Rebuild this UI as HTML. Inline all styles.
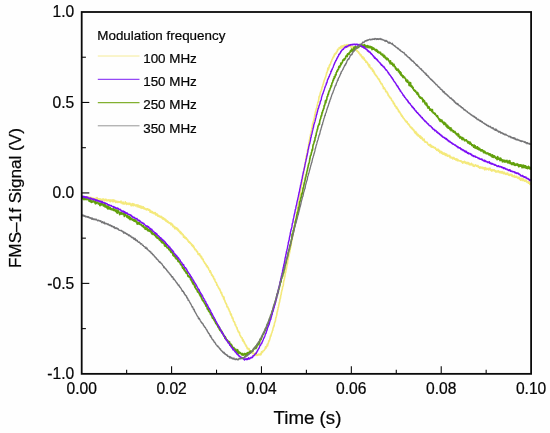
<!DOCTYPE html>
<html><head><meta charset="utf-8"><title>FMS-1f Signal</title>
<style>
html,body{margin:0;padding:0;background:#fefefe;}
body{width:550px;height:433px;overflow:hidden;}
svg{display:block;}
text{font-family:"Liberation Sans",Arial,sans-serif;fill:#050505;stroke:#050505;stroke-width:0.22px;}
</style></head><body>
<svg width="550" height="433" viewBox="0 0 550 433">
<rect x="0" y="0" width="550" height="433" fill="#fefefe"/>
<g fill="none" stroke-linejoin="round" stroke-linecap="butt">
<path d="M81.7,197.7 L81.9,197.9 L82.0,197.3 L82.2,196.5 L82.4,196.4 L82.6,197.0 L82.7,197.1 L82.9,197.0 L83.1,197.0 L83.3,197.1 L83.4,196.7 L83.6,197.2 L83.8,198.0 L83.9,198.4 L84.1,198.1 L84.3,197.3 L84.5,197.1 L84.6,196.7 L84.8,197.3 L85.0,197.5 L85.2,196.7 L85.3,197.1 L85.5,198.1 L85.7,198.3 L85.8,197.4 L86.0,197.0 L86.2,197.7 L86.4,197.9 L86.5,197.4 L86.7,197.4 L86.9,198.0 L87.1,198.9 L87.2,198.1 L87.4,197.2 L87.6,197.4 L87.8,196.7 L87.9,196.7 L88.1,197.2 L88.3,198.0 L88.4,198.4 L88.6,197.4 L88.8,197.7 L89.0,198.2 L89.1,197.3 L89.3,197.3 L89.5,197.7 L89.7,197.6 L89.8,197.9 L90.0,197.4 L90.2,197.3 L90.3,198.5 L90.5,199.0 L90.7,199.0 L90.9,199.2 L91.0,199.3 L91.2,198.5 L91.4,198.3 L91.6,198.0 L91.7,197.5 L91.9,197.5 L92.1,198.2 L92.2,199.4 L92.4,198.9 L92.6,199.1 L92.8,199.0 L92.9,198.4 L93.1,198.7 L93.3,198.3 L93.5,198.4 L93.6,199.6 L93.8,199.0 L94.0,198.7 L94.1,199.0 L94.3,199.3 L94.5,199.6 L94.7,199.2 L94.8,199.3 L95.0,199.2 L95.2,198.4 L95.4,198.9 L95.5,198.9 L95.7,198.5 L95.9,199.2 L96.1,198.9 L96.2,198.7 L96.4,199.5 L96.6,199.4 L96.7,198.7 L96.9,197.6 L97.1,197.6 L97.3,198.5 L97.4,198.7 L97.6,198.6 L97.8,198.9 L98.0,199.1 L98.1,198.9 L98.3,199.4 L98.5,199.1 L98.6,198.8 L98.8,200.0 L99.0,200.4 L99.2,199.1 L99.3,198.8 L99.5,199.5 L99.7,200.0 L99.9,199.9 L100.0,199.2 L100.2,198.9 L100.4,199.4 L100.5,199.8 L100.7,199.4 L100.9,199.2 L101.1,199.3 L101.2,199.6 L101.4,199.6 L101.6,199.5 L101.8,200.1 L101.9,200.1 L102.1,199.5 L102.3,199.8 L102.4,199.9 L102.6,199.6 L102.8,199.6 L103.0,198.8 L103.1,199.2 L103.3,200.0 L103.5,199.9 L103.7,199.9 L103.8,199.7 L104.0,199.3 L104.2,199.5 L104.4,200.5 L104.5,200.9 L104.7,200.0 L104.9,200.0 L105.0,200.0 L105.2,199.6 L105.4,200.1 L105.6,200.1 L105.7,199.2 L105.9,199.1 L106.1,199.8 L106.3,200.2 L106.4,200.6 L106.6,200.3 L106.8,200.2 L106.9,200.6 L107.1,200.3 L107.3,200.5 L107.5,200.7 L107.6,200.1 L107.8,200.4 L108.0,200.2 L108.2,199.9 L108.3,200.4 L108.5,200.5 L108.7,200.3 L108.8,200.1 L109.0,200.4 L109.2,200.8 L109.4,200.5 L109.5,200.2 L109.7,200.4 L109.9,199.9 L110.1,201.1 L110.2,201.6 L110.4,200.0 L110.6,200.6 L110.7,200.8 L110.9,200.4 L111.1,201.1 L111.3,200.8 L111.4,200.3 L111.6,200.4 L111.8,200.5 L112.0,200.1 L112.1,199.7 L112.3,200.3 L112.5,201.2 L112.7,201.5 L112.8,201.8 L113.0,201.8 L113.2,201.0 L113.3,200.7 L113.5,200.2 L113.7,199.9 L113.9,200.3 L114.0,200.8 L114.2,201.4 L114.4,201.2 L114.6,200.7 L114.7,200.4 L114.9,200.6 L115.1,201.3 L115.2,201.5 L115.4,201.1 L115.6,201.7 L115.8,202.5 L115.9,201.8 L116.1,201.1 L116.3,201.1 L116.5,201.4 L116.6,201.5 L116.8,201.6 L117.0,202.0 L117.1,202.3 L117.3,202.5 L117.5,202.0 L117.7,201.7 L117.8,201.6 L118.0,201.3 L118.2,202.2 L118.4,202.3 L118.5,202.3 L118.7,202.4 L118.9,201.8 L119.0,202.3 L119.2,202.3 L119.4,202.0 L119.6,202.0 L119.7,201.7 L119.9,201.7 L120.1,201.7 L120.3,202.4 L120.4,202.6 L120.6,202.7 L120.8,201.7 L121.0,201.1 L121.1,202.4 L121.3,202.3 L121.5,202.5 L121.6,202.9 L121.8,202.4 L122.0,202.4 L122.2,203.6 L122.3,203.5 L122.5,202.6 L122.7,202.4 L122.9,202.4 L123.0,202.1 L123.2,202.0 L123.4,203.4 L123.5,203.9 L123.7,203.3 L123.9,203.3 L124.1,203.8 L124.2,203.7 L124.4,203.8 L124.6,204.0 L124.8,203.3 L124.9,203.6 L125.1,202.7 L125.3,201.8 L125.4,202.8 L125.6,202.8 L125.8,202.6 L126.0,202.8 L126.1,202.6 L126.3,203.9 L126.5,204.4 L126.7,203.4 L126.8,203.7 L127.0,203.7 L127.2,203.6 L127.3,203.8 L127.5,204.1 L127.7,203.5 L127.9,203.2 L128.0,203.8 L128.2,203.2 L128.4,203.5 L128.6,203.7 L128.7,203.9 L128.9,204.5 L129.1,204.2 L129.3,204.1 L129.4,204.2 L129.6,203.5 L129.8,203.2 L129.9,203.7 L130.1,203.8 L130.3,204.1 L130.5,204.3 L130.6,204.0 L130.8,204.5 L131.0,205.7 L131.2,205.0 L131.3,204.2 L131.5,204.4 L131.7,204.9 L131.8,205.6 L132.0,204.7 L132.2,203.8 L132.4,203.9 L132.5,203.8 L132.7,203.6 L132.9,204.2 L133.1,204.4 L133.2,204.9 L133.4,205.7 L133.6,204.8 L133.7,204.1 L133.9,204.3 L134.1,205.3 L134.3,205.2 L134.4,204.2 L134.6,204.6 L134.8,205.3 L135.0,205.1 L135.1,205.6 L135.3,206.0 L135.5,205.6 L135.6,205.3 L135.8,205.1 L136.0,205.5 L136.2,204.7 L136.3,204.9 L136.5,205.1 L136.7,205.1 L136.9,205.2 L137.0,206.0 L137.2,206.8 L137.4,206.4 L137.6,206.7 L137.7,205.9 L137.9,204.8 L138.1,205.2 L138.2,206.4 L138.4,206.6 L138.6,206.7 L138.8,207.0 L138.9,206.2 L139.1,206.1 L139.3,207.4 L139.5,207.1 L139.6,205.7 L139.8,205.9 L140.0,206.5 L140.1,206.8 L140.3,206.7 L140.5,206.7 L140.7,206.2 L140.8,206.6 L141.0,208.1 L141.2,208.3 L141.4,207.2 L141.5,206.9 L141.7,206.4 L141.9,206.5 L142.0,207.6 L142.2,207.2 L142.4,207.4 L142.6,207.9 L142.7,208.2 L142.9,208.3 L143.1,208.1 L143.3,207.4 L143.4,206.9 L143.6,207.5 L143.8,208.1 L143.9,208.4 L144.1,208.9 L144.3,208.6 L144.5,208.1 L144.6,208.6 L144.8,208.6 L145.0,208.8 L145.2,208.7 L145.3,209.1 L145.5,209.3 L145.7,209.3 L145.9,209.5 L146.0,209.7 L146.2,209.2 L146.4,208.9 L146.5,209.4 L146.7,209.3 L146.9,210.0 L147.1,209.6 L147.2,208.7 L147.4,208.8 L147.6,209.5 L147.8,209.3 L147.9,209.3 L148.1,209.6 L148.3,209.2 L148.4,209.6 L148.6,210.3 L148.8,210.3 L149.0,210.0 L149.1,210.3 L149.3,210.5 L149.5,209.6 L149.7,209.6 L149.8,210.7 L150.0,211.4 L150.2,212.2 L150.3,212.1 L150.5,211.4 L150.7,210.9 L150.9,211.0 L151.0,211.7 L151.2,212.3 L151.4,211.7 L151.6,211.4 L151.7,212.2 L151.9,212.8 L152.1,212.7 L152.2,211.9 L152.4,211.6 L152.6,211.8 L152.8,211.9 L152.9,212.4 L153.1,213.2 L153.3,213.2 L153.5,213.4 L153.6,213.0 L153.8,212.8 L154.0,212.9 L154.2,212.9 L154.3,213.6 L154.5,213.6 L154.7,212.6 L154.8,212.6 L155.0,213.1 L155.2,212.7 L155.4,212.8 L155.5,213.8 L155.7,214.9 L155.9,214.4 L156.1,214.2 L156.2,215.0 L156.4,214.3 L156.6,213.9 L156.7,214.4 L156.9,214.6 L157.1,214.1 L157.3,214.0 L157.4,215.1 L157.6,215.8 L157.8,216.2 L158.0,215.7 L158.1,215.8 L158.3,216.3 L158.5,215.2 L158.6,215.3 L158.8,215.8 L159.0,215.8 L159.2,216.0 L159.3,216.4 L159.5,216.6 L159.7,216.2 L159.9,216.6 L160.0,216.9 L160.2,216.5 L160.4,216.9 L160.5,217.1 L160.7,216.4 L160.9,216.5 L161.1,216.3 L161.2,216.4 L161.4,217.8 L161.6,217.8 L161.8,217.2 L161.9,217.2 L162.1,217.1 L162.3,218.2 L162.5,218.9 L162.6,218.2 L162.8,218.0 L163.0,218.0 L163.1,217.8 L163.3,217.9 L163.5,218.0 L163.7,218.5 L163.8,219.2 L164.0,219.4 L164.2,219.2 L164.4,218.7 L164.5,218.8 L164.7,219.1 L164.9,219.6 L165.0,220.2 L165.2,220.3 L165.4,220.1 L165.6,219.3 L165.7,219.9 L165.9,221.1 L166.1,220.3 L166.3,220.1 L166.4,221.2 L166.6,220.9 L166.8,221.2 L166.9,221.6 L167.1,220.7 L167.3,221.4 L167.5,222.1 L167.6,221.4 L167.8,221.8 L168.0,221.4 L168.2,221.9 L168.3,222.5 L168.5,222.0 L168.7,222.3 L168.8,222.5 L169.0,223.1 L169.2,222.8 L169.4,222.9 L169.5,223.2 L169.7,222.8 L169.9,222.9 L170.1,222.9 L170.2,222.9 L170.4,223.7 L170.6,224.1 L170.8,224.3 L170.9,224.7 L171.1,224.0 L171.3,223.3 L171.4,223.5 L171.6,224.5 L171.8,224.9 L172.0,224.6 L172.1,225.1 L172.3,224.9 L172.5,224.2 L172.7,225.0 L172.8,226.5 L173.0,226.7 L173.2,225.7 L173.3,225.9 L173.5,226.7 L173.7,226.9 L173.9,226.7 L174.0,226.2 L174.2,226.5 L174.4,227.1 L174.6,227.8 L174.7,228.6 L174.9,227.9 L175.1,227.0 L175.2,227.4 L175.4,227.7 L175.6,228.0 L175.8,228.5 L175.9,228.5 L176.1,229.0 L176.3,229.0 L176.5,228.3 L176.6,227.9 L176.8,228.1 L177.0,228.4 L177.1,228.2 L177.3,229.0 L177.5,230.0 L177.7,229.7 L177.8,229.5 L178.0,229.2 L178.2,229.3 L178.4,230.8 L178.5,230.5 L178.7,230.0 L178.9,231.3 L179.0,231.4 L179.2,231.2 L179.4,231.6 L179.6,231.4 L179.7,231.5 L179.9,232.6 L180.1,232.2 L180.3,231.5 L180.4,232.1 L180.6,233.0 L180.8,233.6 L181.0,233.7 L181.1,233.1 L181.3,232.6 L181.5,233.1 L181.6,233.8 L181.8,233.5 L182.0,233.5 L182.2,234.2 L182.3,234.8 L182.5,234.5 L182.7,234.4 L182.9,234.6 L183.0,234.4 L183.2,234.9 L183.4,235.8 L183.5,237.3 L183.7,237.0 L183.9,236.1 L184.1,236.6 L184.2,236.1 L184.4,236.2 L184.6,236.4 L184.8,236.9 L184.9,238.1 L185.1,237.8 L185.3,237.2 L185.4,237.8 L185.6,238.4 L185.8,238.0 L186.0,238.3 L186.1,237.8 L186.3,237.9 L186.5,239.1 L186.7,239.3 L186.8,239.2 L187.0,238.9 L187.2,239.2 L187.3,239.9 L187.5,239.8 L187.7,239.7 L187.9,240.2 L188.0,241.1 L188.2,241.1 L188.4,241.2 L188.6,241.7 L188.7,242.2 L188.9,242.0 L189.1,241.5 L189.3,241.5 L189.4,241.7 L189.6,242.3 L189.8,242.9 L189.9,242.7 L190.1,242.6 L190.3,242.6 L190.5,243.2 L190.6,243.6 L190.8,243.5 L191.0,243.6 L191.2,243.5 L191.3,243.8 L191.5,244.7 L191.7,245.3 L191.8,244.8 L192.0,244.6 L192.2,244.6 L192.4,245.4 L192.5,246.4 L192.7,245.9 L192.9,245.2 L193.1,245.8 L193.2,246.2 L193.4,245.8 L193.6,246.3 L193.7,247.4 L193.9,247.0 L194.1,247.0 L194.3,248.2 L194.4,248.7 L194.6,248.4 L194.8,249.1 L195.0,249.7 L195.1,248.8 L195.3,249.2 L195.5,249.3 L195.6,249.5 L195.8,249.7 L196.0,249.8 L196.2,250.3 L196.3,250.7 L196.5,251.4 L196.7,251.4 L196.9,251.4 L197.0,251.8 L197.2,251.4 L197.4,251.4 L197.6,252.4 L197.7,252.7 L197.9,253.1 L198.1,254.5 L198.2,254.5 L198.4,253.6 L198.6,253.9 L198.8,254.4 L198.9,253.9 L199.1,254.1 L199.3,254.9 L199.5,253.7 L199.6,253.7 L199.8,254.8 L200.0,255.5 L200.1,255.8 L200.3,256.3 L200.5,256.5 L200.7,256.5 L200.8,255.9 L201.0,256.4 L201.2,257.8 L201.4,257.7 L201.5,256.9 L201.7,256.8 L201.9,258.4 L202.0,258.9 L202.2,258.3 L202.4,258.5 L202.6,259.3 L202.7,259.6 L202.9,259.3 L203.1,259.2 L203.3,259.8 L203.4,261.0 L203.6,261.2 L203.8,261.4 L203.9,261.8 L204.1,261.8 L204.3,262.1 L204.5,262.3 L204.6,262.9 L204.8,263.3 L205.0,263.0 L205.2,263.2 L205.3,263.6 L205.5,264.0 L205.7,264.4 L205.9,264.7 L206.0,264.3 L206.2,264.6 L206.4,265.9 L206.5,265.5 L206.7,265.9 L206.9,266.8 L207.1,266.4 L207.2,265.9 L207.4,266.7 L207.6,267.3 L207.8,267.0 L207.9,267.9 L208.1,268.0 L208.3,267.7 L208.4,267.9 L208.6,268.5 L208.8,269.5 L209.0,270.0 L209.1,270.2 L209.3,270.2 L209.5,270.4 L209.7,270.6 L209.8,271.6 L210.0,272.2 L210.2,271.0 L210.3,270.9 L210.5,272.5 L210.7,272.7 L210.9,272.2 L211.0,273.2 L211.2,273.3 L211.4,273.8 L211.6,275.2 L211.7,274.8 L211.9,274.9 L212.1,275.2 L212.2,274.7 L212.4,275.4 L212.6,276.2 L212.8,276.2 L212.9,276.8 L213.1,276.7 L213.3,276.4 L213.5,276.9 L213.6,277.8 L213.8,278.8 L214.0,279.1 L214.2,278.7 L214.3,278.8 L214.5,279.8 L214.7,279.5 L214.8,279.3 L215.0,280.5 L215.2,281.4 L215.4,281.6 L215.5,281.8 L215.7,282.2 L215.9,282.4 L216.1,282.6 L216.2,282.5 L216.4,282.8 L216.6,283.3 L216.7,284.6 L216.9,285.2 L217.1,284.7 L217.3,284.8 L217.4,285.1 L217.6,285.5 L217.8,286.1 L218.0,286.5 L218.1,287.0 L218.3,287.1 L218.5,287.2 L218.6,288.2 L218.8,288.0 L219.0,288.0 L219.2,288.9 L219.3,289.1 L219.5,289.2 L219.7,288.9 L219.9,289.9 L220.0,290.6 L220.2,290.1 L220.4,291.0 L220.5,291.2 L220.7,291.7 L220.9,292.9 L221.1,293.1 L221.2,293.2 L221.4,292.9 L221.6,292.6 L221.8,294.0 L221.9,294.9 L222.1,294.5 L222.3,295.7 L222.5,296.0 L222.6,295.7 L222.8,296.2 L223.0,296.6 L223.1,296.7 L223.3,296.9 L223.5,298.1 L223.7,299.0 L223.8,297.8 L224.0,297.1 L224.2,298.8 L224.4,299.8 L224.5,299.9 L224.7,300.8 L224.9,300.6 L225.0,301.0 L225.2,302.1 L225.4,302.3 L225.6,302.7 L225.7,303.2 L225.9,303.4 L226.1,303.3 L226.3,304.0 L226.4,304.7 L226.6,304.3 L226.8,305.1 L226.9,306.4 L227.1,306.9 L227.3,306.8 L227.5,306.8 L227.6,307.0 L227.8,306.9 L228.0,307.5 L228.2,308.3 L228.3,308.4 L228.5,309.4 L228.7,309.4 L228.8,308.8 L229.0,309.6 L229.2,310.8 L229.4,311.3 L229.5,311.1 L229.7,311.2 L229.9,311.5 L230.1,311.7 L230.2,312.8 L230.4,313.9 L230.6,314.3 L230.8,314.2 L230.9,315.1 L231.1,315.4 L231.3,314.1 L231.4,314.8 L231.6,316.0 L231.8,316.8 L232.0,316.7 L232.1,317.0 L232.3,318.5 L232.5,318.3 L232.7,317.8 L232.8,317.9 L233.0,318.6 L233.2,320.0 L233.3,320.6 L233.5,321.0 L233.7,321.6 L233.9,321.7 L234.0,321.9 L234.2,321.9 L234.4,321.7 L234.6,322.5 L234.7,322.9 L234.9,323.4 L235.1,324.6 L235.2,324.9 L235.4,324.5 L235.6,324.5 L235.8,325.7 L235.9,326.0 L236.1,326.0 L236.3,326.5 L236.5,326.9 L236.6,327.8 L236.8,328.0 L237.0,327.4 L237.1,328.5 L237.3,329.5 L237.5,329.6 L237.7,329.9 L237.8,330.3 L238.0,331.2 L238.2,331.7 L238.4,331.5 L238.5,331.3 L238.7,331.9 L238.9,332.5 L239.1,332.9 L239.2,332.9 L239.4,332.2 L239.6,333.0 L239.7,334.5 L239.9,334.9 L240.1,335.6 L240.3,336.0 L240.4,335.6 L240.6,336.0 L240.8,336.4 L241.0,336.9 L241.1,337.3 L241.3,337.4 L241.5,337.7 L241.6,337.9 L241.8,337.6 L242.0,337.9 L242.2,337.9 L242.3,338.4 L242.5,340.0 L242.7,340.9 L242.9,340.9 L243.0,340.2 L243.2,339.8 L243.4,341.1 L243.5,341.5 L243.7,341.4 L243.9,341.4 L244.1,341.3 L244.2,342.7 L244.4,343.2 L244.6,343.2 L244.8,343.1 L244.9,343.0 L245.1,344.0 L245.3,344.8 L245.4,344.6 L245.6,344.8 L245.8,344.8 L246.0,345.4 L246.1,346.5 L246.3,346.1 L246.5,345.9 L246.7,346.9 L246.8,346.9 L247.0,347.5 L247.2,348.6 L247.4,347.9 L247.5,348.0 L247.7,348.9 L247.9,348.3 L248.0,348.2 L248.2,348.8 L248.4,348.7 L248.6,349.3 L248.7,349.4 L248.9,348.8 L249.1,348.7 L249.3,349.4 L249.4,350.3 L249.6,350.5 L249.8,350.4 L249.9,350.6 L250.1,351.3 L250.3,351.7 L250.5,351.1 L250.6,351.0 L250.8,351.9 L251.0,351.9 L251.2,351.5 L251.3,351.8 L251.5,351.7 L251.7,352.2 L251.8,351.9 L252.0,352.3 L252.2,353.1 L252.4,352.2 L252.5,352.6 L252.7,352.5 L252.9,352.7 L253.1,353.7 L253.2,353.4 L253.4,353.1 L253.6,353.8 L253.7,353.8 L253.9,353.5 L254.1,354.0 L254.3,354.6 L254.4,354.4 L254.6,353.9 L254.8,354.6 L255.0,353.7 L255.1,353.2 L255.3,353.5 L255.5,353.0 L255.7,354.5 L255.8,355.4 L256.0,355.2 L256.2,355.1 L256.3,354.8 L256.5,354.7 L256.7,354.4 L256.9,354.5 L257.0,354.8 L257.2,355.4 L257.4,355.3 L257.6,354.9 L257.7,354.8 L257.9,354.7 L258.1,354.3 L258.2,354.6 L258.4,354.8 L258.6,354.4 L258.8,354.4 L258.9,354.7 L259.1,354.9 L259.3,354.5 L259.5,354.3 L259.6,354.3 L259.8,354.4 L260.0,354.4 L260.1,354.5 L260.3,354.8 L260.5,354.4 L260.7,353.2 L260.8,353.5 L261.0,354.7 L261.2,353.7 L261.4,352.7 L261.5,351.9 L261.7,352.2 L261.9,352.4 L262.0,352.7 L262.2,352.0 L262.4,351.2 L262.6,352.2 L262.7,351.9 L262.9,351.1 L263.1,351.2 L263.3,351.1 L263.4,350.7 L263.6,350.7 L263.8,350.5 L263.9,350.2 L264.1,350.5 L264.3,350.2 L264.5,349.8 L264.6,349.4 L264.8,349.5 L265.0,349.0 L265.2,348.8 L265.3,347.9 L265.5,346.9 L265.7,347.2 L265.9,347.6 L266.0,348.1 L266.2,346.9 L266.4,346.3 L266.5,347.0 L266.7,346.8 L266.9,346.2 L267.1,345.3 L267.2,344.2 L267.4,344.7 L267.6,345.7 L267.8,344.9 L267.9,343.9 L268.1,343.3 L268.3,343.2 L268.4,343.0 L268.6,341.9 L268.8,340.9 L269.0,340.5 L269.1,340.8 L269.3,341.0 L269.5,340.0 L269.7,339.4 L269.8,339.2 L270.0,338.2 L270.2,337.5 L270.3,336.4 L270.5,335.8 L270.7,336.5 L270.9,336.0 L271.0,334.7 L271.2,335.0 L271.4,333.9 L271.6,333.1 L271.7,333.1 L271.9,332.5 L272.1,332.4 L272.2,331.7 L272.4,330.7 L272.6,330.5 L272.8,330.2 L272.9,329.1 L273.1,328.2 L273.3,327.3 L273.5,327.3 L273.6,326.7 L273.8,325.7 L274.0,326.2 L274.2,325.8 L274.3,324.4 L274.5,323.2 L274.7,322.4 L274.8,322.4 L275.0,322.1 L275.2,321.1 L275.4,321.2 L275.5,320.2 L275.7,318.4 L275.9,317.9 L276.1,317.4 L276.2,317.0 L276.4,316.1 L276.6,315.5 L276.7,315.1 L276.9,314.0 L277.1,312.1 L277.3,311.8 L277.4,311.6 L277.6,310.3 L277.8,309.8 L278.0,308.9 L278.1,307.8 L278.3,307.5 L278.5,306.9 L278.6,306.2 L278.8,305.2 L279.0,304.2 L279.2,303.3 L279.3,302.5 L279.5,302.2 L279.7,301.4 L279.9,299.9 L280.0,299.1 L280.2,298.9 L280.4,298.5 L280.5,297.6 L280.7,296.2 L280.9,295.0 L281.1,295.0 L281.2,294.3 L281.4,292.3 L281.6,291.7 L281.8,290.6 L281.9,290.2 L282.1,290.1 L282.3,289.1 L282.5,287.8 L282.6,286.6 L282.8,286.4 L283.0,286.1 L283.1,286.0 L283.3,285.2 L283.5,282.6 L283.7,281.4 L283.8,281.1 L284.0,280.6 L284.2,279.9 L284.4,278.8 L284.5,277.8 L284.7,277.0 L284.9,276.8 L285.0,275.5 L285.2,273.4 L285.4,272.3 L285.6,272.8 L285.7,272.4 L285.9,270.9 L286.1,269.6 L286.3,269.2 L286.4,268.8 L286.6,267.5 L286.8,266.4 L286.9,265.5 L287.1,264.7 L287.3,264.1 L287.5,263.8 L287.6,262.0 L287.8,260.1 L288.0,259.9 L288.2,259.6 L288.3,258.2 L288.5,257.1 L288.7,256.6 L288.8,255.8 L289.0,254.9 L289.2,254.1 L289.4,253.8 L289.5,253.2 L289.7,252.2 L289.9,251.1 L290.1,249.7 L290.2,248.6 L290.4,248.2 L290.6,247.5 L290.8,246.7 L290.9,245.8 L291.1,244.6 L291.3,243.8 L291.4,242.3 L291.6,241.2 L291.8,240.6 L292.0,240.1 L292.1,239.1 L292.3,238.0 L292.5,237.2 L292.7,236.3 L292.8,235.8 L293.0,234.6 L293.2,233.5 L293.3,232.7 L293.5,232.0 L293.7,230.9 L293.9,229.7 L294.0,228.7 L294.2,227.4 L294.4,226.7 L294.6,226.2 L294.7,224.9 L294.9,224.4 L295.1,223.5 L295.2,222.2 L295.4,221.7 L295.6,219.8 L295.8,218.7 L295.9,217.7 L296.1,216.7 L296.3,216.6 L296.5,216.4 L296.6,215.4 L296.8,213.2 L297.0,211.8 L297.1,211.9 L297.3,211.1 L297.5,210.2 L297.7,208.9 L297.8,207.0 L298.0,205.7 L298.2,204.8 L298.4,204.8 L298.5,203.5 L298.7,202.4 L298.9,201.9 L299.1,200.8 L299.2,199.5 L299.4,198.2 L299.6,198.1 L299.7,196.5 L299.9,195.0 L300.1,195.0 L300.3,193.8 L300.4,192.9 L300.6,190.5 L300.8,188.7 L301.0,188.4 L301.1,187.3 L301.3,186.6 L301.5,185.9 L301.6,184.6 L301.8,183.7 L302.0,182.4 L302.2,181.4 L302.3,180.8 L302.5,178.8 L302.7,177.2 L302.9,176.1 L303.0,175.4 L303.2,175.1 L303.4,174.9 L303.5,174.1 L303.7,172.1 L303.9,169.9 L304.1,169.3 L304.2,168.6 L304.4,167.6 L304.6,166.9 L304.8,166.9 L304.9,165.5 L305.1,163.6 L305.3,164.0 L305.4,162.7 L305.6,160.7 L305.8,160.5 L306.0,159.0 L306.1,156.7 L306.3,156.1 L306.5,155.9 L306.7,155.7 L306.8,154.5 L307.0,154.1 L307.2,153.1 L307.4,151.3 L307.5,150.3 L307.7,149.9 L307.9,149.0 L308.0,147.5 L308.2,147.2 L308.4,146.9 L308.6,145.7 L308.7,143.9 L308.9,142.2 L309.1,141.7 L309.3,141.1 L309.4,140.1 L309.6,139.2 L309.8,138.8 L309.9,137.6 L310.1,136.6 L310.3,135.9 L310.5,134.8 L310.6,134.0 L310.8,133.6 L311.0,132.9 L311.2,131.5 L311.3,130.7 L311.5,130.2 L311.7,129.4 L311.8,128.4 L312.0,127.9 L312.2,127.3 L312.4,125.7 L312.5,124.2 L312.7,123.3 L312.9,123.2 L313.1,122.7 L313.2,121.6 L313.4,121.1 L313.6,120.9 L313.7,121.0 L313.9,119.7 L314.1,118.9 L314.3,118.4 L314.4,117.3 L314.6,116.3 L314.8,114.6 L315.0,114.1 L315.1,114.4 L315.3,112.9 L315.5,111.6 L315.7,111.6 L315.8,111.1 L316.0,109.9 L316.2,108.8 L316.3,108.8 L316.5,109.0 L316.7,108.0 L316.9,107.0 L317.0,106.4 L317.2,105.5 L317.4,104.6 L317.6,103.7 L317.7,102.9 L317.9,102.4 L318.1,102.4 L318.2,101.7 L318.4,100.9 L318.6,100.0 L318.8,99.3 L318.9,97.7 L319.1,96.3 L319.3,96.7 L319.5,96.0 L319.6,95.7 L319.8,95.8 L320.0,94.6 L320.1,94.0 L320.3,93.1 L320.5,92.1 L320.7,92.0 L320.8,91.1 L321.0,91.0 L321.2,90.8 L321.4,90.2 L321.5,89.8 L321.7,89.0 L321.9,88.1 L322.0,87.3 L322.2,86.9 L322.4,86.5 L322.6,86.6 L322.7,85.8 L322.9,84.6 L323.1,84.4 L323.3,84.2 L323.4,83.5 L323.6,82.5 L323.8,81.8 L324.0,81.4 L324.1,81.1 L324.3,80.3 L324.5,79.6 L324.6,79.6 L324.8,79.2 L325.0,78.1 L325.2,77.9 L325.3,77.8 L325.5,77.3 L325.7,76.8 L325.9,75.9 L326.0,75.2 L326.2,74.9 L326.4,74.4 L326.5,73.1 L326.7,72.6 L326.9,72.8 L327.1,72.5 L327.2,71.8 L327.4,71.1 L327.6,70.1 L327.8,69.0 L327.9,68.1 L328.1,68.1 L328.3,69.4 L328.4,69.7 L328.6,68.2 L328.8,67.3 L329.0,67.8 L329.1,66.9 L329.3,65.3 L329.5,65.5 L329.7,65.7 L329.8,64.6 L330.0,64.9 L330.2,64.8 L330.3,64.1 L330.5,64.1 L330.7,63.3 L330.9,62.0 L331.0,61.9 L331.2,61.9 L331.4,61.5 L331.6,61.3 L331.7,60.3 L331.9,59.8 L332.1,59.6 L332.3,59.1 L332.4,58.9 L332.6,58.7 L332.8,58.5 L332.9,57.5 L333.1,57.3 L333.3,56.9 L333.5,57.2 L333.6,57.1 L333.8,55.9 L334.0,56.4 L334.2,56.0 L334.3,54.7 L334.5,54.0 L334.7,54.2 L334.8,54.6 L335.0,54.5 L335.2,54.2 L335.4,53.4 L335.5,53.2 L335.7,53.6 L335.9,52.9 L336.1,53.4 L336.2,53.3 L336.4,52.1 L336.6,52.8 L336.7,52.4 L336.9,51.6 L337.1,51.3 L337.3,51.4 L337.4,50.0 L337.6,49.4 L337.8,50.1 L338.0,49.4 L338.1,49.5 L338.3,49.6 L338.5,49.6 L338.6,49.1 L338.8,49.2 L339.0,48.5 L339.2,47.5 L339.3,47.7 L339.5,48.0 L339.7,48.1 L339.9,48.1 L340.0,47.9 L340.2,48.1 L340.4,48.5 L340.6,47.7 L340.7,46.7 L340.9,46.3 L341.1,46.3 L341.2,47.1 L341.4,47.9 L341.6,46.8 L341.8,47.2 L341.9,47.4 L342.1,45.8 L342.3,46.2 L342.5,47.5 L342.6,47.0 L342.8,46.1 L343.0,46.5 L343.1,46.6 L343.3,46.0 L343.5,46.3 L343.7,46.4 L343.8,46.0 L344.0,45.4 L344.2,45.8 L344.4,45.4 L344.5,45.1 L344.7,46.0 L344.9,46.1 L345.0,45.8 L345.2,45.6 L345.4,46.0 L345.6,45.5 L345.7,45.2 L345.9,45.7 L346.1,45.2 L346.3,44.7 L346.4,45.8 L346.6,46.5 L346.8,45.6 L346.9,45.5 L347.1,45.9 L347.3,46.2 L347.5,46.5 L347.6,45.0 L347.8,44.5 L348.0,45.9 L348.2,46.7 L348.3,46.0 L348.5,44.9 L348.7,45.3 L348.9,45.5 L349.0,45.4 L349.2,45.3 L349.4,45.6 L349.5,46.3 L349.7,46.2 L349.9,45.7 L350.1,44.9 L350.2,44.9 L350.4,45.8 L350.6,45.7 L350.8,45.8 L350.9,47.2 L351.1,46.8 L351.3,46.1 L351.4,46.8 L351.6,47.3 L351.8,46.8 L352.0,46.5 L352.1,46.8 L352.3,46.9 L352.5,47.2 L352.7,47.5 L352.8,47.9 L353.0,47.2 L353.2,47.3 L353.3,48.4 L353.5,48.0 L353.7,48.0 L353.9,48.5 L354.0,48.6 L354.2,48.3 L354.4,48.4 L354.6,48.4 L354.7,47.9 L354.9,48.0 L355.1,48.3 L355.2,48.9 L355.4,49.6 L355.6,49.8 L355.8,50.2 L355.9,50.2 L356.1,49.6 L356.3,49.5 L356.5,49.6 L356.6,49.9 L356.8,51.0 L357.0,50.7 L357.1,50.6 L357.3,51.3 L357.5,51.6 L357.7,51.6 L357.8,51.8 L358.0,51.9 L358.2,52.1 L358.4,51.7 L358.5,51.9 L358.7,53.1 L358.9,52.5 L359.1,52.7 L359.2,53.1 L359.4,53.4 L359.6,54.0 L359.7,54.1 L359.9,54.4 L360.1,53.9 L360.3,54.6 L360.4,55.7 L360.6,54.9 L360.8,54.9 L361.0,55.6 L361.1,55.4 L361.3,55.0 L361.5,56.0 L361.6,56.4 L361.8,56.5 L362.0,57.6 L362.2,57.6 L362.3,56.8 L362.5,57.2 L362.7,57.2 L362.9,56.7 L363.0,58.5 L363.2,58.8 L363.4,58.0 L363.5,58.1 L363.7,58.2 L363.9,58.9 L364.1,58.1 L364.2,58.0 L364.4,59.5 L364.6,60.3 L364.8,60.4 L364.9,59.9 L365.1,60.2 L365.3,60.5 L365.4,60.3 L365.6,60.7 L365.8,62.1 L366.0,62.0 L366.1,61.7 L366.3,62.4 L366.5,61.7 L366.7,61.5 L366.8,62.2 L367.0,62.6 L367.2,63.0 L367.4,63.0 L367.5,62.8 L367.7,63.7 L367.9,64.3 L368.0,63.9 L368.2,64.1 L368.4,65.4 L368.6,65.4 L368.7,64.4 L368.9,65.2 L369.1,66.7 L369.3,67.0 L369.4,66.1 L369.6,65.0 L369.8,66.2 L369.9,67.2 L370.1,67.1 L370.3,67.4 L370.5,68.1 L370.6,68.4 L370.8,67.9 L371.0,68.2 L371.2,68.1 L371.3,68.3 L371.5,69.0 L371.7,68.4 L371.8,68.2 L372.0,68.8 L372.2,68.9 L372.4,69.7 L372.5,71.0 L372.7,71.2 L372.9,70.5 L373.1,69.9 L373.2,71.0 L373.4,71.8 L373.6,71.8 L373.7,71.6 L373.9,71.2 L374.1,72.7 L374.3,73.5 L374.4,72.9 L374.6,72.9 L374.8,73.8 L375.0,74.4 L375.1,74.0 L375.3,74.4 L375.5,74.7 L375.7,75.5 L375.8,75.1 L376.0,75.0 L376.2,75.7 L376.3,75.6 L376.5,75.9 L376.7,76.4 L376.9,76.5 L377.0,76.4 L377.2,77.3 L377.4,77.6 L377.6,77.4 L377.7,78.1 L377.9,78.5 L378.1,78.5 L378.2,78.8 L378.4,78.8 L378.6,79.4 L378.8,79.6 L378.9,78.9 L379.1,79.8 L379.3,80.2 L379.5,79.9 L379.6,80.6 L379.8,81.5 L380.0,81.7 L380.1,81.5 L380.3,81.8 L380.5,82.4 L380.7,82.6 L380.8,82.8 L381.0,83.8 L381.2,83.9 L381.4,83.5 L381.5,83.5 L381.7,83.6 L381.9,83.8 L382.0,83.9 L382.2,84.5 L382.4,85.3 L382.6,86.0 L382.7,85.9 L382.9,86.2 L383.1,86.1 L383.3,87.0 L383.4,88.7 L383.6,88.2 L383.8,87.7 L384.0,88.1 L384.1,88.5 L384.3,88.5 L384.5,87.9 L384.6,88.7 L384.8,89.1 L385.0,89.2 L385.2,89.6 L385.3,89.4 L385.5,90.4 L385.7,91.6 L385.9,91.4 L386.0,91.0 L386.2,91.4 L386.4,91.6 L386.5,91.2 L386.7,91.6 L386.9,91.7 L387.1,92.2 L387.2,93.1 L387.4,93.3 L387.6,93.2 L387.8,93.1 L387.9,94.2 L388.1,95.2 L388.3,95.6 L388.4,95.5 L388.6,95.1 L388.8,95.4 L389.0,96.1 L389.1,96.1 L389.3,96.8 L389.5,96.9 L389.7,97.4 L389.8,97.7 L390.0,97.0 L390.2,97.5 L390.3,97.6 L390.5,97.7 L390.7,98.5 L390.9,98.3 L391.0,98.2 L391.2,98.6 L391.4,99.0 L391.6,100.3 L391.7,100.5 L391.9,100.3 L392.1,100.8 L392.3,100.8 L392.4,101.0 L392.6,101.5 L392.8,101.5 L392.9,101.3 L393.1,101.6 L393.3,102.9 L393.5,103.8 L393.6,103.6 L393.8,103.4 L394.0,103.7 L394.2,103.5 L394.3,103.2 L394.5,104.6 L394.7,105.1 L394.8,104.8 L395.0,106.1 L395.2,106.1 L395.4,105.7 L395.5,106.2 L395.7,106.4 L395.9,106.7 L396.1,107.0 L396.2,107.6 L396.4,108.1 L396.6,107.5 L396.7,107.1 L396.9,107.6 L397.1,108.1 L397.3,108.3 L397.4,109.2 L397.6,109.4 L397.8,109.2 L398.0,109.8 L398.1,109.4 L398.3,109.8 L398.5,111.0 L398.6,111.6 L398.8,111.3 L399.0,110.9 L399.2,111.6 L399.3,111.9 L399.5,111.5 L399.7,112.2 L399.9,112.9 L400.0,112.9 L400.2,112.9 L400.4,113.4 L400.6,113.9 L400.7,113.5 L400.9,114.2 L401.1,115.1 L401.2,114.7 L401.4,114.9 L401.6,116.1 L401.8,116.1 L401.9,115.2 L402.1,115.6 L402.3,116.7 L402.5,116.4 L402.6,116.8 L402.8,117.4 L403.0,117.0 L403.1,117.7 L403.3,118.0 L403.5,118.3 L403.7,118.5 L403.8,118.4 L404.0,118.7 L404.2,118.8 L404.4,119.3 L404.5,119.6 L404.7,119.5 L404.9,119.9 L405.0,120.2 L405.2,120.5 L405.4,121.0 L405.6,120.8 L405.7,120.5 L405.9,120.8 L406.1,121.8 L406.3,122.1 L406.4,122.1 L406.6,122.3 L406.8,122.0 L406.9,122.0 L407.1,121.6 L407.3,122.2 L407.5,123.2 L407.6,123.2 L407.8,123.7 L408.0,123.6 L408.2,124.2 L408.3,124.2 L408.5,123.9 L408.7,124.2 L408.9,124.2 L409.0,125.3 L409.2,125.1 L409.4,124.9 L409.5,125.7 L409.7,125.9 L409.9,126.2 L410.1,126.6 L410.2,126.9 L410.4,127.0 L410.6,127.3 L410.8,127.6 L410.9,127.5 L411.1,127.0 L411.3,127.5 L411.4,128.0 L411.6,128.6 L411.8,128.7 L412.0,127.8 L412.1,128.6 L412.3,129.0 L412.5,128.2 L412.7,129.1 L412.8,129.4 L413.0,129.6 L413.2,130.0 L413.3,129.8 L413.5,130.5 L413.7,129.8 L413.9,129.9 L414.0,130.6 L414.2,130.9 L414.4,131.4 L414.6,132.2 L414.7,132.1 L414.9,131.6 L415.1,132.7 L415.2,133.2 L415.4,132.9 L415.6,132.2 L415.8,131.6 L415.9,132.1 L416.1,132.8 L416.3,133.3 L416.5,134.6 L416.6,134.1 L416.8,133.1 L417.0,134.0 L417.2,134.4 L417.3,134.8 L417.5,134.8 L417.7,134.2 L417.8,135.2 L418.0,135.9 L418.2,134.9 L418.4,134.7 L418.5,135.3 L418.7,135.1 L418.9,135.5 L419.1,136.3 L419.2,136.1 L419.4,135.9 L419.6,136.9 L419.7,137.2 L419.9,136.5 L420.1,135.9 L420.3,136.0 L420.4,137.2 L420.6,138.3 L420.8,137.7 L421.0,136.6 L421.1,137.2 L421.3,138.1 L421.5,138.6 L421.6,138.5 L421.8,138.3 L422.0,138.1 L422.2,137.7 L422.3,138.4 L422.5,138.8 L422.7,139.4 L422.9,140.1 L423.0,139.6 L423.2,139.9 L423.4,140.3 L423.5,139.6 L423.7,140.5 L423.9,139.9 L424.1,139.1 L424.2,139.8 L424.4,140.5 L424.6,141.4 L424.8,141.9 L424.9,141.3 L425.1,141.3 L425.3,141.7 L425.5,142.1 L425.6,142.3 L425.8,142.3 L426.0,142.1 L426.1,142.2 L426.3,142.2 L426.5,142.1 L426.7,142.1 L426.8,142.1 L427.0,142.6 L427.2,142.4 L427.4,142.9 L427.5,143.7 L427.7,143.8 L427.9,143.8 L428.0,144.1 L428.2,144.6 L428.4,144.8 L428.6,144.7 L428.7,145.2 L428.9,145.0 L429.1,144.6 L429.3,144.5 L429.4,145.2 L429.6,145.7 L429.8,145.0 L429.9,145.7 L430.1,145.7 L430.3,145.0 L430.5,144.5 L430.6,144.8 L430.8,146.4 L431.0,146.7 L431.2,146.7 L431.3,147.1 L431.5,146.4 L431.7,145.7 L431.8,145.9 L432.0,146.8 L432.2,146.9 L432.4,146.8 L432.5,147.2 L432.7,147.1 L432.9,146.5 L433.1,146.6 L433.2,147.5 L433.4,147.4 L433.6,146.9 L433.8,147.0 L433.9,147.4 L434.1,147.8 L434.3,148.0 L434.4,147.7 L434.6,147.8 L434.8,148.2 L435.0,147.9 L435.1,147.6 L435.3,147.6 L435.5,148.2 L435.7,148.8 L435.8,149.3 L436.0,149.3 L436.2,149.4 L436.3,149.0 L436.5,149.4 L436.7,150.2 L436.9,150.3 L437.0,149.9 L437.2,149.7 L437.4,149.8 L437.6,149.4 L437.7,149.6 L437.9,149.6 L438.1,149.2 L438.2,150.1 L438.4,151.0 L438.6,151.2 L438.8,151.0 L438.9,150.8 L439.1,151.2 L439.3,151.2 L439.5,150.3 L439.6,151.4 L439.8,152.7 L440.0,152.5 L440.1,152.1 L440.3,151.5 L440.5,151.6 L440.7,152.1 L440.8,151.6 L441.0,151.4 L441.2,152.2 L441.4,153.1 L441.5,153.2 L441.7,152.6 L441.9,152.0 L442.0,153.0 L442.2,153.6 L442.4,153.2 L442.6,153.3 L442.7,152.6 L442.9,153.5 L443.1,154.3 L443.3,154.1 L443.4,153.6 L443.6,153.2 L443.8,154.1 L444.0,154.1 L444.1,153.4 L444.3,153.2 L444.5,153.0 L444.6,153.9 L444.8,154.4 L445.0,153.5 L445.2,154.2 L445.3,155.5 L445.5,155.4 L445.7,154.3 L445.9,154.0 L446.0,155.3 L446.2,154.9 L446.4,154.2 L446.5,154.6 L446.7,154.2 L446.9,154.5 L447.1,155.7 L447.2,156.0 L447.4,156.2 L447.6,156.1 L447.8,155.6 L447.9,155.6 L448.1,155.4 L448.3,155.2 L448.4,155.2 L448.6,155.7 L448.8,155.9 L449.0,156.0 L449.1,156.3 L449.3,156.6 L449.5,156.5 L449.7,155.5 L449.8,155.4 L450.0,157.0 L450.2,157.7 L450.3,156.9 L450.5,156.6 L450.7,156.8 L450.9,156.8 L451.0,157.0 L451.2,157.5 L451.4,158.0 L451.6,157.7 L451.7,157.2 L451.9,157.3 L452.1,157.5 L452.3,158.1 L452.4,157.8 L452.6,158.3 L452.8,158.9 L452.9,158.6 L453.1,158.1 L453.3,157.6 L453.5,157.8 L453.6,158.1 L453.8,157.6 L454.0,157.8 L454.2,158.0 L454.3,158.0 L454.5,159.1 L454.7,159.0 L454.8,158.7 L455.0,158.7 L455.2,158.8 L455.4,159.0 L455.5,159.5 L455.7,159.7 L455.9,160.0 L456.1,159.9 L456.2,159.2 L456.4,159.0 L456.6,158.8 L456.7,158.9 L456.9,159.3 L457.1,160.1 L457.3,160.6 L457.4,160.7 L457.6,159.9 L457.8,159.4 L458.0,160.5 L458.1,160.6 L458.3,160.1 L458.5,160.1 L458.6,160.4 L458.8,160.5 L459.0,160.6 L459.2,161.0 L459.3,161.0 L459.5,160.8 L459.7,160.8 L459.9,161.0 L460.0,160.8 L460.2,160.9 L460.4,161.1 L460.6,161.3 L460.7,161.2 L460.9,160.9 L461.1,161.2 L461.2,160.9 L461.4,161.4 L461.6,162.0 L461.8,161.7 L461.9,162.0 L462.1,162.0 L462.3,161.6 L462.5,162.2 L462.6,163.1 L462.8,162.8 L463.0,162.6 L463.1,162.7 L463.3,161.8 L463.5,162.0 L463.7,162.8 L463.8,162.8 L464.0,162.5 L464.2,162.1 L464.4,161.2 L464.5,161.7 L464.7,162.1 L464.9,162.0 L465.0,162.3 L465.2,162.5 L465.4,163.1 L465.6,162.5 L465.7,162.1 L465.9,162.7 L466.1,163.4 L466.3,163.5 L466.4,162.7 L466.6,162.6 L466.8,163.6 L466.9,163.5 L467.1,162.9 L467.3,163.4 L467.5,163.0 L467.6,162.7 L467.8,162.4 L468.0,162.5 L468.2,163.5 L468.3,164.0 L468.5,163.1 L468.7,163.6 L468.9,163.8 L469.0,163.0 L469.2,164.2 L469.4,164.7 L469.5,164.2 L469.7,164.6 L469.9,164.7 L470.1,164.3 L470.2,164.2 L470.4,164.0 L470.6,164.3 L470.8,164.8 L470.9,164.6 L471.1,164.2 L471.3,163.7 L471.4,163.2 L471.6,164.3 L471.8,164.8 L472.0,164.5 L472.1,164.9 L472.3,165.0 L472.5,164.8 L472.7,164.9 L472.8,164.2 L473.0,164.5 L473.2,165.9 L473.3,166.2 L473.5,165.7 L473.7,165.4 L473.9,165.6 L474.0,166.1 L474.2,166.4 L474.4,165.8 L474.6,165.3 L474.7,165.4 L474.9,165.3 L475.1,165.2 L475.2,165.4 L475.4,164.8 L475.6,165.0 L475.8,165.8 L475.9,165.2 L476.1,165.4 L476.3,165.6 L476.5,166.2 L476.6,166.1 L476.8,165.7 L477.0,166.3 L477.2,166.0 L477.3,165.5 L477.5,166.0 L477.7,166.3 L477.8,165.9 L478.0,165.5 L478.2,166.2 L478.4,167.3 L478.5,166.9 L478.7,166.6 L478.9,167.3 L479.1,167.5 L479.2,166.9 L479.4,166.8 L479.6,167.3 L479.7,168.1 L479.9,168.0 L480.1,167.5 L480.3,167.7 L480.4,167.6 L480.6,167.0 L480.8,166.9 L481.0,167.9 L481.1,167.7 L481.3,167.3 L481.5,167.2 L481.6,167.3 L481.8,167.7 L482.0,167.9 L482.2,167.7 L482.3,167.3 L482.5,167.3 L482.7,167.6 L482.9,167.9 L483.0,168.7 L483.2,168.4 L483.4,167.9 L483.5,168.0 L483.7,167.6 L483.9,168.2 L484.1,168.6 L484.2,168.5 L484.4,167.9 L484.6,168.7 L484.8,169.9 L484.9,168.8 L485.1,167.6 L485.3,167.6 L485.5,168.2 L485.6,168.2 L485.8,168.3 L486.0,168.4 L486.1,169.3 L486.3,169.5 L486.5,168.4 L486.7,169.3 L486.8,169.6 L487.0,168.9 L487.2,168.8 L487.4,169.1 L487.5,169.0 L487.7,168.9 L487.9,168.9 L488.0,168.4 L488.2,168.5 L488.4,169.1 L488.6,169.8 L488.7,169.9 L488.9,169.2 L489.1,169.2 L489.3,169.6 L489.4,168.8 L489.6,168.5 L489.8,168.5 L489.9,168.1 L490.1,168.7 L490.3,169.3 L490.5,169.6 L490.6,169.7 L490.8,170.2 L491.0,170.4 L491.2,170.1 L491.3,169.9 L491.5,170.5 L491.7,171.1 L491.8,170.2 L492.0,169.6 L492.2,170.1 L492.4,170.8 L492.5,170.4 L492.7,170.5 L492.9,170.2 L493.1,169.8 L493.2,170.6 L493.4,170.5 L493.6,170.3 L493.8,170.5 L493.9,170.4 L494.1,169.8 L494.3,169.8 L494.4,170.6 L494.6,170.8 L494.8,171.1 L495.0,171.4 L495.1,171.0 L495.3,170.6 L495.5,171.4 L495.7,171.9 L495.8,171.3 L496.0,171.0 L496.2,171.4 L496.3,171.9 L496.5,171.5 L496.7,171.3 L496.9,171.4 L497.0,171.3 L497.2,172.0 L497.4,171.6 L497.6,171.2 L497.7,171.4 L497.9,170.9 L498.1,171.6 L498.2,171.4 L498.4,170.8 L498.6,170.9 L498.8,171.1 L498.9,171.7 L499.1,172.4 L499.3,172.1 L499.5,172.0 L499.6,171.9 L499.8,172.3 L500.0,172.7 L500.1,171.7 L500.3,172.0 L500.5,172.3 L500.7,172.2 L500.8,171.6 L501.0,172.0 L501.2,172.9 L501.4,172.5 L501.5,171.9 L501.7,172.1 L501.9,173.0 L502.1,172.3 L502.2,171.6 L502.4,172.3 L502.6,172.4 L502.7,172.3 L502.9,172.6 L503.1,173.1 L503.3,173.4 L503.4,173.6 L503.6,173.7 L503.8,173.1 L504.0,172.0 L504.1,172.4 L504.3,173.4 L504.5,173.5 L504.6,173.2 L504.8,173.8 L505.0,173.5 L505.2,173.1 L505.3,174.0 L505.5,174.1 L505.7,174.4 L505.9,174.3 L506.0,174.0 L506.2,173.7 L506.4,173.9 L506.5,174.2 L506.7,174.3 L506.9,173.8 L507.1,173.0 L507.2,173.5 L507.4,174.3 L507.6,173.8 L507.8,173.2 L507.9,173.7 L508.1,174.3 L508.3,174.6 L508.4,174.9 L508.6,174.7 L508.8,174.6 L509.0,175.2 L509.1,175.0 L509.3,175.4 L509.5,175.4 L509.7,174.7 L509.8,174.2 L510.0,174.2 L510.2,174.7 L510.4,174.6 L510.5,174.9 L510.7,174.8 L510.9,174.8 L511.0,174.6 L511.2,174.4 L511.4,175.6 L511.6,175.9 L511.7,175.7 L511.9,175.4 L512.1,174.7 L512.3,175.6 L512.4,176.5 L512.6,176.4 L512.8,176.1 L512.9,176.3 L513.1,176.2 L513.3,176.1 L513.5,176.5 L513.6,176.0 L513.8,176.3 L514.0,176.8 L514.2,176.6 L514.3,176.1 L514.5,175.4 L514.7,175.9 L514.8,176.5 L515.0,177.2 L515.2,177.2 L515.4,176.8 L515.5,176.9 L515.7,176.9 L515.9,176.9 L516.1,177.1 L516.2,176.9 L516.4,177.0 L516.6,176.8 L516.7,176.4 L516.9,177.2 L517.1,177.3 L517.3,177.3 L517.4,177.7 L517.6,177.5 L517.8,178.1 L518.0,178.4 L518.1,177.7 L518.3,177.4 L518.5,177.7 L518.7,177.4 L518.8,177.9 L519.0,178.5 L519.2,177.5 L519.3,177.2 L519.5,178.4 L519.7,178.9 L519.9,179.3 L520.0,179.3 L520.2,178.7 L520.4,179.5 L520.6,180.2 L520.7,179.2 L520.9,178.8 L521.1,178.9 L521.2,178.4 L521.4,178.3 L521.6,178.7 L521.8,179.1 L521.9,178.6 L522.1,179.8 L522.3,180.5 L522.5,179.8 L522.6,178.9 L522.8,179.1 L523.0,179.0 L523.1,178.7 L523.3,179.8 L523.5,180.5 L523.7,180.4 L523.8,180.5 L524.0,180.6 L524.2,180.1 L524.4,180.1 L524.5,181.1 L524.7,181.2 L524.9,180.7 L525.0,181.0 L525.2,180.5 L525.4,180.0 L525.6,180.0 L525.7,180.6 L525.9,181.1 L526.1,180.6 L526.3,180.4 L526.4,181.2 L526.6,182.0 L526.8,182.0 L527.0,181.8 L527.1,181.9 L527.3,182.0 L527.5,182.0 L527.6,182.0 L527.8,181.6 L528.0,181.5 L528.2,182.1 L528.3,183.1 L528.5,182.7 L528.7,181.8 L528.9,182.5 L529.0,183.2 L529.2,182.8 L529.4,182.4 L529.5,182.6 L529.7,183.0 L529.9,184.4 L530.1,184.1 L530.2,183.2 L530.4,183.4 L530.6,183.4 L530.8,183.9 L530.9,184.0 L531.1,183.6" stroke="#f4e97c" stroke-width="1.6"/>
<path d="M81.7,197.9 L81.9,197.9 L82.0,197.9 L82.2,198.8 L82.4,198.6 L82.6,196.9 L82.7,197.2 L82.9,198.6 L83.1,199.0 L83.3,198.9 L83.4,198.6 L83.6,198.5 L83.8,198.9 L83.9,199.6 L84.1,198.2 L84.3,197.4 L84.5,198.6 L84.6,198.3 L84.8,198.5 L85.0,199.4 L85.2,199.4 L85.3,199.4 L85.5,199.2 L85.7,198.8 L85.8,198.9 L86.0,199.1 L86.2,199.3 L86.4,199.5 L86.5,199.2 L86.7,198.9 L86.9,199.3 L87.1,199.0 L87.2,199.0 L87.4,199.5 L87.6,199.0 L87.8,199.2 L87.9,199.7 L88.1,198.7 L88.3,198.6 L88.4,199.3 L88.6,198.9 L88.8,198.9 L89.0,200.1 L89.1,201.3 L89.3,200.9 L89.5,200.1 L89.7,199.7 L89.8,199.2 L90.0,199.5 L90.2,200.0 L90.3,200.5 L90.5,201.8 L90.7,201.3 L90.9,200.2 L91.0,201.0 L91.2,200.7 L91.4,201.3 L91.6,202.4 L91.7,201.6 L91.9,201.5 L92.1,201.6 L92.2,201.3 L92.4,201.2 L92.6,201.7 L92.8,202.0 L92.9,201.2 L93.1,200.7 L93.3,201.3 L93.5,201.2 L93.6,201.5 L93.8,201.4 L94.0,201.1 L94.1,201.9 L94.3,201.9 L94.5,201.9 L94.7,201.6 L94.8,201.6 L95.0,202.9 L95.2,203.3 L95.4,203.8 L95.5,202.7 L95.7,201.7 L95.9,202.6 L96.1,203.0 L96.2,203.5 L96.4,202.7 L96.6,202.5 L96.7,202.6 L96.9,202.2 L97.1,202.5 L97.3,202.7 L97.4,202.1 L97.6,202.8 L97.8,203.0 L98.0,202.6 L98.1,203.6 L98.3,203.7 L98.5,204.0 L98.6,203.7 L98.8,203.4 L99.0,203.6 L99.2,204.0 L99.3,203.5 L99.5,203.2 L99.7,204.3 L99.9,205.5 L100.0,205.7 L100.2,204.1 L100.4,203.3 L100.5,204.5 L100.7,204.5 L100.9,203.6 L101.1,204.3 L101.2,204.9 L101.4,204.6 L101.6,205.0 L101.8,204.4 L101.9,203.2 L102.1,204.6 L102.3,204.7 L102.4,203.9 L102.6,204.3 L102.8,204.5 L103.0,204.6 L103.1,204.7 L103.3,205.7 L103.5,206.0 L103.7,205.5 L103.8,205.0 L104.0,205.6 L104.2,204.9 L104.4,203.6 L104.5,204.7 L104.7,205.5 L104.9,206.3 L105.0,207.0 L105.2,205.7 L105.4,205.0 L105.6,205.1 L105.7,205.9 L105.9,206.3 L106.1,205.8 L106.3,206.3 L106.4,207.2 L106.6,207.7 L106.8,206.6 L106.9,206.4 L107.1,207.6 L107.3,206.9 L107.5,206.1 L107.6,207.8 L107.8,208.9 L108.0,208.2 L108.2,207.6 L108.3,207.6 L108.5,207.4 L108.7,206.6 L108.8,207.7 L109.0,208.7 L109.2,207.4 L109.4,207.9 L109.5,208.0 L109.7,208.3 L109.9,209.0 L110.1,208.5 L110.2,207.7 L110.4,207.8 L110.6,209.2 L110.7,209.4 L110.9,208.7 L111.1,208.5 L111.3,208.7 L111.4,208.9 L111.6,209.2 L111.8,208.9 L112.0,209.2 L112.1,209.9 L112.3,209.6 L112.5,209.3 L112.7,209.3 L112.8,209.2 L113.0,208.9 L113.2,208.7 L113.3,209.1 L113.5,210.4 L113.7,210.1 L113.9,209.0 L114.0,209.7 L114.2,210.5 L114.4,210.4 L114.6,209.8 L114.7,209.3 L114.9,209.6 L115.1,210.6 L115.2,210.9 L115.4,211.0 L115.6,211.2 L115.8,211.3 L115.9,211.2 L116.1,210.2 L116.3,210.9 L116.5,212.4 L116.6,212.0 L116.8,210.4 L117.0,209.8 L117.1,211.8 L117.3,213.2 L117.5,212.2 L117.7,211.5 L117.8,211.4 L118.0,211.7 L118.2,212.2 L118.4,211.5 L118.5,210.8 L118.7,211.7 L118.9,212.3 L119.0,212.0 L119.2,213.4 L119.4,213.5 L119.6,213.6 L119.7,214.6 L119.9,214.1 L120.1,213.7 L120.3,213.6 L120.4,213.2 L120.6,212.3 L120.8,213.1 L121.0,213.8 L121.1,213.1 L121.3,213.8 L121.5,213.3 L121.6,212.9 L121.8,214.1 L122.0,213.5 L122.2,213.3 L122.3,213.7 L122.5,213.5 L122.7,213.6 L122.9,213.1 L123.0,213.5 L123.2,214.5 L123.4,214.2 L123.5,213.8 L123.7,213.7 L123.9,214.1 L124.1,214.7 L124.2,215.5 L124.4,216.5 L124.6,216.0 L124.8,215.5 L124.9,214.9 L125.1,213.6 L125.3,214.4 L125.4,215.5 L125.6,215.5 L125.8,215.1 L126.0,214.9 L126.1,215.1 L126.3,215.8 L126.5,216.1 L126.7,216.1 L126.8,216.6 L127.0,217.2 L127.2,216.9 L127.3,215.6 L127.5,215.3 L127.7,215.9 L127.9,216.5 L128.0,217.1 L128.2,218.0 L128.4,217.2 L128.6,216.5 L128.7,217.6 L128.9,217.9 L129.1,218.6 L129.3,218.6 L129.4,218.1 L129.6,217.4 L129.8,216.7 L129.9,218.3 L130.1,219.6 L130.3,219.2 L130.5,217.7 L130.6,217.8 L130.8,219.0 L131.0,219.1 L131.2,218.7 L131.3,218.7 L131.5,218.6 L131.7,219.0 L131.8,219.2 L132.0,219.5 L132.2,220.0 L132.4,219.4 L132.5,219.0 L132.7,219.4 L132.9,220.2 L133.1,220.2 L133.2,220.2 L133.4,220.6 L133.6,220.2 L133.7,219.8 L133.9,220.5 L134.1,221.1 L134.3,220.8 L134.4,220.7 L134.6,220.1 L134.8,219.7 L135.0,220.3 L135.1,221.3 L135.3,221.6 L135.5,221.1 L135.6,220.1 L135.8,220.0 L136.0,221.3 L136.2,221.6 L136.3,221.7 L136.5,221.3 L136.7,221.3 L136.9,222.0 L137.0,223.4 L137.2,224.1 L137.4,222.7 L137.6,222.6 L137.7,222.9 L137.9,222.6 L138.1,222.6 L138.2,223.3 L138.4,223.6 L138.6,224.0 L138.8,223.2 L138.9,222.8 L139.1,224.2 L139.3,223.4 L139.5,222.5 L139.6,224.0 L139.8,224.4 L140.0,224.3 L140.1,224.5 L140.3,224.3 L140.5,224.6 L140.7,224.4 L140.8,224.6 L141.0,224.5 L141.2,224.3 L141.4,225.1 L141.5,225.4 L141.7,225.6 L141.9,225.3 L142.0,225.7 L142.2,225.4 L142.4,225.5 L142.6,226.5 L142.7,226.1 L142.9,226.1 L143.1,225.5 L143.3,225.6 L143.4,226.7 L143.6,227.0 L143.8,227.4 L143.9,227.5 L144.1,226.7 L144.3,227.5 L144.5,227.7 L144.6,227.4 L144.8,228.0 L145.0,228.6 L145.2,229.2 L145.3,229.0 L145.5,227.9 L145.7,227.1 L145.9,227.4 L146.0,227.6 L146.2,228.7 L146.4,229.4 L146.5,228.5 L146.7,228.2 L146.9,228.9 L147.1,229.2 L147.2,228.2 L147.4,229.3 L147.6,230.2 L147.8,230.7 L147.9,230.6 L148.1,230.6 L148.3,230.6 L148.4,230.0 L148.6,230.2 L148.8,229.4 L149.0,229.9 L149.1,231.3 L149.3,230.5 L149.5,230.4 L149.7,230.8 L149.8,230.2 L150.0,230.9 L150.2,231.5 L150.3,230.9 L150.5,231.0 L150.7,231.1 L150.9,230.9 L151.0,232.1 L151.2,232.9 L151.4,232.4 L151.6,231.0 L151.7,232.0 L151.9,233.9 L152.1,232.5 L152.2,232.2 L152.4,232.4 L152.6,233.1 L152.8,233.6 L152.9,233.8 L153.1,234.4 L153.3,234.3 L153.5,233.6 L153.6,233.7 L153.8,234.1 L154.0,233.8 L154.2,234.2 L154.3,233.8 L154.5,234.7 L154.7,235.4 L154.8,235.2 L155.0,235.1 L155.2,234.8 L155.4,235.4 L155.5,235.4 L155.7,235.8 L155.9,236.9 L156.1,236.5 L156.2,236.0 L156.4,237.3 L156.6,237.4 L156.7,236.4 L156.9,236.2 L157.1,236.9 L157.3,238.3 L157.4,238.0 L157.6,237.2 L157.8,237.9 L158.0,237.8 L158.1,237.6 L158.3,238.5 L158.5,238.6 L158.6,238.6 L158.8,238.8 L159.0,239.1 L159.2,239.2 L159.3,239.8 L159.5,240.0 L159.7,238.6 L159.9,238.9 L160.0,240.1 L160.2,240.0 L160.4,240.1 L160.5,240.8 L160.7,240.5 L160.9,240.8 L161.1,239.9 L161.2,240.6 L161.4,242.2 L161.6,241.1 L161.8,240.5 L161.9,241.5 L162.1,242.7 L162.3,243.0 L162.5,242.3 L162.6,241.1 L162.8,241.1 L163.0,242.1 L163.1,242.7 L163.3,242.5 L163.5,242.3 L163.7,243.0 L163.8,243.5 L164.0,243.3 L164.2,243.8 L164.4,244.9 L164.5,245.4 L164.7,246.0 L164.9,245.2 L165.0,243.7 L165.2,244.3 L165.4,245.4 L165.6,246.2 L165.7,245.2 L165.9,244.1 L166.1,245.3 L166.3,246.4 L166.4,246.6 L166.6,246.8 L166.8,247.2 L166.9,247.7 L167.1,247.8 L167.3,247.4 L167.5,247.4 L167.6,247.5 L167.8,247.9 L168.0,248.0 L168.2,247.8 L168.3,248.2 L168.5,247.7 L168.7,248.4 L168.8,249.6 L169.0,249.7 L169.2,249.5 L169.4,249.0 L169.5,249.3 L169.7,250.0 L169.9,250.1 L170.1,250.8 L170.2,250.4 L170.4,249.9 L170.6,250.6 L170.8,252.1 L170.9,251.9 L171.1,250.7 L171.3,251.9 L171.4,252.6 L171.6,252.3 L171.8,252.0 L172.0,252.0 L172.1,252.4 L172.3,252.5 L172.5,252.3 L172.7,253.3 L172.8,254.0 L173.0,255.4 L173.2,254.8 L173.3,253.3 L173.5,253.9 L173.7,255.0 L173.9,256.1 L174.0,255.2 L174.2,255.1 L174.4,255.2 L174.6,255.4 L174.7,256.2 L174.9,256.2 L175.1,256.5 L175.2,257.6 L175.4,257.8 L175.6,256.6 L175.8,256.8 L175.9,257.5 L176.1,258.2 L176.3,259.0 L176.5,258.8 L176.6,258.8 L176.8,259.1 L177.0,258.8 L177.1,258.9 L177.3,259.6 L177.5,258.7 L177.7,258.1 L177.8,259.9 L178.0,261.4 L178.2,260.3 L178.4,260.5 L178.5,261.4 L178.7,260.7 L178.9,261.2 L179.0,262.0 L179.2,262.1 L179.4,261.5 L179.6,261.5 L179.7,262.4 L179.9,262.8 L180.1,263.2 L180.3,263.1 L180.4,264.1 L180.6,264.3 L180.8,264.4 L181.0,264.2 L181.1,264.4 L181.3,265.4 L181.5,264.8 L181.6,264.4 L181.8,265.0 L182.0,265.7 L182.2,266.2 L182.3,267.3 L182.5,267.7 L182.7,268.2 L182.9,267.4 L183.0,267.3 L183.2,268.2 L183.4,268.3 L183.5,268.7 L183.7,269.3 L183.9,268.9 L184.1,268.0 L184.2,268.7 L184.4,270.7 L184.6,270.7 L184.8,270.3 L184.9,270.4 L185.1,270.9 L185.3,271.4 L185.4,271.2 L185.6,271.2 L185.8,271.6 L186.0,272.8 L186.1,273.1 L186.3,273.0 L186.5,272.0 L186.7,272.1 L186.8,272.8 L187.0,272.6 L187.2,272.8 L187.3,273.3 L187.5,274.5 L187.7,275.1 L187.9,276.2 L188.0,276.4 L188.2,275.2 L188.4,275.9 L188.6,275.9 L188.7,275.8 L188.9,276.1 L189.1,276.3 L189.3,277.2 L189.4,277.0 L189.6,276.9 L189.8,277.1 L189.9,276.9 L190.1,277.3 L190.3,277.9 L190.5,279.1 L190.6,279.7 L190.8,278.2 L191.0,278.3 L191.2,279.4 L191.3,280.5 L191.5,280.9 L191.7,279.8 L191.8,280.1 L192.0,281.6 L192.2,282.2 L192.4,282.1 L192.5,282.8 L192.7,283.2 L192.9,283.3 L193.1,284.1 L193.2,283.0 L193.4,282.7 L193.6,283.5 L193.7,283.4 L193.9,284.6 L194.1,285.0 L194.3,285.1 L194.4,285.5 L194.6,286.1 L194.8,287.1 L195.0,286.0 L195.1,285.7 L195.3,286.6 L195.5,287.6 L195.6,288.5 L195.8,288.4 L196.0,288.8 L196.2,289.3 L196.3,289.3 L196.5,288.9 L196.7,289.5 L196.9,290.0 L197.0,289.3 L197.2,290.6 L197.4,291.3 L197.6,292.0 L197.7,291.6 L197.9,291.1 L198.1,292.2 L198.2,292.0 L198.4,292.3 L198.6,292.8 L198.8,292.6 L198.9,292.7 L199.1,293.0 L199.3,293.2 L199.5,294.1 L199.6,295.0 L199.8,294.3 L200.0,293.9 L200.1,294.0 L200.3,294.6 L200.5,296.5 L200.7,296.7 L200.8,295.8 L201.0,295.7 L201.2,296.2 L201.4,296.7 L201.5,298.0 L201.7,298.8 L201.9,298.2 L202.0,298.6 L202.2,299.7 L202.4,300.2 L202.6,300.4 L202.7,300.2 L202.9,300.8 L203.1,301.2 L203.3,301.2 L203.4,300.8 L203.6,300.7 L203.8,301.6 L203.9,301.6 L204.1,302.5 L204.3,302.8 L204.5,303.0 L204.6,303.2 L204.8,303.5 L205.0,303.6 L205.2,304.1 L205.3,304.6 L205.5,304.3 L205.7,305.0 L205.9,306.2 L206.0,305.9 L206.2,304.8 L206.4,305.3 L206.5,306.2 L206.7,306.5 L206.9,306.9 L207.1,307.7 L207.2,309.0 L207.4,308.3 L207.6,308.0 L207.8,308.9 L207.9,309.6 L208.1,309.6 L208.3,309.0 L208.4,310.1 L208.6,311.2 L208.8,311.0 L209.0,310.0 L209.1,310.7 L209.3,311.9 L209.5,311.5 L209.7,311.8 L209.8,312.5 L210.0,312.3 L210.2,312.9 L210.3,313.6 L210.5,314.3 L210.7,314.5 L210.9,313.4 L211.0,313.9 L211.2,314.7 L211.4,315.4 L211.6,315.2 L211.7,314.7 L211.9,316.2 L212.1,317.0 L212.2,317.3 L212.4,318.1 L212.6,317.8 L212.8,317.5 L212.9,317.5 L213.1,318.0 L213.3,318.7 L213.5,318.6 L213.6,318.5 L213.8,319.2 L214.0,319.9 L214.2,319.8 L214.3,320.1 L214.5,320.9 L214.7,320.5 L214.8,320.0 L215.0,320.7 L215.2,322.0 L215.4,321.8 L215.5,322.0 L215.7,323.3 L215.9,322.9 L216.1,322.8 L216.2,323.1 L216.4,323.9 L216.6,324.4 L216.7,324.5 L216.9,324.3 L217.1,324.6 L217.3,325.5 L217.4,325.6 L217.6,325.1 L217.8,326.3 L218.0,327.1 L218.1,325.3 L218.3,326.2 L218.5,327.5 L218.6,327.0 L218.8,326.6 L219.0,327.9 L219.2,329.0 L219.3,328.3 L219.5,327.6 L219.7,328.3 L219.9,330.3 L220.0,330.3 L220.2,329.6 L220.4,329.5 L220.5,329.8 L220.7,330.0 L220.9,330.0 L221.1,330.8 L221.2,331.3 L221.4,331.8 L221.6,332.4 L221.8,331.8 L221.9,331.4 L222.1,331.9 L222.3,332.5 L222.5,333.1 L222.6,332.9 L222.8,333.9 L223.0,334.3 L223.1,333.6 L223.3,334.9 L223.5,335.5 L223.7,335.1 L223.8,335.3 L224.0,335.7 L224.2,335.8 L224.4,336.3 L224.5,336.6 L224.7,337.2 L224.9,338.4 L225.0,337.8 L225.2,336.5 L225.4,337.2 L225.6,338.6 L225.7,338.2 L225.9,337.9 L226.1,338.5 L226.3,339.1 L226.4,339.3 L226.6,339.8 L226.8,340.2 L226.9,340.4 L227.1,340.4 L227.3,340.0 L227.5,340.8 L227.6,341.3 L227.8,340.5 L228.0,341.0 L228.2,341.7 L228.3,342.2 L228.5,342.8 L228.7,341.9 L228.8,341.7 L229.0,342.1 L229.2,342.7 L229.4,342.5 L229.5,341.7 L229.7,342.7 L229.9,343.6 L230.1,344.3 L230.2,344.8 L230.4,345.2 L230.6,345.7 L230.8,345.9 L230.9,345.8 L231.1,344.5 L231.3,344.4 L231.4,344.3 L231.6,345.1 L231.8,347.1 L232.0,346.9 L232.1,345.8 L232.3,346.4 L232.5,347.5 L232.7,347.3 L232.8,347.4 L233.0,347.8 L233.2,347.6 L233.3,347.9 L233.5,348.5 L233.7,348.4 L233.9,347.5 L234.0,348.0 L234.2,349.4 L234.4,349.0 L234.6,348.9 L234.7,349.6 L234.9,349.8 L235.1,349.9 L235.2,350.1 L235.4,349.8 L235.6,349.2 L235.8,349.4 L235.9,349.3 L236.1,349.9 L236.3,350.9 L236.5,350.5 L236.6,351.5 L236.8,352.1 L237.0,351.0 L237.1,351.7 L237.3,352.8 L237.5,351.5 L237.7,349.7 L237.8,351.4 L238.0,352.9 L238.2,351.9 L238.4,351.2 L238.5,352.2 L238.7,353.8 L238.9,353.6 L239.1,353.5 L239.2,352.4 L239.4,352.1 L239.6,352.9 L239.7,352.9 L239.9,353.0 L240.1,352.8 L240.3,352.9 L240.4,352.7 L240.6,353.1 L240.8,353.3 L241.0,353.4 L241.1,353.6 L241.3,354.1 L241.5,354.6 L241.6,354.6 L241.8,354.5 L242.0,353.8 L242.2,353.4 L242.3,354.2 L242.5,354.7 L242.7,354.9 L242.9,355.1 L243.0,355.1 L243.2,355.2 L243.4,355.1 L243.5,354.7 L243.7,354.6 L243.9,354.2 L244.1,353.6 L244.2,354.7 L244.4,354.6 L244.6,353.7 L244.8,354.2 L244.9,354.3 L245.1,354.5 L245.3,353.8 L245.4,354.6 L245.6,356.5 L245.8,355.4 L246.0,353.6 L246.1,354.2 L246.3,354.9 L246.5,354.8 L246.7,354.0 L246.8,353.4 L247.0,353.9 L247.2,353.2 L247.4,352.7 L247.5,354.1 L247.7,354.5 L247.9,354.1 L248.0,353.3 L248.2,352.6 L248.4,353.1 L248.6,354.0 L248.7,353.6 L248.9,353.2 L249.1,352.9 L249.3,352.1 L249.4,352.2 L249.6,352.5 L249.8,353.0 L249.9,352.7 L250.1,351.3 L250.3,351.1 L250.5,351.8 L250.6,352.3 L250.8,352.4 L251.0,351.5 L251.2,351.7 L251.3,351.7 L251.5,351.0 L251.7,351.3 L251.8,351.3 L252.0,351.6 L252.2,351.4 L252.4,351.2 L252.5,351.1 L252.7,351.0 L252.9,351.2 L253.1,349.8 L253.2,349.4 L253.4,349.6 L253.6,348.8 L253.7,348.9 L253.9,349.0 L254.1,348.6 L254.3,348.0 L254.4,348.4 L254.6,348.1 L254.8,348.5 L255.0,348.6 L255.1,347.0 L255.3,346.7 L255.5,347.6 L255.7,347.1 L255.8,346.5 L256.0,348.4 L256.2,347.8 L256.3,345.6 L256.5,345.8 L256.7,347.2 L256.9,347.0 L257.0,345.7 L257.2,345.4 L257.4,344.4 L257.6,343.9 L257.7,344.6 L257.9,344.5 L258.1,344.6 L258.2,344.2 L258.4,342.7 L258.6,342.1 L258.8,343.5 L258.9,344.6 L259.1,343.1 L259.3,342.4 L259.5,342.9 L259.6,342.4 L259.8,341.7 L260.0,340.7 L260.1,339.3 L260.3,339.9 L260.5,340.1 L260.7,340.0 L260.8,339.7 L261.0,339.5 L261.2,339.2 L261.4,338.1 L261.5,338.0 L261.7,337.6 L261.9,337.1 L262.0,337.0 L262.2,336.6 L262.4,336.0 L262.6,335.3 L262.7,334.8 L262.9,334.3 L263.1,334.3 L263.3,334.1 L263.4,333.1 L263.6,333.1 L263.8,333.1 L263.9,333.2 L264.1,332.9 L264.3,332.0 L264.5,331.5 L264.6,331.1 L264.8,330.6 L265.0,330.9 L265.2,330.7 L265.3,329.1 L265.5,328.6 L265.7,329.0 L265.9,329.1 L266.0,328.6 L266.2,328.4 L266.4,327.3 L266.5,327.0 L266.7,327.1 L266.9,326.0 L267.1,326.0 L267.2,324.4 L267.4,324.3 L267.6,324.5 L267.8,323.8 L267.9,323.9 L268.1,323.3 L268.3,323.3 L268.4,322.5 L268.6,322.0 L268.8,321.9 L269.0,320.7 L269.1,320.4 L269.3,320.5 L269.5,319.1 L269.7,318.9 L269.8,319.3 L270.0,319.2 L270.2,317.5 L270.3,316.8 L270.5,317.3 L270.7,315.9 L270.9,314.9 L271.0,315.3 L271.2,315.1 L271.4,315.1 L271.6,314.2 L271.7,313.4 L271.9,312.8 L272.1,311.0 L272.2,311.1 L272.4,311.7 L272.6,311.1 L272.8,310.1 L272.9,309.7 L273.1,309.5 L273.3,308.4 L273.5,307.4 L273.6,307.8 L273.8,307.3 L274.0,306.3 L274.2,305.3 L274.3,304.2 L274.5,304.1 L274.7,303.9 L274.8,303.7 L275.0,303.1 L275.2,301.7 L275.4,302.5 L275.5,302.2 L275.7,300.1 L275.9,299.3 L276.1,299.2 L276.2,299.2 L276.4,298.2 L276.6,297.7 L276.7,296.6 L276.9,295.1 L277.1,294.2 L277.3,295.1 L277.4,295.2 L277.6,293.9 L277.8,293.5 L278.0,293.0 L278.1,292.3 L278.3,291.8 L278.5,290.4 L278.6,289.9 L278.8,289.9 L279.0,288.9 L279.2,287.4 L279.3,287.0 L279.5,287.1 L279.7,286.1 L279.9,285.3 L280.0,284.8 L280.2,283.6 L280.4,281.9 L280.5,281.9 L280.7,282.4 L280.9,281.8 L281.1,281.7 L281.2,280.5 L281.4,278.3 L281.6,278.2 L281.8,278.4 L281.9,277.3 L282.1,277.1 L282.3,276.1 L282.5,275.9 L282.6,276.4 L282.8,275.4 L283.0,273.7 L283.1,272.7 L283.3,272.5 L283.5,273.1 L283.7,272.8 L283.8,271.5 L284.0,270.3 L284.2,269.0 L284.4,269.5 L284.5,269.2 L284.7,268.3 L284.9,266.6 L285.0,265.2 L285.2,265.4 L285.4,264.7 L285.6,264.0 L285.7,263.8 L285.9,263.2 L286.1,262.4 L286.3,261.0 L286.4,260.0 L286.6,259.6 L286.8,258.5 L286.9,258.5 L287.1,258.1 L287.3,257.4 L287.5,256.9 L287.6,256.2 L287.8,255.7 L288.0,253.4 L288.2,252.4 L288.3,252.9 L288.5,252.0 L288.7,251.2 L288.8,250.4 L289.0,249.7 L289.2,249.1 L289.4,249.0 L289.5,249.4 L289.7,246.8 L289.9,245.2 L290.1,245.4 L290.2,245.7 L290.4,245.7 L290.6,243.8 L290.8,242.0 L290.9,241.7 L291.1,241.7 L291.3,241.1 L291.4,239.8 L291.6,239.5 L291.8,238.9 L292.0,235.8 L292.1,234.1 L292.3,235.4 L292.5,236.0 L292.7,233.9 L292.8,233.7 L293.0,233.2 L293.2,230.4 L293.3,230.4 L293.5,230.7 L293.7,230.2 L293.9,229.1 L294.0,228.0 L294.2,227.8 L294.4,226.6 L294.6,225.5 L294.7,225.6 L294.9,225.4 L295.1,224.3 L295.2,222.4 L295.4,221.1 L295.6,221.8 L295.8,220.7 L295.9,219.5 L296.1,219.7 L296.3,218.5 L296.5,218.8 L296.6,217.7 L296.8,215.0 L297.0,214.6 L297.1,214.2 L297.3,213.7 L297.5,212.4 L297.7,212.0 L297.8,211.7 L298.0,211.1 L298.2,211.0 L298.4,209.8 L298.5,207.6 L298.7,207.4 L298.9,207.9 L299.1,207.0 L299.2,206.3 L299.4,205.3 L299.6,203.7 L299.7,201.9 L299.9,201.5 L300.1,201.1 L300.3,200.6 L300.4,200.9 L300.6,199.7 L300.8,198.2 L301.0,197.4 L301.1,197.9 L301.3,196.8 L301.5,195.4 L301.6,194.6 L301.8,193.7 L302.0,194.2 L302.2,193.4 L302.3,192.5 L302.5,191.9 L302.7,191.1 L302.9,190.0 L303.0,188.3 L303.2,187.7 L303.4,188.0 L303.5,187.6 L303.7,186.6 L303.9,184.9 L304.1,184.3 L304.2,183.4 L304.4,182.4 L304.6,182.2 L304.8,181.5 L304.9,181.1 L305.1,179.8 L305.3,179.1 L305.4,178.3 L305.6,176.9 L305.8,176.9 L306.0,176.2 L306.1,175.2 L306.3,174.3 L306.5,174.4 L306.7,173.3 L306.8,171.7 L307.0,171.3 L307.2,170.7 L307.4,170.4 L307.5,169.2 L307.7,168.1 L307.9,167.6 L308.0,166.7 L308.2,166.3 L308.4,165.6 L308.6,164.2 L308.7,163.7 L308.9,163.4 L309.1,162.7 L309.3,162.2 L309.4,161.7 L309.6,160.3 L309.8,159.2 L309.9,158.8 L310.1,157.6 L310.3,156.3 L310.5,155.7 L310.6,155.4 L310.8,155.5 L311.0,155.0 L311.2,154.1 L311.3,153.2 L311.5,152.3 L311.7,152.0 L311.8,151.7 L312.0,150.3 L312.2,149.4 L312.4,150.3 L312.5,149.9 L312.7,148.5 L312.9,146.3 L313.1,144.8 L313.2,144.9 L313.4,144.5 L313.6,144.0 L313.7,143.5 L313.9,142.7 L314.1,142.3 L314.3,141.6 L314.4,140.9 L314.6,140.9 L314.8,140.8 L315.0,139.2 L315.1,137.6 L315.3,137.8 L315.5,137.2 L315.7,136.3 L315.8,135.4 L316.0,135.4 L316.2,134.9 L316.3,133.0 L316.5,132.4 L316.7,131.7 L316.9,131.3 L317.0,130.9 L317.2,129.7 L317.4,129.1 L317.6,129.2 L317.7,128.2 L317.9,126.9 L318.1,126.4 L318.2,125.8 L318.4,125.3 L318.6,125.1 L318.8,125.2 L318.9,124.5 L319.1,123.7 L319.3,124.5 L319.5,124.1 L319.6,122.5 L319.8,120.9 L320.0,120.0 L320.1,120.1 L320.3,119.2 L320.5,118.7 L320.7,118.7 L320.8,117.5 L321.0,116.6 L321.2,115.9 L321.4,115.4 L321.5,116.0 L321.7,115.3 L321.9,113.7 L322.0,112.7 L322.2,113.1 L322.4,112.8 L322.6,111.5 L322.7,111.1 L322.9,110.3 L323.1,110.4 L323.3,110.0 L323.4,108.9 L323.6,108.9 L323.8,108.8 L324.0,107.7 L324.1,105.9 L324.3,105.3 L324.5,105.9 L324.6,105.2 L324.8,105.0 L325.0,103.9 L325.2,102.8 L325.3,101.8 L325.5,100.6 L325.7,101.9 L325.9,102.6 L326.0,101.3 L326.2,100.3 L326.4,99.7 L326.5,99.7 L326.7,100.0 L326.9,98.3 L327.1,96.8 L327.2,96.5 L327.4,96.3 L327.6,96.4 L327.8,95.7 L327.9,94.3 L328.1,94.2 L328.3,94.6 L328.4,94.5 L328.6,92.7 L328.8,91.8 L329.0,91.9 L329.1,90.9 L329.3,90.9 L329.5,91.0 L329.7,90.0 L329.8,89.7 L330.0,89.2 L330.2,88.3 L330.3,88.2 L330.5,87.9 L330.7,87.5 L330.9,87.1 L331.0,85.8 L331.2,85.5 L331.4,86.3 L331.6,85.8 L331.7,84.5 L331.9,83.3 L332.1,82.8 L332.3,83.0 L332.4,82.6 L332.6,82.4 L332.8,81.6 L332.9,80.8 L333.1,80.1 L333.3,80.5 L333.5,80.1 L333.6,78.7 L333.8,78.4 L334.0,78.8 L334.2,78.4 L334.3,76.6 L334.5,76.9 L334.7,77.6 L334.8,77.4 L335.0,76.8 L335.2,75.9 L335.4,74.6 L335.5,74.6 L335.7,75.1 L335.9,75.1 L336.1,74.4 L336.2,72.7 L336.4,72.3 L336.6,72.4 L336.7,72.2 L336.9,71.1 L337.1,70.8 L337.3,71.1 L337.4,71.3 L337.6,70.3 L337.8,69.5 L338.0,69.8 L338.1,69.3 L338.3,69.6 L338.5,69.2 L338.6,67.8 L338.8,66.8 L339.0,66.4 L339.2,66.5 L339.3,66.4 L339.5,66.9 L339.7,67.3 L339.9,66.1 L340.0,65.6 L340.2,65.9 L340.4,65.8 L340.6,65.4 L340.7,64.0 L340.9,63.0 L341.1,63.5 L341.2,64.3 L341.4,63.9 L341.6,63.3 L341.8,63.3 L341.9,63.1 L342.1,62.6 L342.3,62.3 L342.5,62.0 L342.6,61.1 L342.8,60.3 L343.0,60.1 L343.1,60.1 L343.3,59.6 L343.5,59.9 L343.7,60.3 L343.8,59.7 L344.0,59.1 L344.2,58.8 L344.4,59.7 L344.5,59.8 L344.7,58.8 L344.9,59.1 L345.0,58.5 L345.2,58.1 L345.4,58.6 L345.6,57.8 L345.7,56.7 L345.9,56.2 L346.1,56.6 L346.3,56.3 L346.4,55.5 L346.6,55.3 L346.8,55.5 L346.9,56.3 L347.1,56.6 L347.3,56.4 L347.5,55.2 L347.6,53.9 L347.8,54.3 L348.0,54.3 L348.2,54.4 L348.3,54.3 L348.5,54.0 L348.7,53.3 L348.9,53.0 L349.0,54.1 L349.2,54.2 L349.4,53.1 L349.5,52.7 L349.7,52.6 L349.9,52.0 L350.1,52.3 L350.2,51.7 L350.4,50.8 L350.6,51.7 L350.8,51.5 L350.9,51.2 L351.1,51.6 L351.3,50.7 L351.4,49.7 L351.6,49.0 L351.8,49.8 L352.0,51.0 L352.1,50.0 L352.3,49.4 L352.5,49.4 L352.7,50.8 L352.8,51.1 L353.0,50.1 L353.2,50.3 L353.3,49.5 L353.5,49.3 L353.7,49.2 L353.9,47.5 L354.0,47.2 L354.2,48.6 L354.4,49.4 L354.6,49.0 L354.7,48.7 L354.9,48.4 L355.1,47.2 L355.2,46.5 L355.4,47.7 L355.6,48.4 L355.8,46.9 L355.9,47.2 L356.1,47.5 L356.3,47.2 L356.5,48.1 L356.6,48.0 L356.8,47.6 L357.0,47.5 L357.1,46.9 L357.3,47.6 L357.5,48.0 L357.7,47.0 L357.8,47.7 L358.0,47.3 L358.2,45.7 L358.4,46.5 L358.5,47.4 L358.7,47.4 L358.9,46.9 L359.1,45.9 L359.2,45.8 L359.4,45.1 L359.6,45.3 L359.7,46.2 L359.9,44.5 L360.1,44.8 L360.3,46.1 L360.4,45.5 L360.6,45.5 L360.8,45.8 L361.0,45.8 L361.1,45.3 L361.3,45.1 L361.5,45.9 L361.6,44.5 L361.8,44.7 L362.0,46.4 L362.2,46.2 L362.3,45.1 L362.5,45.7 L362.7,46.7 L362.9,46.9 L363.0,46.3 L363.2,45.4 L363.4,46.4 L363.5,46.0 L363.7,45.2 L363.9,45.0 L364.1,46.8 L364.2,47.7 L364.4,45.8 L364.6,44.6 L364.8,46.1 L364.9,47.3 L365.1,46.4 L365.3,45.5 L365.4,45.6 L365.6,46.2 L365.8,46.8 L366.0,46.6 L366.1,46.3 L366.3,46.8 L366.5,47.0 L366.7,45.9 L366.8,46.4 L367.0,46.3 L367.2,45.5 L367.4,46.8 L367.5,46.4 L367.7,46.9 L367.9,47.6 L368.0,46.0 L368.2,46.0 L368.4,46.1 L368.6,46.3 L368.7,46.0 L368.9,46.4 L369.1,47.4 L369.3,46.9 L369.4,46.8 L369.6,47.6 L369.8,47.4 L369.9,46.5 L370.1,46.3 L370.3,46.9 L370.5,47.8 L370.6,47.1 L370.8,47.5 L371.0,47.7 L371.2,46.8 L371.3,46.9 L371.5,47.1 L371.7,47.6 L371.8,48.5 L372.0,49.6 L372.2,49.1 L372.4,47.4 L372.5,47.6 L372.7,48.6 L372.9,48.3 L373.1,47.9 L373.2,48.6 L373.4,49.1 L373.6,48.3 L373.7,48.1 L373.9,49.1 L374.1,49.2 L374.3,49.5 L374.4,49.4 L374.6,49.2 L374.8,49.7 L375.0,49.9 L375.1,50.2 L375.3,50.4 L375.5,50.1 L375.7,49.5 L375.8,50.4 L376.0,50.8 L376.2,50.5 L376.3,51.2 L376.5,50.6 L376.7,49.6 L376.9,50.3 L377.0,51.3 L377.2,50.6 L377.4,50.7 L377.6,51.7 L377.7,52.3 L377.9,52.2 L378.1,51.6 L378.2,51.7 L378.4,51.9 L378.6,51.5 L378.8,52.2 L378.9,53.0 L379.1,53.0 L379.3,52.4 L379.5,52.3 L379.6,52.6 L379.8,52.5 L380.0,52.8 L380.1,53.1 L380.3,52.8 L380.5,52.3 L380.7,53.2 L380.8,54.3 L381.0,54.3 L381.2,54.2 L381.4,54.4 L381.5,54.0 L381.7,54.0 L381.9,54.5 L382.0,54.7 L382.2,55.3 L382.4,54.9 L382.6,54.6 L382.7,54.1 L382.9,54.3 L383.1,55.8 L383.3,56.3 L383.4,56.1 L383.6,56.8 L383.8,57.0 L384.0,56.8 L384.1,56.9 L384.3,55.7 L384.5,55.4 L384.6,56.4 L384.8,56.9 L385.0,57.5 L385.2,58.0 L385.3,58.1 L385.5,57.1 L385.7,57.2 L385.9,58.5 L386.0,58.8 L386.2,58.8 L386.4,58.9 L386.5,59.3 L386.7,59.7 L386.9,58.7 L387.1,58.1 L387.2,58.6 L387.4,58.9 L387.6,59.5 L387.8,59.6 L387.9,59.7 L388.1,58.9 L388.3,59.2 L388.4,60.1 L388.6,60.5 L388.8,60.4 L389.0,61.1 L389.1,61.7 L389.3,61.0 L389.5,61.7 L389.7,62.2 L389.8,62.1 L390.0,62.8 L390.2,63.7 L390.3,62.6 L390.5,60.9 L390.7,62.6 L390.9,63.0 L391.0,62.5 L391.2,63.7 L391.4,63.4 L391.6,63.3 L391.7,64.1 L391.9,63.6 L392.1,63.2 L392.3,63.0 L392.4,63.0 L392.6,63.8 L392.8,65.0 L392.9,65.6 L393.1,65.6 L393.3,64.8 L393.5,64.9 L393.6,65.6 L393.8,64.9 L394.0,64.3 L394.2,65.4 L394.3,66.7 L394.5,66.5 L394.7,66.4 L394.8,66.7 L395.0,66.9 L395.2,66.6 L395.4,67.5 L395.5,68.7 L395.7,67.6 L395.9,68.3 L396.1,69.3 L396.2,68.7 L396.4,68.6 L396.6,68.7 L396.7,70.1 L396.9,70.1 L397.1,69.0 L397.3,69.9 L397.4,70.2 L397.6,69.3 L397.8,70.1 L398.0,70.1 L398.1,69.0 L398.3,70.5 L398.5,71.8 L398.6,70.3 L398.8,70.2 L399.0,71.4 L399.2,71.7 L399.3,71.3 L399.5,71.4 L399.7,73.1 L399.9,73.5 L400.0,71.7 L400.2,71.9 L400.4,74.3 L400.6,74.8 L400.7,73.4 L400.9,72.5 L401.1,73.2 L401.2,74.6 L401.4,74.8 L401.6,75.5 L401.8,75.9 L401.9,75.4 L402.1,75.4 L402.3,75.2 L402.5,75.7 L402.6,75.8 L402.8,76.7 L403.0,77.4 L403.1,76.4 L403.3,75.9 L403.5,76.5 L403.7,76.9 L403.8,76.6 L404.0,77.7 L404.2,77.6 L404.4,77.2 L404.5,77.1 L404.7,77.4 L404.9,77.6 L405.0,78.0 L405.2,78.6 L405.4,78.6 L405.6,78.5 L405.7,79.4 L405.9,80.5 L406.1,80.5 L406.3,81.2 L406.4,81.3 L406.6,80.0 L406.8,80.1 L406.9,80.9 L407.1,81.7 L407.3,82.1 L407.5,80.6 L407.6,80.2 L407.8,80.7 L408.0,82.0 L408.2,82.5 L408.3,82.3 L408.5,82.8 L408.7,83.0 L408.9,83.4 L409.0,84.9 L409.2,85.5 L409.4,83.3 L409.5,82.3 L409.7,84.4 L409.9,85.4 L410.1,85.0 L410.2,85.9 L410.4,84.3 L410.6,82.7 L410.8,84.8 L410.9,85.9 L411.1,86.3 L411.3,86.4 L411.4,86.9 L411.6,86.9 L411.8,85.8 L412.0,86.5 L412.1,87.3 L412.3,87.1 L412.5,87.6 L412.7,88.3 L412.8,88.0 L413.0,87.4 L413.2,87.9 L413.3,88.7 L413.5,89.4 L413.7,89.9 L413.9,90.2 L414.0,90.2 L414.2,90.5 L414.4,90.5 L414.6,90.2 L414.7,90.9 L414.9,91.2 L415.1,90.8 L415.2,90.6 L415.4,91.2 L415.6,91.3 L415.8,91.2 L415.9,92.3 L416.1,92.0 L416.3,92.6 L416.5,92.5 L416.6,92.4 L416.8,93.3 L417.0,93.6 L417.2,94.1 L417.3,93.7 L417.5,92.7 L417.7,92.5 L417.8,93.6 L418.0,93.6 L418.2,94.9 L418.4,95.3 L418.5,94.1 L418.7,95.6 L418.9,96.5 L419.1,96.7 L419.2,96.2 L419.4,96.3 L419.6,97.0 L419.7,97.2 L419.9,97.7 L420.1,97.4 L420.3,97.2 L420.4,98.1 L420.6,97.9 L420.8,97.3 L421.0,97.9 L421.1,97.8 L421.3,98.0 L421.5,98.5 L421.6,98.1 L421.8,98.7 L422.0,98.9 L422.2,98.0 L422.3,98.3 L422.5,99.0 L422.7,99.8 L422.9,101.4 L423.0,101.8 L423.2,101.1 L423.4,100.5 L423.5,99.9 L423.7,100.8 L423.9,101.6 L424.1,101.6 L424.2,101.7 L424.4,100.8 L424.6,101.1 L424.8,102.4 L424.9,103.4 L425.1,104.0 L425.3,103.7 L425.5,103.6 L425.6,104.1 L425.8,104.1 L426.0,103.0 L426.1,103.6 L426.3,105.4 L426.5,105.0 L426.7,103.4 L426.8,104.1 L427.0,105.4 L427.2,105.0 L427.4,105.6 L427.5,106.9 L427.7,106.4 L427.9,107.1 L428.0,108.1 L428.2,107.0 L428.4,106.7 L428.6,107.3 L428.7,107.4 L428.9,106.9 L429.1,106.8 L429.3,108.2 L429.4,108.5 L429.6,108.4 L429.8,109.0 L429.9,110.1 L430.1,110.4 L430.3,109.3 L430.5,109.9 L430.6,110.1 L430.8,109.2 L431.0,109.4 L431.2,110.1 L431.3,110.3 L431.5,110.0 L431.7,110.4 L431.8,111.5 L432.0,111.7 L432.2,110.5 L432.4,109.5 L432.5,111.0 L432.7,111.8 L432.9,112.0 L433.1,112.8 L433.2,112.4 L433.4,112.4 L433.6,112.7 L433.8,112.9 L433.9,112.7 L434.1,113.3 L434.3,113.5 L434.4,113.4 L434.6,114.1 L434.8,113.5 L435.0,113.3 L435.1,113.4 L435.3,113.9 L435.5,114.7 L435.7,114.9 L435.8,115.0 L436.0,115.0 L436.2,115.5 L436.3,115.4 L436.5,115.8 L436.7,116.4 L436.9,115.6 L437.0,115.9 L437.2,116.6 L437.4,116.2 L437.6,115.9 L437.7,116.2 L437.9,117.6 L438.1,118.0 L438.2,117.7 L438.4,118.3 L438.6,118.6 L438.8,118.6 L438.9,119.2 L439.1,119.8 L439.3,119.0 L439.5,119.1 L439.6,119.4 L439.8,119.1 L440.0,120.5 L440.1,121.5 L440.3,121.2 L440.5,120.3 L440.7,120.0 L440.8,120.3 L441.0,119.9 L441.2,120.6 L441.4,121.3 L441.5,121.6 L441.7,121.6 L441.9,120.0 L442.0,121.0 L442.2,121.8 L442.4,121.1 L442.6,121.9 L442.7,122.6 L442.9,122.1 L443.1,122.8 L443.3,123.3 L443.4,122.5 L443.6,122.4 L443.8,123.4 L444.0,124.5 L444.1,123.7 L444.3,122.3 L444.5,123.0 L444.6,124.4 L444.8,124.2 L445.0,123.7 L445.2,124.2 L445.3,124.2 L445.5,123.2 L445.7,123.6 L445.9,124.8 L446.0,125.7 L446.2,126.2 L446.4,124.9 L446.5,124.8 L446.7,125.3 L446.9,126.3 L447.1,127.4 L447.2,126.9 L447.4,126.0 L447.6,125.4 L447.8,125.7 L447.9,127.1 L448.1,128.1 L448.3,127.6 L448.4,126.8 L448.6,126.9 L448.8,127.0 L449.0,127.5 L449.1,127.9 L449.3,128.6 L449.5,128.9 L449.7,127.7 L449.8,128.1 L450.0,129.6 L450.2,129.2 L450.3,129.4 L450.5,129.8 L450.7,128.8 L450.9,127.9 L451.0,129.1 L451.2,130.8 L451.4,130.3 L451.6,129.1 L451.7,129.5 L451.9,130.3 L452.1,129.9 L452.3,130.5 L452.4,130.4 L452.6,130.8 L452.8,130.7 L452.9,130.5 L453.1,132.0 L453.3,132.0 L453.5,130.8 L453.6,131.6 L453.8,132.1 L454.0,131.3 L454.2,131.3 L454.3,131.9 L454.5,132.4 L454.7,132.7 L454.8,132.0 L455.0,131.6 L455.2,131.9 L455.4,132.6 L455.5,132.8 L455.7,132.7 L455.9,133.8 L456.1,134.1 L456.2,133.5 L456.4,133.8 L456.6,134.8 L456.7,134.7 L456.9,134.2 L457.1,134.7 L457.3,134.8 L457.4,134.0 L457.6,134.6 L457.8,134.1 L458.0,133.6 L458.1,135.6 L458.3,136.5 L458.5,136.1 L458.6,135.4 L458.8,134.6 L459.0,135.5 L459.2,136.0 L459.3,136.1 L459.5,137.2 L459.7,137.7 L459.9,138.1 L460.0,137.2 L460.2,137.4 L460.4,137.4 L460.6,136.5 L460.7,137.1 L460.9,137.4 L461.1,137.7 L461.2,137.2 L461.4,137.8 L461.6,138.5 L461.8,138.7 L461.9,139.3 L462.1,139.7 L462.3,138.5 L462.5,137.6 L462.6,138.4 L462.8,138.4 L463.0,138.5 L463.1,139.3 L463.3,139.0 L463.5,138.6 L463.7,138.4 L463.8,139.0 L464.0,139.5 L464.2,140.0 L464.4,140.6 L464.5,140.3 L464.7,140.4 L464.9,140.2 L465.0,140.8 L465.2,140.5 L465.4,140.1 L465.6,140.2 L465.7,140.3 L465.9,139.9 L466.1,139.9 L466.3,140.1 L466.4,139.9 L466.6,140.8 L466.8,140.8 L466.9,140.7 L467.1,141.5 L467.3,141.3 L467.5,141.5 L467.6,142.1 L467.8,142.7 L468.0,143.0 L468.2,142.8 L468.3,142.0 L468.5,141.6 L468.7,142.8 L468.9,142.5 L469.0,141.8 L469.2,143.4 L469.4,143.5 L469.5,143.4 L469.7,143.9 L469.9,143.1 L470.1,142.1 L470.2,142.3 L470.4,142.7 L470.6,143.3 L470.8,144.1 L470.9,143.8 L471.1,143.5 L471.3,144.1 L471.4,144.5 L471.6,144.8 L471.8,145.4 L472.0,144.8 L472.1,145.3 L472.3,145.5 L472.5,144.8 L472.7,145.1 L472.8,144.9 L473.0,145.3 L473.2,146.0 L473.3,145.3 L473.5,146.3 L473.7,147.2 L473.9,146.6 L474.0,145.7 L474.2,145.1 L474.4,145.5 L474.6,145.8 L474.7,146.9 L474.9,147.9 L475.1,146.7 L475.2,145.9 L475.4,146.9 L475.6,147.0 L475.8,147.0 L475.9,147.4 L476.1,148.3 L476.3,148.5 L476.5,147.8 L476.6,148.2 L476.8,147.9 L477.0,147.0 L477.2,146.9 L477.3,147.2 L477.5,146.8 L477.7,148.1 L477.8,149.2 L478.0,148.1 L478.2,147.7 L478.4,148.7 L478.5,148.8 L478.7,148.9 L478.9,149.7 L479.1,149.5 L479.2,149.7 L479.4,149.1 L479.6,148.4 L479.7,148.6 L479.9,149.1 L480.1,150.1 L480.3,150.5 L480.4,150.3 L480.6,149.5 L480.8,150.0 L481.0,151.0 L481.1,150.4 L481.3,150.4 L481.5,150.2 L481.6,149.8 L481.8,150.1 L482.0,150.8 L482.2,149.9 L482.3,149.8 L482.5,150.8 L482.7,150.8 L482.9,150.6 L483.0,150.6 L483.2,150.6 L483.4,151.5 L483.5,152.7 L483.7,151.5 L483.9,151.6 L484.1,152.2 L484.2,151.9 L484.4,151.5 L484.6,151.2 L484.8,152.2 L484.9,153.0 L485.1,152.8 L485.3,152.3 L485.5,152.2 L485.6,153.0 L485.8,153.0 L486.0,152.8 L486.1,152.9 L486.3,153.7 L486.5,153.7 L486.7,153.4 L486.8,153.5 L487.0,153.2 L487.2,153.0 L487.4,152.9 L487.5,153.6 L487.7,153.0 L487.9,153.1 L488.0,154.0 L488.2,153.4 L488.4,153.5 L488.6,154.4 L488.7,154.7 L488.9,154.1 L489.1,153.9 L489.3,154.1 L489.4,154.3 L489.6,154.8 L489.8,154.2 L489.9,153.9 L490.1,155.2 L490.3,155.6 L490.5,154.7 L490.6,154.5 L490.8,154.4 L491.0,155.0 L491.2,155.9 L491.3,155.8 L491.5,155.3 L491.7,155.8 L491.8,156.3 L492.0,156.7 L492.2,157.1 L492.4,155.6 L492.5,154.8 L492.7,155.5 L492.9,155.6 L493.1,155.8 L493.2,157.3 L493.4,157.3 L493.6,156.1 L493.8,156.4 L493.9,157.0 L494.1,156.9 L494.3,155.7 L494.4,155.7 L494.6,156.4 L494.8,156.3 L495.0,156.4 L495.1,157.5 L495.3,157.8 L495.5,157.7 L495.7,158.3 L495.8,157.9 L496.0,158.0 L496.2,158.2 L496.3,157.5 L496.5,157.7 L496.7,157.5 L496.9,158.6 L497.0,159.7 L497.2,158.5 L497.4,158.1 L497.6,157.0 L497.7,156.6 L497.9,158.7 L498.1,159.3 L498.2,158.8 L498.4,158.2 L498.6,157.9 L498.8,158.6 L498.9,158.8 L499.1,158.2 L499.3,158.4 L499.5,158.9 L499.6,158.6 L499.8,159.6 L500.0,160.7 L500.1,159.6 L500.3,158.3 L500.5,158.1 L500.7,158.4 L500.8,158.3 L501.0,158.6 L501.2,159.9 L501.4,160.1 L501.5,159.5 L501.7,159.8 L501.9,160.2 L502.1,159.9 L502.2,160.7 L502.4,161.8 L502.6,160.9 L502.7,160.0 L502.9,160.2 L503.1,160.6 L503.3,160.8 L503.4,160.6 L503.6,160.5 L503.8,160.1 L504.0,160.4 L504.1,161.9 L504.3,160.8 L504.5,160.8 L504.6,161.9 L504.8,160.5 L505.0,160.4 L505.2,161.3 L505.3,161.7 L505.5,161.9 L505.7,161.0 L505.9,161.1 L506.0,161.5 L506.2,160.9 L506.4,160.9 L506.5,161.0 L506.7,160.9 L506.9,160.3 L507.1,161.7 L507.2,162.5 L507.4,161.4 L507.6,162.0 L507.8,162.8 L507.9,162.1 L508.1,162.3 L508.3,161.4 L508.4,161.1 L508.6,163.0 L508.8,163.0 L509.0,162.2 L509.1,161.8 L509.3,161.8 L509.5,162.5 L509.7,161.9 L509.8,160.5 L510.0,162.0 L510.2,163.6 L510.4,163.3 L510.5,163.2 L510.7,163.4 L510.9,163.0 L511.0,162.7 L511.2,163.3 L511.4,163.3 L511.6,164.1 L511.7,164.4 L511.9,163.3 L512.1,163.4 L512.3,164.3 L512.4,164.3 L512.6,163.6 L512.8,164.0 L512.9,163.9 L513.1,162.7 L513.3,163.5 L513.5,164.6 L513.6,163.2 L513.8,162.8 L514.0,164.1 L514.2,163.7 L514.3,163.6 L514.5,164.7 L514.7,165.2 L514.8,164.9 L515.0,164.8 L515.2,165.4 L515.4,164.9 L515.5,164.1 L515.7,164.4 L515.9,164.9 L516.1,165.1 L516.2,164.8 L516.4,164.4 L516.6,164.3 L516.7,164.4 L516.9,164.4 L517.1,163.7 L517.3,164.0 L517.4,165.3 L517.6,165.1 L517.8,165.4 L518.0,165.4 L518.1,165.3 L518.3,164.5 L518.5,164.6 L518.7,166.8 L518.8,166.7 L519.0,165.5 L519.2,165.6 L519.3,165.2 L519.5,165.6 L519.7,166.3 L519.9,164.8 L520.0,164.9 L520.2,164.8 L520.4,164.8 L520.6,165.5 L520.7,165.7 L520.9,166.2 L521.1,165.4 L521.2,165.0 L521.4,165.1 L521.6,165.7 L521.8,166.4 L521.9,166.8 L522.1,167.7 L522.3,166.2 L522.5,165.4 L522.6,166.2 L522.8,165.8 L523.0,166.7 L523.1,167.5 L523.3,165.6 L523.5,165.2 L523.7,166.2 L523.8,166.4 L524.0,167.7 L524.2,167.7 L524.4,166.1 L524.5,166.4 L524.7,165.9 L524.9,165.6 L525.0,166.3 L525.2,166.6 L525.4,166.0 L525.6,165.9 L525.7,167.5 L525.9,168.1 L526.1,168.1 L526.3,166.9 L526.4,166.5 L526.6,166.7 L526.8,167.0 L527.0,167.0 L527.1,168.1 L527.3,168.3 L527.5,167.6 L527.6,168.7 L527.8,167.7 L528.0,166.9 L528.2,167.6 L528.3,167.3 L528.5,166.4 L528.7,167.0 L528.9,167.7 L529.0,167.3 L529.2,168.5 L529.4,168.6 L529.5,167.6 L529.7,167.3 L529.9,167.2 L530.1,168.4 L530.2,169.1 L530.4,168.8 L530.6,167.7 L530.8,167.9 L530.9,167.8 L531.1,167.6" stroke="#62a00c" stroke-width="1.65"/>
<path d="M81.7,196.1 L81.9,196.3 L82.0,196.7 L82.2,196.5 L82.4,196.6 L82.6,196.5 L82.7,196.7 L82.9,196.7 L83.1,196.2 L83.3,196.2 L83.4,196.5 L83.6,197.3 L83.8,197.4 L83.9,196.9 L84.1,197.3 L84.3,197.2 L84.5,196.6 L84.6,196.5 L84.8,196.8 L85.0,196.6 L85.2,196.7 L85.3,197.1 L85.5,197.7 L85.7,197.9 L85.8,197.5 L86.0,197.2 L86.2,197.1 L86.4,196.8 L86.5,197.0 L86.7,197.0 L86.9,197.0 L87.1,197.9 L87.2,197.9 L87.4,197.7 L87.6,197.6 L87.8,197.1 L87.9,197.4 L88.1,197.8 L88.3,197.9 L88.4,198.1 L88.6,198.1 L88.8,198.1 L89.0,198.1 L89.1,198.5 L89.3,198.3 L89.5,198.0 L89.7,198.4 L89.8,198.7 L90.0,198.4 L90.2,198.0 L90.3,198.1 L90.5,198.8 L90.7,198.8 L90.9,198.5 L91.0,198.4 L91.2,198.5 L91.4,198.7 L91.6,198.9 L91.7,198.8 L91.9,198.5 L92.1,199.2 L92.2,199.5 L92.4,198.9 L92.6,198.9 L92.8,199.2 L92.9,199.6 L93.1,199.6 L93.3,199.3 L93.5,199.4 L93.6,199.2 L93.8,199.0 L94.0,199.6 L94.1,199.9 L94.3,199.7 L94.5,199.5 L94.7,199.3 L94.8,199.6 L95.0,199.9 L95.2,200.3 L95.4,200.1 L95.5,199.8 L95.7,200.0 L95.9,199.8 L96.1,200.4 L96.2,200.9 L96.4,200.6 L96.6,200.1 L96.7,200.1 L96.9,200.6 L97.1,200.5 L97.3,200.1 L97.4,200.6 L97.6,200.8 L97.8,200.7 L98.0,200.9 L98.1,200.6 L98.3,201.0 L98.5,200.9 L98.6,200.7 L98.8,201.0 L99.0,201.4 L99.2,201.7 L99.3,201.5 L99.5,201.0 L99.7,201.3 L99.9,201.6 L100.0,201.4 L100.2,201.2 L100.4,201.1 L100.5,201.7 L100.7,201.7 L100.9,201.8 L101.1,202.3 L101.2,202.5 L101.4,202.2 L101.6,201.6 L101.8,201.2 L101.9,201.5 L102.1,201.8 L102.3,202.0 L102.4,202.0 L102.6,202.2 L102.8,202.7 L103.0,202.2 L103.1,202.3 L103.3,202.8 L103.5,202.9 L103.7,202.9 L103.8,202.9 L104.0,203.1 L104.2,203.0 L104.4,202.9 L104.5,202.8 L104.7,203.0 L104.9,203.1 L105.0,202.9 L105.2,203.0 L105.4,203.3 L105.6,203.7 L105.7,203.3 L105.9,203.4 L106.1,203.7 L106.3,203.8 L106.4,203.9 L106.6,203.8 L106.8,203.8 L106.9,203.6 L107.1,203.8 L107.3,204.4 L107.5,204.1 L107.6,204.1 L107.8,204.7 L108.0,204.8 L108.2,204.9 L108.3,205.0 L108.5,204.7 L108.7,205.1 L108.8,205.2 L109.0,204.7 L109.2,205.1 L109.4,205.1 L109.5,205.1 L109.7,205.1 L109.9,205.3 L110.1,205.8 L110.2,205.5 L110.4,205.4 L110.6,205.8 L110.7,205.7 L110.9,205.7 L111.1,205.8 L111.3,205.6 L111.4,205.5 L111.6,205.8 L111.8,206.2 L112.0,206.4 L112.1,206.4 L112.3,206.5 L112.5,206.4 L112.7,206.7 L112.8,206.7 L113.0,206.5 L113.2,206.8 L113.3,206.6 L113.5,207.2 L113.7,207.4 L113.9,206.8 L114.0,206.8 L114.2,207.1 L114.4,207.5 L114.6,207.5 L114.7,207.2 L114.9,207.3 L115.1,207.2 L115.2,207.6 L115.4,208.0 L115.6,208.2 L115.8,208.0 L115.9,207.7 L116.1,207.9 L116.3,208.1 L116.5,208.4 L116.6,208.2 L116.8,208.1 L117.0,208.2 L117.1,207.9 L117.3,207.9 L117.5,207.9 L117.7,208.5 L117.8,208.7 L118.0,208.4 L118.2,208.4 L118.4,208.5 L118.5,208.7 L118.7,209.2 L118.9,209.4 L119.0,209.3 L119.2,209.3 L119.4,209.6 L119.6,209.5 L119.7,209.5 L119.9,209.5 L120.1,209.3 L120.3,209.8 L120.4,210.1 L120.6,210.0 L120.8,209.9 L121.0,210.1 L121.1,210.9 L121.3,211.0 L121.5,210.7 L121.6,210.7 L121.8,210.9 L122.0,210.9 L122.2,211.4 L122.3,211.6 L122.5,211.1 L122.7,211.4 L122.9,211.2 L123.0,210.9 L123.2,211.0 L123.4,211.2 L123.5,211.9 L123.7,211.8 L123.9,212.0 L124.1,212.6 L124.2,212.5 L124.4,212.4 L124.6,211.8 L124.8,211.6 L124.9,212.3 L125.1,212.6 L125.3,212.5 L125.4,212.7 L125.6,213.0 L125.8,213.3 L126.0,213.2 L126.1,213.0 L126.3,213.3 L126.5,213.1 L126.7,212.8 L126.8,212.9 L127.0,212.9 L127.2,213.0 L127.3,213.4 L127.5,213.8 L127.7,214.1 L127.9,214.2 L128.0,214.0 L128.2,214.0 L128.4,214.2 L128.6,214.5 L128.7,214.4 L128.9,214.4 L129.1,214.4 L129.3,214.4 L129.4,214.4 L129.6,214.8 L129.8,214.9 L129.9,214.6 L130.1,215.1 L130.3,215.4 L130.5,215.0 L130.6,214.9 L130.8,215.1 L131.0,215.2 L131.2,215.4 L131.3,215.5 L131.5,215.4 L131.7,215.9 L131.8,216.6 L132.0,216.9 L132.2,216.5 L132.4,216.4 L132.5,216.6 L132.7,217.0 L132.9,217.2 L133.1,217.0 L133.2,217.5 L133.4,217.7 L133.6,217.4 L133.7,217.1 L133.9,217.1 L134.1,217.1 L134.3,217.6 L134.4,218.0 L134.6,217.9 L134.8,218.1 L135.0,217.9 L135.1,218.0 L135.3,218.4 L135.5,218.4 L135.6,218.4 L135.8,218.6 L136.0,218.5 L136.2,218.5 L136.3,218.7 L136.5,218.7 L136.7,219.0 L136.9,218.8 L137.0,218.5 L137.2,219.1 L137.4,219.8 L137.6,220.1 L137.7,219.7 L137.9,220.0 L138.1,220.3 L138.2,220.0 L138.4,220.0 L138.6,220.6 L138.8,220.9 L138.9,220.6 L139.1,220.3 L139.3,220.7 L139.5,220.8 L139.6,220.6 L139.8,221.2 L140.0,221.2 L140.1,221.0 L140.3,221.3 L140.5,221.6 L140.7,221.9 L140.8,222.1 L141.0,222.1 L141.2,222.3 L141.4,222.2 L141.5,222.4 L141.7,222.9 L141.9,222.8 L142.0,222.5 L142.2,222.6 L142.4,223.2 L142.6,223.3 L142.7,223.0 L142.9,222.9 L143.1,223.1 L143.3,223.2 L143.4,223.5 L143.6,223.8 L143.8,223.4 L143.9,223.9 L144.1,224.4 L144.3,224.4 L144.5,224.3 L144.6,224.5 L144.8,224.9 L145.0,224.9 L145.2,225.1 L145.3,225.4 L145.5,225.4 L145.7,225.6 L145.9,225.9 L146.0,225.6 L146.2,225.8 L146.4,226.0 L146.5,226.3 L146.7,226.4 L146.9,226.2 L147.1,226.3 L147.2,226.6 L147.4,226.4 L147.6,226.1 L147.8,226.5 L147.9,227.0 L148.1,227.3 L148.3,227.3 L148.4,227.0 L148.6,226.7 L148.8,227.1 L149.0,227.6 L149.1,227.9 L149.3,228.3 L149.5,228.2 L149.7,228.4 L149.8,228.7 L150.0,228.5 L150.2,228.7 L150.3,228.5 L150.5,229.1 L150.7,229.6 L150.9,229.5 L151.0,229.5 L151.2,229.1 L151.4,229.1 L151.6,229.4 L151.7,229.3 L151.9,229.2 L152.1,229.9 L152.2,230.4 L152.4,230.4 L152.6,231.0 L152.8,231.0 L152.9,230.9 L153.1,231.4 L153.3,231.6 L153.5,231.6 L153.6,231.4 L153.8,231.3 L154.0,231.8 L154.2,232.1 L154.3,232.3 L154.5,232.7 L154.7,232.7 L154.8,232.9 L155.0,233.0 L155.2,233.3 L155.4,232.9 L155.5,232.6 L155.7,233.3 L155.9,234.0 L156.1,233.7 L156.2,233.4 L156.4,234.0 L156.6,234.6 L156.7,234.5 L156.9,234.0 L157.1,234.3 L157.3,235.1 L157.4,235.2 L157.6,235.3 L157.8,235.5 L158.0,235.4 L158.1,235.6 L158.3,236.1 L158.5,236.1 L158.6,235.9 L158.8,235.9 L159.0,236.4 L159.2,236.6 L159.3,236.9 L159.5,237.2 L159.7,237.1 L159.9,237.4 L160.0,237.6 L160.2,238.0 L160.4,238.5 L160.5,238.1 L160.7,237.8 L160.9,237.7 L161.1,238.2 L161.2,238.9 L161.4,238.9 L161.6,238.7 L161.8,239.1 L161.9,239.9 L162.1,239.6 L162.3,239.4 L162.5,239.5 L162.6,240.0 L162.8,240.4 L163.0,240.4 L163.1,240.4 L163.3,240.3 L163.5,240.4 L163.7,240.5 L163.8,241.0 L164.0,241.6 L164.2,241.5 L164.4,241.6 L164.5,241.6 L164.7,241.4 L164.9,241.6 L165.0,242.1 L165.2,242.4 L165.4,242.9 L165.6,243.4 L165.7,243.1 L165.9,242.9 L166.1,243.6 L166.3,243.5 L166.4,243.4 L166.6,244.2 L166.8,244.5 L166.9,244.4 L167.1,244.7 L167.3,244.9 L167.5,244.7 L167.6,245.1 L167.8,245.5 L168.0,245.7 L168.2,246.2 L168.3,246.6 L168.5,246.0 L168.7,245.9 L168.8,246.8 L169.0,247.1 L169.2,247.1 L169.4,247.0 L169.5,247.4 L169.7,247.5 L169.9,247.2 L170.1,247.8 L170.2,248.5 L170.4,248.3 L170.6,248.5 L170.8,248.8 L170.9,248.9 L171.1,249.0 L171.3,249.1 L171.4,249.4 L171.6,249.5 L171.8,249.9 L172.0,250.4 L172.1,250.3 L172.3,250.7 L172.5,250.9 L172.7,250.5 L172.8,250.8 L173.0,251.8 L173.2,251.9 L173.3,251.4 L173.5,251.6 L173.7,252.2 L173.9,252.7 L174.0,252.9 L174.2,253.2 L174.4,253.8 L174.6,253.8 L174.7,253.7 L174.9,253.9 L175.1,254.1 L175.2,254.6 L175.4,254.8 L175.6,254.5 L175.8,254.8 L175.9,255.6 L176.1,255.7 L176.3,256.0 L176.5,256.4 L176.6,255.9 L176.8,255.8 L177.0,256.1 L177.1,256.3 L177.3,256.6 L177.5,256.9 L177.7,257.5 L177.8,257.2 L178.0,257.5 L178.2,258.1 L178.4,258.4 L178.5,258.6 L178.7,258.1 L178.9,258.4 L179.0,259.2 L179.2,259.5 L179.4,259.7 L179.6,259.6 L179.7,259.6 L179.9,259.9 L180.1,260.1 L180.3,260.5 L180.4,261.1 L180.6,261.5 L180.8,261.7 L181.0,261.8 L181.1,262.1 L181.3,262.3 L181.5,262.2 L181.6,262.6 L181.8,263.1 L182.0,263.1 L182.2,263.6 L182.3,264.0 L182.5,264.1 L182.7,264.7 L182.9,265.1 L183.0,265.1 L183.2,265.1 L183.4,264.7 L183.5,264.4 L183.7,264.8 L183.9,266.1 L184.1,266.6 L184.2,266.2 L184.4,266.6 L184.6,267.2 L184.8,267.4 L184.9,267.6 L185.1,267.8 L185.3,267.9 L185.4,267.9 L185.6,267.7 L185.8,268.1 L186.0,268.8 L186.1,269.2 L186.3,269.7 L186.5,269.5 L186.7,269.3 L186.8,270.0 L187.0,270.2 L187.2,270.3 L187.3,271.0 L187.5,271.3 L187.7,271.4 L187.9,271.6 L188.0,271.8 L188.2,272.1 L188.4,272.7 L188.6,272.7 L188.7,273.0 L188.9,273.6 L189.1,273.6 L189.3,273.5 L189.4,273.8 L189.6,274.3 L189.8,275.0 L189.9,274.8 L190.1,274.9 L190.3,275.1 L190.5,275.5 L190.6,276.2 L190.8,276.3 L191.0,276.4 L191.2,276.4 L191.3,277.1 L191.5,277.5 L191.7,277.4 L191.8,277.8 L192.0,278.3 L192.2,278.6 L192.4,278.6 L192.5,278.6 L192.7,279.3 L192.9,279.5 L193.1,279.8 L193.2,280.8 L193.4,281.1 L193.6,280.9 L193.7,280.6 L193.9,281.2 L194.1,281.9 L194.3,281.9 L194.4,282.2 L194.6,282.5 L194.8,282.6 L195.0,283.2 L195.1,283.4 L195.3,283.6 L195.5,284.0 L195.6,284.0 L195.8,284.3 L196.0,284.9 L196.2,284.9 L196.3,285.1 L196.5,285.6 L196.7,286.2 L196.9,286.3 L197.0,286.3 L197.2,287.0 L197.4,287.5 L197.6,287.5 L197.7,287.8 L197.9,288.2 L198.1,288.9 L198.2,289.2 L198.4,289.5 L198.6,290.0 L198.8,289.5 L198.9,289.3 L199.1,289.8 L199.3,290.3 L199.5,291.0 L199.6,290.9 L199.8,291.5 L200.0,292.1 L200.1,292.4 L200.3,292.5 L200.5,292.7 L200.7,293.4 L200.8,293.4 L201.0,293.5 L201.2,293.9 L201.4,294.1 L201.5,294.4 L201.7,294.4 L201.9,294.8 L202.0,295.6 L202.2,295.4 L202.4,295.9 L202.6,296.0 L202.7,295.9 L202.9,296.9 L203.1,297.6 L203.3,297.5 L203.4,298.0 L203.6,298.4 L203.8,298.4 L203.9,298.8 L204.1,299.3 L204.3,299.7 L204.5,299.7 L204.6,299.8 L204.8,300.4 L205.0,301.1 L205.2,301.3 L205.3,301.6 L205.5,302.0 L205.7,301.9 L205.9,302.0 L206.0,303.0 L206.2,303.3 L206.4,303.4 L206.5,303.4 L206.7,304.3 L206.9,304.7 L207.1,304.5 L207.2,305.1 L207.4,304.9 L207.6,305.1 L207.8,306.0 L207.9,306.2 L208.1,306.5 L208.3,306.9 L208.4,307.3 L208.6,308.2 L208.8,308.0 L209.0,307.9 L209.1,308.3 L209.3,308.4 L209.5,308.8 L209.7,309.4 L209.8,309.8 L210.0,310.2 L210.2,309.9 L210.3,310.1 L210.5,310.4 L210.7,310.9 L210.9,311.9 L211.0,312.2 L211.2,312.2 L211.4,312.6 L211.6,313.2 L211.7,313.6 L211.9,313.6 L212.1,313.7 L212.2,314.4 L212.4,314.8 L212.6,314.9 L212.8,315.3 L212.9,315.7 L213.1,316.1 L213.3,316.2 L213.5,316.4 L213.6,316.7 L213.8,317.1 L214.0,317.7 L214.2,317.6 L214.3,318.2 L214.5,318.6 L214.7,318.6 L214.8,318.9 L215.0,319.1 L215.2,319.6 L215.4,320.2 L215.5,320.6 L215.7,321.0 L215.9,321.2 L216.1,321.7 L216.2,321.7 L216.4,321.8 L216.6,322.5 L216.7,322.7 L216.9,322.9 L217.1,323.2 L217.3,323.6 L217.4,324.0 L217.6,324.4 L217.8,324.9 L218.0,325.2 L218.1,325.4 L218.3,325.5 L218.5,325.9 L218.6,326.6 L218.8,326.7 L219.0,326.6 L219.2,326.9 L219.3,327.7 L219.5,327.8 L219.7,327.9 L219.9,328.5 L220.0,328.9 L220.2,329.0 L220.4,329.2 L220.5,329.7 L220.7,330.0 L220.9,330.9 L221.1,331.0 L221.2,331.4 L221.4,331.8 L221.6,331.8 L221.8,332.6 L221.9,333.0 L222.1,332.9 L222.3,332.5 L222.5,332.5 L222.6,333.4 L222.8,333.7 L223.0,333.7 L223.1,334.3 L223.3,334.5 L223.5,334.4 L223.7,335.2 L223.8,336.1 L224.0,336.1 L224.2,336.0 L224.4,336.6 L224.5,336.7 L224.7,336.7 L224.9,337.2 L225.0,337.4 L225.2,337.5 L225.4,338.4 L225.6,338.4 L225.7,338.7 L225.9,339.7 L226.1,339.4 L226.3,339.6 L226.4,340.1 L226.6,339.9 L226.8,340.0 L226.9,340.3 L227.1,341.1 L227.3,341.2 L227.5,340.9 L227.6,341.3 L227.8,341.7 L228.0,342.5 L228.2,342.8 L228.3,342.4 L228.5,342.6 L228.7,342.9 L228.8,342.8 L229.0,343.3 L229.2,343.8 L229.4,344.0 L229.5,344.6 L229.7,345.2 L229.9,345.3 L230.1,345.1 L230.2,345.2 L230.4,345.5 L230.6,345.7 L230.8,346.0 L230.9,346.2 L231.1,346.7 L231.3,346.9 L231.4,347.2 L231.6,347.7 L231.8,347.6 L232.0,347.8 L232.1,348.0 L232.3,348.1 L232.5,348.6 L232.7,348.8 L232.8,349.8 L233.0,349.8 L233.2,348.8 L233.3,349.6 L233.5,350.0 L233.7,349.7 L233.9,349.8 L234.0,350.1 L234.2,350.4 L234.4,350.8 L234.6,351.1 L234.7,351.1 L234.9,351.6 L235.1,351.9 L235.2,351.8 L235.4,351.7 L235.6,351.7 L235.8,351.8 L235.9,352.5 L236.1,352.9 L236.3,352.8 L236.5,353.2 L236.6,353.6 L236.8,353.9 L237.0,354.2 L237.1,354.1 L237.3,353.9 L237.5,354.2 L237.7,354.6 L237.8,354.7 L238.0,354.7 L238.2,355.0 L238.4,355.5 L238.5,355.6 L238.7,355.7 L238.9,355.9 L239.1,355.8 L239.2,356.3 L239.4,356.4 L239.6,356.4 L239.7,356.2 L239.9,356.5 L240.1,356.9 L240.3,356.8 L240.4,356.9 L240.6,357.2 L240.8,357.2 L241.0,357.1 L241.1,357.3 L241.3,357.7 L241.5,357.7 L241.6,357.9 L241.8,358.4 L242.0,358.1 L242.2,358.1 L242.3,358.4 L242.5,358.1 L242.7,357.8 L242.9,357.7 L243.0,358.4 L243.2,358.8 L243.4,358.5 L243.5,358.8 L243.7,359.3 L243.9,359.3 L244.1,359.4 L244.2,359.6 L244.4,360.1 L244.6,359.7 L244.8,358.8 L244.9,358.9 L245.1,359.1 L245.3,359.1 L245.4,359.2 L245.6,358.9 L245.8,359.0 L246.0,359.5 L246.1,359.6 L246.3,359.7 L246.5,359.4 L246.7,359.3 L246.8,358.8 L247.0,358.6 L247.2,359.1 L247.4,359.5 L247.5,359.5 L247.7,358.7 L247.9,359.2 L248.0,359.3 L248.2,358.7 L248.4,358.7 L248.6,357.8 L248.7,358.2 L248.9,358.8 L249.1,358.7 L249.3,358.7 L249.4,358.6 L249.6,359.0 L249.8,358.9 L249.9,358.5 L250.1,358.1 L250.3,358.1 L250.5,357.8 L250.6,357.7 L250.8,358.1 L251.0,357.6 L251.2,357.1 L251.3,357.7 L251.5,357.9 L251.7,357.8 L251.8,357.8 L252.0,357.4 L252.2,357.2 L252.4,357.3 L252.5,357.4 L252.7,356.9 L252.9,356.0 L253.1,355.6 L253.2,355.8 L253.4,355.7 L253.6,355.7 L253.7,355.9 L253.9,355.7 L254.1,355.5 L254.3,355.3 L254.4,355.1 L254.6,354.9 L254.8,354.3 L255.0,354.1 L255.1,354.1 L255.3,354.1 L255.5,353.8 L255.7,353.2 L255.8,353.5 L256.0,353.6 L256.2,353.2 L256.3,353.2 L256.5,352.6 L256.7,352.2 L256.9,352.1 L257.0,351.3 L257.2,351.1 L257.4,351.1 L257.6,350.9 L257.7,350.5 L257.9,350.0 L258.1,349.6 L258.2,349.5 L258.4,349.0 L258.6,348.5 L258.8,348.6 L258.9,348.1 L259.1,348.0 L259.3,347.7 L259.5,346.9 L259.6,346.2 L259.8,345.8 L260.0,345.8 L260.1,345.8 L260.3,345.6 L260.5,345.3 L260.7,345.1 L260.8,344.6 L261.0,343.9 L261.2,343.6 L261.4,343.4 L261.5,343.5 L261.7,343.5 L261.9,342.6 L262.0,342.0 L262.2,342.1 L262.4,341.8 L262.6,341.4 L262.7,341.0 L262.9,340.4 L263.1,340.1 L263.3,339.6 L263.4,338.9 L263.6,338.5 L263.8,338.5 L263.9,338.3 L264.1,337.3 L264.3,337.1 L264.5,337.1 L264.6,336.6 L264.8,336.2 L265.0,335.5 L265.2,334.6 L265.3,334.2 L265.5,333.8 L265.7,333.2 L265.9,333.6 L266.0,333.2 L266.2,332.5 L266.4,331.8 L266.5,331.4 L266.7,330.7 L266.9,330.1 L267.1,330.0 L267.2,329.5 L267.4,328.7 L267.6,327.7 L267.8,327.3 L267.9,327.2 L268.1,326.7 L268.3,326.5 L268.4,325.7 L268.6,325.2 L268.8,324.8 L269.0,324.6 L269.1,324.7 L269.3,323.8 L269.5,322.7 L269.7,322.1 L269.8,321.8 L270.0,321.1 L270.2,320.3 L270.3,320.2 L270.5,319.8 L270.7,319.4 L270.9,319.1 L271.0,318.1 L271.2,317.4 L271.4,316.8 L271.6,315.8 L271.7,315.3 L271.9,314.8 L272.1,314.4 L272.2,314.3 L272.4,312.8 L272.6,312.0 L272.8,311.7 L272.9,311.4 L273.1,311.0 L273.3,310.1 L273.5,309.6 L273.6,308.7 L273.8,308.0 L274.0,307.8 L274.2,307.0 L274.3,306.2 L274.5,305.7 L274.7,305.4 L274.8,305.2 L275.0,304.1 L275.2,302.9 L275.4,302.4 L275.5,301.7 L275.7,300.9 L275.9,300.1 L276.1,299.8 L276.2,299.8 L276.4,298.8 L276.6,297.2 L276.7,296.1 L276.9,295.9 L277.1,295.3 L277.3,294.3 L277.4,293.8 L277.6,293.1 L277.8,292.7 L278.0,291.7 L278.1,290.7 L278.3,290.0 L278.5,289.3 L278.6,288.4 L278.8,287.5 L279.0,287.4 L279.2,286.6 L279.3,285.7 L279.5,284.9 L279.7,284.1 L279.9,283.4 L280.0,282.7 L280.2,281.8 L280.4,280.8 L280.5,280.5 L280.7,279.5 L280.9,278.8 L281.1,278.3 L281.2,277.4 L281.4,276.0 L281.6,275.5 L281.8,274.9 L281.9,273.7 L282.1,273.2 L282.3,272.8 L282.5,271.9 L282.6,270.5 L282.8,269.8 L283.0,269.6 L283.1,268.4 L283.3,267.3 L283.5,266.7 L283.7,265.8 L283.8,264.9 L284.0,264.1 L284.2,263.5 L284.4,263.1 L284.5,261.7 L284.7,260.7 L284.9,260.3 L285.0,258.9 L285.2,257.7 L285.4,257.4 L285.6,256.5 L285.7,255.8 L285.9,255.0 L286.1,253.8 L286.3,253.1 L286.4,251.8 L286.6,251.1 L286.8,251.0 L286.9,250.3 L287.1,249.1 L287.3,248.5 L287.5,247.8 L287.6,246.6 L287.8,245.6 L288.0,245.0 L288.2,244.0 L288.3,242.6 L288.5,242.1 L288.7,241.9 L288.8,240.8 L289.0,240.6 L289.2,239.6 L289.4,237.9 L289.5,237.4 L289.7,236.5 L289.9,235.6 L290.1,235.3 L290.2,234.2 L290.4,232.6 L290.6,231.9 L290.8,231.3 L290.9,230.5 L291.1,229.8 L291.3,229.0 L291.4,228.9 L291.6,228.1 L291.8,227.3 L292.0,226.4 L292.1,225.0 L292.3,223.7 L292.5,223.1 L292.7,222.8 L292.8,222.6 L293.0,221.3 L293.2,219.7 L293.3,219.2 L293.5,218.5 L293.7,217.7 L293.9,216.8 L294.0,216.0 L294.2,215.1 L294.4,214.1 L294.6,213.6 L294.7,213.3 L294.9,212.3 L295.1,210.8 L295.2,210.0 L295.4,209.6 L295.6,208.9 L295.8,208.4 L295.9,207.3 L296.1,206.2 L296.3,205.5 L296.5,205.1 L296.6,204.6 L296.8,203.3 L297.0,202.2 L297.1,201.7 L297.3,200.8 L297.5,200.0 L297.7,199.8 L297.8,198.8 L298.0,197.8 L298.2,196.9 L298.4,196.2 L298.5,195.4 L298.7,194.6 L298.9,193.5 L299.1,192.8 L299.2,192.3 L299.4,191.5 L299.6,190.8 L299.7,189.6 L299.9,188.6 L300.1,187.8 L300.3,187.2 L300.4,186.2 L300.6,184.9 L300.8,184.6 L301.0,184.2 L301.1,183.0 L301.3,182.2 L301.5,181.4 L301.6,180.4 L301.8,179.6 L302.0,178.9 L302.2,178.4 L302.3,177.5 L302.5,176.2 L302.7,175.1 L302.9,174.4 L303.0,173.7 L303.2,173.3 L303.4,172.2 L303.5,171.2 L303.7,170.8 L303.9,170.2 L304.1,169.3 L304.2,168.5 L304.4,168.0 L304.6,166.8 L304.8,165.9 L304.9,165.2 L305.1,164.1 L305.3,163.4 L305.4,162.6 L305.6,161.9 L305.8,161.4 L306.0,160.2 L306.1,159.4 L306.3,159.0 L306.5,158.3 L306.7,157.2 L306.8,156.5 L307.0,155.8 L307.2,154.9 L307.4,154.0 L307.5,153.2 L307.7,152.7 L307.9,151.7 L308.0,150.2 L308.2,149.5 L308.4,149.2 L308.6,148.3 L308.7,147.2 L308.9,146.2 L309.1,145.6 L309.3,145.0 L309.4,144.3 L309.6,144.0 L309.8,143.5 L309.9,142.7 L310.1,141.8 L310.3,140.8 L310.5,140.2 L310.6,139.0 L310.8,137.5 L311.0,137.6 L311.2,136.9 L311.3,135.5 L311.5,134.8 L311.7,134.5 L311.8,134.2 L312.0,133.4 L312.2,132.3 L312.4,131.4 L312.5,130.9 L312.7,130.2 L312.9,129.4 L313.1,128.5 L313.2,127.9 L313.4,127.5 L313.6,126.5 L313.7,125.7 L313.9,124.5 L314.1,124.2 L314.3,123.9 L314.4,122.9 L314.6,122.4 L314.8,121.9 L315.0,121.2 L315.1,120.7 L315.3,120.3 L315.5,119.1 L315.7,118.1 L315.8,118.1 L316.0,117.4 L316.2,116.1 L316.3,115.4 L316.5,114.9 L316.7,114.5 L316.9,114.1 L317.0,113.2 L317.2,112.0 L317.4,112.0 L317.6,111.1 L317.7,110.0 L317.9,109.6 L318.1,109.1 L318.2,108.8 L318.4,108.2 L318.6,107.7 L318.8,107.0 L318.9,106.2 L319.1,105.5 L319.3,105.3 L319.5,104.7 L319.6,104.3 L319.8,103.9 L320.0,103.7 L320.1,102.6 L320.3,101.5 L320.5,101.3 L320.7,100.7 L320.8,100.5 L321.0,100.3 L321.2,99.8 L321.4,98.5 L321.5,97.4 L321.7,96.9 L321.9,96.5 L322.0,95.8 L322.2,95.3 L322.4,94.7 L322.6,94.2 L322.7,94.0 L322.9,93.8 L323.1,93.3 L323.3,92.4 L323.4,92.0 L323.6,91.4 L323.8,91.0 L324.0,90.7 L324.1,90.0 L324.3,89.5 L324.5,88.9 L324.6,88.4 L324.8,87.7 L325.0,87.3 L325.2,87.1 L325.3,86.3 L325.5,85.7 L325.7,85.7 L325.9,85.2 L326.0,84.7 L326.2,84.5 L326.4,83.5 L326.5,82.7 L326.7,82.8 L326.9,82.8 L327.1,82.1 L327.2,81.4 L327.4,80.3 L327.6,79.8 L327.8,79.5 L327.9,79.0 L328.1,78.9 L328.3,78.5 L328.4,78.2 L328.6,77.8 L328.8,77.0 L329.0,76.4 L329.1,76.5 L329.3,76.6 L329.5,75.7 L329.7,74.9 L329.8,75.0 L330.0,74.6 L330.2,73.9 L330.3,73.6 L330.5,73.6 L330.7,73.0 L330.9,72.0 L331.0,71.2 L331.2,71.1 L331.4,71.4 L331.6,70.7 L331.7,70.0 L331.9,69.6 L332.1,69.7 L332.3,69.1 L332.4,68.4 L332.6,68.1 L332.8,67.7 L332.9,67.6 L333.1,67.3 L333.3,66.7 L333.5,65.9 L333.6,65.4 L333.8,65.0 L334.0,64.9 L334.2,64.8 L334.3,63.8 L334.5,63.5 L334.7,63.4 L334.8,62.5 L335.0,62.2 L335.2,62.2 L335.4,61.8 L335.5,61.3 L335.7,60.8 L335.9,60.3 L336.1,60.6 L336.2,60.2 L336.4,59.6 L336.6,59.6 L336.7,59.1 L336.9,58.2 L337.1,58.1 L337.3,58.1 L337.4,57.9 L337.6,57.7 L337.8,56.6 L338.0,56.6 L338.1,56.4 L338.3,55.9 L338.5,55.9 L338.6,55.3 L338.8,54.4 L339.0,54.3 L339.2,54.6 L339.3,54.2 L339.5,53.6 L339.7,53.7 L339.9,53.7 L340.0,53.2 L340.2,53.1 L340.4,52.8 L340.6,52.1 L340.7,51.7 L340.9,51.6 L341.1,51.8 L341.2,51.4 L341.4,50.6 L341.6,50.5 L341.8,50.5 L341.9,50.4 L342.1,49.9 L342.3,49.7 L342.5,49.6 L342.6,49.5 L342.8,49.6 L343.0,49.1 L343.1,49.0 L343.3,49.0 L343.5,49.2 L343.7,48.8 L343.8,48.4 L344.0,48.1 L344.2,47.9 L344.4,47.6 L344.5,47.4 L344.7,47.9 L344.9,47.9 L345.0,47.3 L345.2,47.1 L345.4,46.8 L345.6,47.0 L345.7,47.0 L345.9,46.5 L346.1,46.9 L346.3,47.2 L346.4,46.8 L346.6,46.3 L346.8,46.5 L346.9,47.0 L347.1,46.6 L347.3,46.1 L347.5,46.2 L347.6,46.4 L347.8,46.3 L348.0,46.0 L348.2,45.7 L348.3,45.4 L348.5,45.5 L348.7,45.6 L348.9,45.4 L349.0,45.0 L349.2,45.0 L349.4,45.1 L349.5,45.1 L349.7,45.4 L349.9,45.5 L350.1,45.5 L350.2,44.9 L350.4,44.8 L350.6,44.9 L350.8,44.6 L350.9,44.9 L351.1,44.9 L351.3,44.6 L351.4,44.6 L351.6,44.4 L351.8,44.5 L352.0,44.6 L352.1,44.8 L352.3,44.9 L352.5,44.3 L352.7,44.4 L352.8,44.5 L353.0,44.5 L353.2,44.3 L353.3,44.2 L353.5,44.2 L353.7,44.6 L353.9,44.5 L354.0,44.3 L354.2,44.3 L354.4,44.2 L354.6,44.4 L354.7,44.5 L354.9,44.2 L355.1,44.2 L355.2,44.5 L355.4,44.4 L355.6,45.0 L355.8,45.0 L355.9,44.1 L356.1,44.4 L356.3,44.6 L356.5,44.2 L356.6,44.3 L356.8,44.6 L357.0,44.4 L357.1,44.1 L357.3,44.3 L357.5,44.7 L357.7,44.9 L357.8,44.8 L358.0,44.8 L358.2,44.6 L358.4,44.4 L358.5,44.9 L358.7,45.1 L358.9,44.9 L359.1,45.0 L359.2,44.7 L359.4,44.6 L359.6,45.1 L359.7,45.9 L359.9,45.9 L360.1,45.8 L360.3,45.9 L360.4,45.6 L360.6,45.8 L360.8,45.7 L361.0,45.6 L361.1,45.8 L361.3,46.0 L361.5,45.8 L361.6,46.0 L361.8,46.8 L362.0,46.7 L362.2,46.6 L362.3,46.6 L362.5,46.6 L362.7,46.8 L362.9,46.6 L363.0,46.5 L363.2,46.8 L363.4,47.6 L363.5,47.7 L363.7,47.7 L363.9,47.8 L364.1,46.7 L364.2,46.9 L364.4,47.8 L364.6,48.4 L364.8,48.3 L364.9,48.1 L365.1,48.2 L365.3,48.3 L365.4,48.8 L365.6,48.6 L365.8,48.8 L366.0,49.3 L366.1,49.0 L366.3,49.3 L366.5,49.5 L366.7,49.5 L366.8,49.7 L367.0,49.5 L367.2,50.1 L367.4,50.8 L367.5,50.9 L367.7,50.8 L367.9,50.6 L368.0,51.1 L368.2,51.4 L368.4,51.2 L368.6,51.2 L368.7,51.0 L368.9,51.4 L369.1,52.0 L369.3,51.8 L369.4,51.7 L369.6,52.1 L369.8,52.4 L369.9,52.3 L370.1,52.1 L370.3,52.4 L370.5,53.0 L370.6,53.4 L370.8,53.5 L371.0,53.9 L371.2,53.9 L371.3,53.5 L371.5,54.0 L371.7,54.3 L371.8,54.6 L372.0,54.5 L372.2,54.5 L372.4,54.5 L372.5,55.0 L372.7,55.4 L372.9,55.4 L373.1,56.0 L373.2,56.2 L373.4,55.8 L373.6,56.0 L373.7,56.5 L373.9,57.1 L374.1,57.4 L374.3,57.0 L374.4,57.8 L374.6,58.4 L374.8,58.0 L375.0,57.7 L375.1,57.5 L375.3,57.9 L375.5,58.4 L375.7,58.5 L375.8,58.7 L376.0,59.0 L376.2,58.7 L376.3,59.3 L376.5,59.4 L376.7,59.5 L376.9,59.9 L377.0,59.4 L377.2,59.5 L377.4,60.4 L377.6,60.5 L377.7,60.2 L377.9,61.1 L378.1,61.1 L378.2,61.1 L378.4,61.2 L378.6,61.2 L378.8,61.7 L378.9,61.9 L379.1,61.9 L379.3,62.4 L379.5,62.4 L379.6,62.6 L379.8,63.1 L380.0,62.8 L380.1,63.1 L380.3,63.6 L380.5,63.7 L380.7,63.7 L380.8,64.3 L381.0,64.6 L381.2,64.1 L381.4,64.7 L381.5,65.3 L381.7,65.1 L381.9,64.8 L382.0,65.2 L382.2,65.5 L382.4,65.4 L382.6,65.6 L382.7,65.6 L382.9,66.3 L383.1,66.9 L383.3,66.9 L383.4,66.8 L383.6,67.1 L383.8,66.8 L384.0,66.5 L384.1,66.8 L384.3,67.1 L384.5,68.1 L384.6,68.4 L384.8,68.1 L385.0,68.2 L385.2,68.7 L385.3,68.9 L385.5,69.5 L385.7,69.5 L385.9,69.6 L386.0,70.1 L386.2,70.3 L386.4,70.2 L386.5,70.1 L386.7,70.4 L386.9,70.5 L387.1,70.6 L387.2,70.9 L387.4,71.4 L387.6,71.7 L387.8,72.0 L387.9,72.2 L388.1,72.7 L388.3,73.0 L388.4,72.9 L388.6,72.8 L388.8,73.2 L389.0,74.0 L389.1,74.0 L389.3,74.1 L389.5,74.8 L389.7,74.7 L389.8,74.8 L390.0,75.1 L390.2,75.2 L390.3,75.2 L390.5,75.5 L390.7,76.0 L390.9,76.4 L391.0,76.5 L391.2,76.5 L391.4,77.4 L391.6,77.8 L391.7,77.7 L391.9,78.0 L392.1,77.8 L392.3,78.0 L392.4,78.6 L392.6,78.5 L392.8,79.1 L392.9,79.6 L393.1,79.3 L393.3,79.7 L393.5,80.3 L393.6,80.7 L393.8,80.8 L394.0,81.2 L394.2,81.6 L394.3,81.6 L394.5,81.8 L394.7,82.0 L394.8,82.1 L395.0,82.5 L395.2,82.7 L395.4,82.7 L395.5,83.1 L395.7,83.5 L395.9,83.7 L396.1,83.9 L396.2,84.5 L396.4,84.9 L396.6,85.0 L396.7,85.4 L396.9,85.3 L397.1,85.5 L397.3,86.1 L397.4,86.5 L397.6,86.4 L397.8,86.1 L398.0,86.9 L398.1,87.3 L398.3,87.1 L398.5,87.7 L398.6,88.2 L398.8,88.5 L399.0,88.4 L399.2,88.6 L399.3,89.5 L399.5,89.5 L399.7,89.4 L399.9,90.0 L400.0,90.1 L400.2,90.7 L400.4,91.4 L400.6,90.8 L400.7,90.9 L400.9,91.5 L401.1,92.0 L401.2,92.0 L401.4,92.2 L401.6,92.5 L401.8,92.6 L401.9,92.8 L402.1,93.2 L402.3,93.6 L402.5,93.8 L402.6,94.2 L402.8,94.3 L403.0,94.9 L403.1,95.3 L403.3,95.3 L403.5,95.1 L403.7,95.5 L403.8,96.0 L404.0,96.0 L404.2,96.0 L404.4,96.2 L404.5,96.9 L404.7,97.4 L404.9,97.3 L405.0,97.4 L405.2,97.6 L405.4,97.9 L405.6,98.1 L405.7,98.1 L405.9,98.7 L406.1,99.1 L406.3,99.2 L406.4,99.3 L406.6,99.2 L406.8,99.8 L406.9,100.1 L407.1,100.3 L407.3,100.5 L407.5,100.2 L407.6,100.5 L407.8,101.2 L408.0,101.0 L408.2,101.4 L408.3,102.2 L408.5,102.6 L408.7,102.6 L408.9,102.6 L409.0,102.5 L409.2,103.0 L409.4,103.6 L409.5,103.4 L409.7,103.6 L409.9,103.6 L410.1,103.5 L410.2,104.0 L410.4,104.2 L410.6,104.5 L410.8,104.9 L410.9,105.1 L411.1,105.4 L411.3,105.4 L411.4,105.5 L411.6,106.0 L411.8,106.5 L412.0,106.9 L412.1,106.6 L412.3,106.4 L412.5,107.0 L412.7,107.6 L412.8,107.8 L413.0,107.2 L413.2,107.4 L413.3,107.5 L413.5,108.1 L413.7,108.8 L413.9,108.9 L414.0,108.5 L414.2,108.5 L414.4,109.0 L414.6,109.3 L414.7,109.9 L414.9,109.9 L415.1,110.2 L415.2,110.6 L415.4,110.7 L415.6,110.8 L415.8,110.9 L415.9,111.4 L416.1,111.0 L416.3,111.1 L416.5,112.0 L416.6,112.3 L416.8,112.5 L417.0,112.4 L417.2,112.4 L417.3,112.4 L417.5,112.7 L417.7,113.4 L417.8,113.2 L418.0,113.0 L418.2,113.4 L418.4,113.7 L418.5,114.0 L418.7,114.6 L418.9,114.5 L419.1,114.4 L419.2,114.8 L419.4,115.2 L419.6,115.0 L419.7,115.2 L419.9,115.6 L420.1,115.3 L420.3,115.9 L420.4,116.3 L420.6,116.0 L420.8,116.2 L421.0,116.7 L421.1,117.0 L421.3,117.4 L421.5,117.8 L421.6,117.4 L421.8,117.4 L422.0,117.4 L422.2,117.4 L422.3,118.0 L422.5,118.5 L422.7,118.8 L422.9,118.7 L423.0,118.7 L423.2,119.0 L423.4,119.3 L423.5,119.7 L423.7,119.7 L423.9,120.0 L424.1,120.0 L424.2,120.0 L424.4,120.3 L424.6,120.4 L424.8,121.2 L424.9,121.4 L425.1,121.3 L425.3,121.5 L425.5,121.2 L425.6,121.7 L425.8,121.8 L426.0,121.6 L426.1,122.0 L426.3,122.0 L426.5,122.5 L426.7,122.9 L426.8,122.8 L427.0,122.9 L427.2,122.9 L427.4,123.3 L427.5,123.7 L427.7,123.8 L427.9,123.5 L428.0,124.0 L428.2,124.3 L428.4,124.0 L428.6,124.2 L428.7,124.7 L428.9,125.1 L429.1,125.4 L429.3,125.5 L429.4,125.8 L429.6,125.6 L429.8,125.5 L429.9,125.9 L430.1,125.7 L430.3,125.9 L430.5,126.0 L430.6,126.0 L430.8,126.2 L431.0,126.5 L431.2,127.0 L431.3,126.7 L431.5,126.9 L431.7,127.4 L431.8,127.6 L432.0,128.1 L432.2,127.9 L432.4,127.8 L432.5,128.0 L432.7,128.5 L432.9,129.0 L433.1,129.2 L433.2,129.1 L433.4,129.1 L433.6,129.3 L433.8,129.5 L433.9,129.5 L434.1,129.3 L434.3,129.9 L434.4,130.0 L434.6,129.9 L434.8,130.9 L435.0,130.6 L435.1,130.2 L435.3,130.7 L435.5,130.5 L435.7,130.6 L435.8,130.9 L436.0,130.6 L436.2,131.0 L436.3,131.3 L436.5,131.6 L436.7,132.2 L436.9,132.3 L437.0,132.1 L437.2,131.9 L437.4,132.3 L437.6,132.1 L437.7,132.3 L437.9,133.1 L438.1,133.4 L438.2,133.4 L438.4,133.0 L438.6,133.4 L438.8,133.5 L438.9,133.5 L439.1,133.9 L439.3,133.5 L439.5,133.6 L439.6,134.3 L439.8,134.6 L440.0,134.7 L440.1,134.4 L440.3,134.5 L440.5,134.9 L440.7,134.8 L440.8,135.3 L441.0,135.2 L441.2,135.4 L441.4,136.0 L441.5,135.4 L441.7,135.3 L441.9,135.6 L442.0,135.8 L442.2,136.2 L442.4,136.7 L442.6,137.1 L442.7,137.0 L442.9,136.9 L443.1,137.0 L443.3,136.9 L443.4,137.1 L443.6,137.5 L443.8,137.4 L444.0,137.2 L444.1,137.3 L444.3,137.7 L444.5,138.1 L444.6,138.3 L444.8,137.9 L445.0,137.7 L445.2,138.2 L445.3,138.6 L445.5,138.6 L445.7,138.8 L445.9,139.3 L446.0,139.3 L446.2,138.7 L446.4,138.5 L446.5,139.4 L446.7,139.8 L446.9,139.4 L447.1,139.3 L447.2,139.6 L447.4,140.1 L447.6,139.9 L447.8,139.9 L447.9,140.6 L448.1,141.0 L448.3,140.9 L448.4,140.4 L448.6,140.7 L448.8,140.9 L449.0,141.2 L449.1,141.7 L449.3,141.1 L449.5,141.1 L449.7,141.5 L449.8,141.2 L450.0,141.8 L450.2,142.4 L450.3,142.1 L450.5,142.3 L450.7,142.4 L450.9,142.3 L451.0,142.6 L451.2,142.7 L451.4,143.0 L451.6,143.0 L451.7,142.7 L451.9,143.4 L452.1,143.7 L452.3,143.3 L452.4,143.8 L452.6,144.0 L452.8,143.5 L452.9,143.5 L453.1,144.0 L453.3,144.3 L453.5,144.1 L453.6,144.1 L453.8,144.3 L454.0,144.4 L454.2,144.6 L454.3,144.8 L454.5,144.9 L454.7,145.2 L454.8,145.2 L455.0,145.3 L455.2,145.2 L455.4,144.9 L455.5,145.3 L455.7,145.6 L455.9,145.5 L456.1,145.6 L456.2,146.1 L456.4,146.5 L456.6,146.4 L456.7,146.2 L456.9,146.2 L457.1,146.4 L457.3,146.5 L457.4,146.9 L457.6,147.0 L457.8,146.8 L458.0,147.4 L458.1,147.9 L458.3,147.4 L458.5,147.1 L458.6,147.5 L458.8,147.7 L459.0,147.8 L459.2,147.9 L459.3,147.7 L459.5,147.7 L459.7,148.0 L459.9,148.2 L460.0,148.3 L460.2,147.8 L460.4,147.9 L460.6,148.9 L460.7,149.0 L460.9,149.2 L461.1,149.4 L461.2,148.7 L461.4,148.8 L461.6,149.3 L461.8,149.6 L461.9,149.7 L462.1,149.9 L462.3,149.9 L462.5,149.9 L462.6,149.5 L462.8,149.9 L463.0,150.6 L463.1,150.5 L463.3,150.0 L463.5,150.0 L463.7,150.7 L463.8,150.8 L464.0,150.5 L464.2,150.4 L464.4,150.9 L464.5,151.5 L464.7,151.2 L464.9,151.3 L465.0,151.6 L465.2,151.9 L465.4,152.0 L465.6,151.2 L465.7,151.1 L465.9,151.8 L466.1,152.0 L466.3,151.3 L466.4,152.0 L466.6,152.4 L466.8,151.8 L466.9,152.3 L467.1,152.3 L467.3,152.5 L467.5,153.4 L467.6,153.3 L467.8,152.8 L468.0,152.6 L468.2,152.6 L468.3,153.5 L468.5,153.8 L468.7,153.4 L468.9,153.3 L469.0,153.1 L469.2,153.5 L469.4,153.7 L469.5,153.7 L469.7,153.7 L469.9,153.6 L470.1,153.8 L470.2,153.6 L470.4,153.7 L470.6,154.4 L470.8,154.3 L470.9,154.1 L471.1,154.3 L471.3,154.7 L471.4,155.0 L471.6,154.3 L471.8,154.5 L472.0,155.4 L472.1,155.7 L472.3,155.8 L472.5,155.8 L472.7,155.7 L472.8,155.6 L473.0,155.4 L473.2,155.6 L473.3,156.1 L473.5,156.5 L473.7,156.2 L473.9,155.8 L474.0,156.2 L474.2,156.6 L474.4,156.1 L474.6,156.2 L474.7,156.5 L474.9,156.3 L475.1,156.1 L475.2,156.2 L475.4,156.7 L475.6,157.1 L475.8,157.1 L475.9,157.2 L476.1,157.1 L476.3,157.1 L476.5,157.2 L476.6,156.9 L476.8,157.0 L477.0,157.4 L477.2,157.4 L477.3,157.4 L477.5,157.6 L477.7,157.7 L477.8,157.8 L478.0,158.1 L478.2,158.5 L478.4,158.6 L478.5,158.4 L478.7,158.0 L478.9,158.1 L479.1,158.4 L479.2,158.2 L479.4,158.5 L479.6,158.8 L479.7,158.8 L479.9,159.2 L480.1,159.3 L480.3,158.9 L480.4,159.1 L480.6,159.4 L480.8,159.3 L481.0,159.3 L481.1,159.3 L481.3,159.0 L481.5,159.1 L481.6,159.7 L481.8,159.7 L482.0,159.1 L482.2,159.2 L482.3,159.8 L482.5,160.2 L482.7,160.2 L482.9,160.2 L483.0,160.4 L483.2,160.7 L483.4,160.8 L483.5,160.3 L483.7,160.6 L483.9,161.1 L484.1,160.6 L484.2,160.1 L484.4,160.3 L484.6,161.1 L484.8,161.5 L484.9,160.7 L485.1,160.5 L485.3,161.2 L485.5,161.2 L485.6,161.4 L485.8,161.1 L486.0,161.0 L486.1,161.6 L486.3,161.7 L486.5,161.6 L486.7,161.8 L486.8,161.7 L487.0,161.7 L487.2,161.9 L487.4,162.0 L487.5,162.6 L487.7,162.4 L487.9,161.9 L488.0,162.1 L488.2,162.1 L488.4,162.0 L488.6,162.6 L488.7,162.6 L488.9,162.6 L489.1,162.9 L489.3,162.2 L489.4,161.7 L489.6,162.5 L489.8,163.2 L489.9,163.2 L490.1,163.1 L490.3,162.9 L490.5,163.0 L490.6,163.2 L490.8,163.5 L491.0,164.0 L491.2,163.9 L491.3,163.1 L491.5,163.1 L491.7,163.9 L491.8,163.9 L492.0,164.1 L492.2,164.1 L492.4,163.4 L492.5,163.9 L492.7,164.2 L492.9,163.8 L493.1,163.9 L493.2,164.0 L493.4,164.0 L493.6,164.2 L493.8,164.2 L493.9,164.7 L494.1,164.6 L494.3,164.5 L494.4,165.0 L494.6,164.9 L494.8,164.5 L495.0,164.8 L495.1,165.4 L495.3,165.2 L495.5,164.9 L495.7,165.0 L495.8,165.2 L496.0,165.4 L496.2,165.4 L496.3,165.6 L496.5,165.8 L496.7,165.6 L496.9,165.9 L497.0,166.2 L497.2,166.4 L497.4,166.1 L497.6,166.2 L497.7,166.3 L497.9,165.9 L498.1,166.0 L498.2,165.7 L498.4,166.0 L498.6,166.6 L498.8,166.3 L498.9,166.1 L499.1,166.7 L499.3,166.8 L499.5,166.5 L499.6,166.7 L499.8,166.8 L500.0,166.5 L500.1,166.5 L500.3,166.4 L500.5,166.4 L500.7,166.8 L500.8,167.0 L501.0,167.0 L501.2,166.7 L501.4,166.8 L501.5,167.5 L501.7,167.5 L501.9,167.2 L502.1,167.5 L502.2,167.6 L502.4,167.6 L502.6,167.7 L502.7,167.3 L502.9,167.4 L503.1,168.0 L503.3,168.5 L503.4,168.0 L503.6,167.9 L503.8,168.5 L504.0,168.0 L504.1,167.8 L504.3,168.1 L504.5,168.5 L504.6,168.6 L504.8,167.9 L505.0,167.9 L505.2,168.5 L505.3,168.6 L505.5,168.8 L505.7,169.2 L505.9,169.2 L506.0,169.0 L506.2,169.0 L506.4,169.1 L506.5,169.0 L506.7,169.1 L506.9,169.3 L507.1,169.4 L507.2,169.8 L507.4,169.6 L507.6,169.3 L507.8,169.7 L507.9,169.7 L508.1,170.1 L508.3,170.3 L508.4,170.2 L508.6,170.4 L508.8,170.2 L509.0,169.9 L509.1,169.6 L509.3,169.7 L509.5,170.0 L509.7,170.3 L509.8,170.7 L510.0,170.4 L510.2,169.9 L510.4,170.5 L510.5,171.2 L510.7,171.1 L510.9,170.9 L511.0,171.3 L511.2,171.3 L511.4,170.9 L511.6,171.3 L511.7,171.6 L511.9,171.3 L512.1,171.4 L512.3,171.6 L512.4,171.5 L512.6,171.8 L512.8,171.3 L512.9,171.4 L513.1,171.7 L513.3,171.6 L513.5,171.6 L513.6,171.8 L513.8,171.8 L514.0,171.7 L514.2,171.8 L514.3,172.3 L514.5,172.5 L514.7,172.1 L514.8,172.6 L515.0,172.9 L515.2,172.5 L515.4,172.3 L515.5,172.4 L515.7,173.0 L515.9,173.0 L516.1,172.6 L516.2,172.6 L516.4,173.1 L516.6,173.6 L516.7,173.6 L516.9,173.6 L517.1,173.3 L517.3,173.3 L517.4,173.2 L517.6,173.3 L517.8,173.3 L518.0,172.8 L518.1,173.3 L518.3,173.8 L518.5,174.0 L518.7,173.9 L518.8,174.2 L519.0,174.2 L519.2,174.0 L519.3,174.6 L519.5,174.4 L519.7,174.2 L519.9,174.5 L520.0,174.9 L520.2,174.6 L520.4,174.9 L520.6,175.8 L520.7,175.5 L520.9,175.3 L521.1,175.9 L521.2,175.7 L521.4,175.8 L521.6,176.0 L521.8,175.9 L521.9,176.0 L522.1,175.8 L522.3,175.4 L522.5,175.5 L522.6,175.8 L522.8,176.5 L523.0,176.1 L523.1,175.9 L523.3,176.3 L523.5,176.4 L523.7,177.0 L523.8,176.8 L524.0,176.7 L524.2,177.2 L524.4,177.1 L524.5,176.6 L524.7,176.7 L524.9,177.3 L525.0,177.4 L525.2,177.1 L525.4,177.5 L525.6,177.7 L525.7,177.3 L525.9,177.1 L526.1,177.3 L526.3,177.9 L526.4,178.2 L526.6,178.2 L526.8,178.1 L527.0,178.1 L527.1,178.7 L527.3,178.8 L527.5,178.6 L527.6,178.8 L527.8,178.7 L528.0,178.5 L528.2,178.5 L528.3,178.9 L528.5,179.5 L528.7,179.6 L528.9,179.7 L529.0,179.4 L529.2,179.3 L529.4,180.0 L529.5,180.3 L529.7,180.4 L529.9,180.6 L530.1,180.8 L530.2,180.6 L530.4,179.9 L530.6,179.8 L530.8,180.0 L530.9,180.4 L531.1,180.6" stroke="#7c0ef4" stroke-width="1.4"/>
<path d="M81.7,214.9 L81.9,214.9 L82.0,215.4 L82.2,215.5 L82.4,215.8 L82.6,215.7 L82.7,215.0 L82.9,215.2 L83.1,215.5 L83.3,215.8 L83.4,216.0 L83.6,215.7 L83.8,215.2 L83.9,215.4 L84.1,216.0 L84.3,216.2 L84.5,215.9 L84.6,216.1 L84.8,215.7 L85.0,215.7 L85.2,216.5 L85.3,216.7 L85.5,216.2 L85.7,216.2 L85.8,216.8 L86.0,216.8 L86.2,216.9 L86.4,216.9 L86.5,216.5 L86.7,216.7 L86.9,217.0 L87.1,216.8 L87.2,216.5 L87.4,216.6 L87.6,217.1 L87.8,217.4 L87.9,217.0 L88.1,216.6 L88.3,216.7 L88.4,216.8 L88.6,216.9 L88.8,217.6 L89.0,217.8 L89.1,217.6 L89.3,217.3 L89.5,217.6 L89.7,218.0 L89.8,218.0 L90.0,217.9 L90.2,217.7 L90.3,218.1 L90.5,218.2 L90.7,217.8 L90.9,218.1 L91.0,218.2 L91.2,218.5 L91.4,218.8 L91.6,218.6 L91.7,217.9 L91.9,218.2 L92.1,219.4 L92.2,219.2 L92.4,218.1 L92.6,218.3 L92.8,219.0 L92.9,218.8 L93.1,218.6 L93.3,219.1 L93.5,219.1 L93.6,219.2 L93.8,219.6 L94.0,219.5 L94.1,219.2 L94.3,219.1 L94.5,219.7 L94.7,219.5 L94.8,218.9 L95.0,219.3 L95.2,219.9 L95.4,219.5 L95.5,219.4 L95.7,219.7 L95.9,219.6 L96.1,219.4 L96.2,219.2 L96.4,219.5 L96.6,220.1 L96.7,220.1 L96.9,219.9 L97.1,220.2 L97.3,220.3 L97.4,220.5 L97.6,220.8 L97.8,220.6 L98.0,220.1 L98.1,220.2 L98.3,220.5 L98.5,220.2 L98.6,220.4 L98.8,220.8 L99.0,220.6 L99.2,220.5 L99.3,220.5 L99.5,220.9 L99.7,221.2 L99.9,221.2 L100.0,221.0 L100.2,220.8 L100.4,221.2 L100.5,221.4 L100.7,221.1 L100.9,220.9 L101.1,221.0 L101.2,221.5 L101.4,222.2 L101.6,222.6 L101.8,222.3 L101.9,222.3 L102.1,222.4 L102.3,221.9 L102.4,221.6 L102.6,222.6 L102.8,222.6 L103.0,222.0 L103.1,222.1 L103.3,222.6 L103.5,223.2 L103.7,222.8 L103.8,222.3 L104.0,222.7 L104.2,222.6 L104.4,222.2 L104.5,222.7 L104.7,223.8 L104.9,223.9 L105.0,222.8 L105.2,223.2 L105.4,223.5 L105.6,223.2 L105.7,223.3 L105.9,223.5 L106.1,223.8 L106.3,223.6 L106.4,223.5 L106.6,223.7 L106.8,223.9 L106.9,224.0 L107.1,224.1 L107.3,224.1 L107.5,224.4 L107.6,224.5 L107.8,223.8 L108.0,223.7 L108.2,224.3 L108.3,224.6 L108.5,224.5 L108.7,225.1 L108.8,225.1 L109.0,224.5 L109.2,225.0 L109.4,225.3 L109.5,225.3 L109.7,225.2 L109.9,225.7 L110.1,225.7 L110.2,225.1 L110.4,225.0 L110.6,225.2 L110.7,225.3 L110.9,225.5 L111.1,225.5 L111.3,226.0 L111.4,226.5 L111.6,226.0 L111.8,225.6 L112.0,226.3 L112.1,226.4 L112.3,226.3 L112.5,226.5 L112.7,226.8 L112.8,226.9 L113.0,226.3 L113.2,226.3 L113.3,226.8 L113.5,227.3 L113.7,227.5 L113.9,227.0 L114.0,227.1 L114.2,227.0 L114.4,226.7 L114.6,227.4 L114.7,228.1 L114.9,227.9 L115.1,228.1 L115.2,228.5 L115.4,228.4 L115.6,228.1 L115.8,227.9 L115.9,227.8 L116.1,227.7 L116.3,228.0 L116.5,228.2 L116.6,228.3 L116.8,228.6 L117.0,228.9 L117.1,228.6 L117.3,228.3 L117.5,228.6 L117.7,228.9 L117.8,229.2 L118.0,228.5 L118.2,228.7 L118.4,229.5 L118.5,229.7 L118.7,230.0 L118.9,230.0 L119.0,229.9 L119.2,229.9 L119.4,230.1 L119.6,230.4 L119.7,230.4 L119.9,230.3 L120.1,230.4 L120.3,230.4 L120.4,230.5 L120.6,230.5 L120.8,230.4 L121.0,230.4 L121.1,230.5 L121.3,230.4 L121.5,230.8 L121.6,231.2 L121.8,231.0 L122.0,230.7 L122.2,231.1 L122.3,231.4 L122.5,231.5 L122.7,231.9 L122.9,232.0 L123.0,231.7 L123.2,231.5 L123.4,232.2 L123.5,232.4 L123.7,232.4 L123.9,233.3 L124.1,232.7 L124.2,232.4 L124.4,232.5 L124.6,232.2 L124.8,232.5 L124.9,232.7 L125.1,232.5 L125.3,232.9 L125.4,233.3 L125.6,233.5 L125.8,233.6 L126.0,233.4 L126.1,233.3 L126.3,233.4 L126.5,233.8 L126.7,234.3 L126.8,234.4 L127.0,234.1 L127.2,234.1 L127.3,233.8 L127.5,234.2 L127.7,234.8 L127.9,234.8 L128.0,234.4 L128.2,234.6 L128.4,235.3 L128.6,235.2 L128.7,234.9 L128.9,235.4 L129.1,236.0 L129.3,235.5 L129.4,235.0 L129.6,235.3 L129.8,235.7 L129.9,235.8 L130.1,235.7 L130.3,235.8 L130.5,236.3 L130.6,236.5 L130.8,236.1 L131.0,236.2 L131.2,237.0 L131.3,237.2 L131.5,237.1 L131.7,237.1 L131.8,237.3 L132.0,237.8 L132.2,237.7 L132.4,237.3 L132.5,237.5 L132.7,237.7 L132.9,237.4 L133.1,237.4 L133.2,237.8 L133.4,238.4 L133.6,238.5 L133.7,238.7 L133.9,239.4 L134.1,239.0 L134.3,238.6 L134.4,239.5 L134.6,238.9 L134.8,238.2 L135.0,238.7 L135.1,238.6 L135.3,238.7 L135.5,239.1 L135.6,240.1 L135.8,240.5 L136.0,240.0 L136.2,240.0 L136.3,239.9 L136.5,240.3 L136.7,240.6 L136.9,240.9 L137.0,241.0 L137.2,240.5 L137.4,240.4 L137.6,241.1 L137.7,241.6 L137.9,241.7 L138.1,242.0 L138.2,241.9 L138.4,242.0 L138.6,242.3 L138.8,242.3 L138.9,242.2 L139.1,242.2 L139.3,242.0 L139.5,242.1 L139.6,242.7 L139.8,242.9 L140.0,242.7 L140.1,242.7 L140.3,243.6 L140.5,244.1 L140.7,243.9 L140.8,243.7 L141.0,243.7 L141.2,243.9 L141.4,243.8 L141.5,243.9 L141.7,243.8 L141.9,244.3 L142.0,244.5 L142.2,244.7 L142.4,245.4 L142.6,245.2 L142.7,245.0 L142.9,245.2 L143.1,245.2 L143.3,245.4 L143.4,245.8 L143.6,246.2 L143.8,246.4 L143.9,246.4 L144.1,246.6 L144.3,246.6 L144.5,246.6 L144.6,246.7 L144.8,246.8 L145.0,246.8 L145.2,247.3 L145.3,248.3 L145.5,247.9 L145.7,247.8 L145.9,247.8 L146.0,247.2 L146.2,247.7 L146.4,248.6 L146.5,248.8 L146.7,248.7 L146.9,248.6 L147.1,248.2 L147.2,249.0 L147.4,249.6 L147.6,249.5 L147.8,249.8 L147.9,249.7 L148.1,249.8 L148.3,249.8 L148.4,250.2 L148.6,250.4 L148.8,250.4 L149.0,250.9 L149.1,250.9 L149.3,251.0 L149.5,251.5 L149.7,251.2 L149.8,251.0 L150.0,251.4 L150.2,251.9 L150.3,252.0 L150.5,252.0 L150.7,251.9 L150.9,251.9 L151.0,252.7 L151.2,253.2 L151.4,253.3 L151.6,253.3 L151.7,253.2 L151.9,253.2 L152.1,253.2 L152.2,253.5 L152.4,254.4 L152.6,254.7 L152.8,254.4 L152.9,254.6 L153.1,254.5 L153.3,254.7 L153.5,255.0 L153.6,255.2 L153.8,255.3 L154.0,255.4 L154.2,255.8 L154.3,256.3 L154.5,256.9 L154.7,256.5 L154.8,256.6 L155.0,257.1 L155.2,257.0 L155.4,257.1 L155.5,257.4 L155.7,257.6 L155.9,257.5 L156.1,258.0 L156.2,258.5 L156.4,258.1 L156.6,258.3 L156.7,259.1 L156.9,259.0 L157.1,259.0 L157.3,259.3 L157.4,259.3 L157.6,259.6 L157.8,259.6 L158.0,259.8 L158.1,260.4 L158.3,260.8 L158.5,260.6 L158.6,260.9 L158.8,261.5 L159.0,261.3 L159.2,261.3 L159.3,261.4 L159.5,262.1 L159.7,262.4 L159.9,262.2 L160.0,261.8 L160.2,262.0 L160.4,262.9 L160.5,262.8 L160.7,262.9 L160.9,263.2 L161.1,263.2 L161.2,263.2 L161.4,263.3 L161.6,263.8 L161.8,263.6 L161.9,263.8 L162.1,264.4 L162.3,264.8 L162.5,265.0 L162.6,265.3 L162.8,265.5 L163.0,265.7 L163.1,265.7 L163.3,266.0 L163.5,266.3 L163.7,266.8 L163.8,267.6 L164.0,267.0 L164.2,266.7 L164.4,267.2 L164.5,267.8 L164.7,267.7 L164.9,267.7 L165.0,268.2 L165.2,268.3 L165.4,268.6 L165.6,269.0 L165.7,268.6 L165.9,268.6 L166.1,269.4 L166.3,269.6 L166.4,269.5 L166.6,269.7 L166.8,270.6 L166.9,270.9 L167.1,270.6 L167.3,270.6 L167.5,270.8 L167.6,270.9 L167.8,271.4 L168.0,272.0 L168.2,272.2 L168.3,272.2 L168.5,272.1 L168.7,272.4 L168.8,272.6 L169.0,272.7 L169.2,273.2 L169.4,273.7 L169.5,273.8 L169.7,273.8 L169.9,274.1 L170.1,274.0 L170.2,274.6 L170.4,275.0 L170.6,274.7 L170.8,274.7 L170.9,274.9 L171.1,275.1 L171.3,275.7 L171.4,276.5 L171.6,276.8 L171.8,276.6 L172.0,276.8 L172.1,277.2 L172.3,276.7 L172.5,276.8 L172.7,277.1 L172.8,277.0 L173.0,277.6 L173.2,278.4 L173.3,279.1 L173.5,278.8 L173.7,278.4 L173.9,279.0 L174.0,279.5 L174.2,279.3 L174.4,279.6 L174.6,280.1 L174.7,280.1 L174.9,280.2 L175.1,280.5 L175.2,280.7 L175.4,281.0 L175.6,281.2 L175.8,281.5 L175.9,281.6 L176.1,282.0 L176.3,282.5 L176.5,282.7 L176.6,282.7 L176.8,282.6 L177.0,283.1 L177.1,283.6 L177.3,283.5 L177.5,283.6 L177.7,284.3 L177.8,284.4 L178.0,284.6 L178.2,285.3 L178.4,285.1 L178.5,285.0 L178.7,285.1 L178.9,284.9 L179.0,285.0 L179.2,286.2 L179.4,286.8 L179.6,286.4 L179.7,286.8 L179.9,287.3 L180.1,287.3 L180.3,287.2 L180.4,287.6 L180.6,288.1 L180.8,288.1 L181.0,288.1 L181.1,288.6 L181.3,289.0 L181.5,289.4 L181.6,289.6 L181.8,290.0 L182.0,290.4 L182.2,290.9 L182.3,291.4 L182.5,290.8 L182.7,290.6 L182.9,291.2 L183.0,291.4 L183.2,291.4 L183.4,291.4 L183.5,292.0 L183.7,292.9 L183.9,293.1 L184.1,292.6 L184.2,292.7 L184.4,293.8 L184.6,294.1 L184.8,294.2 L184.9,294.8 L185.1,294.9 L185.3,294.7 L185.4,294.8 L185.6,295.2 L185.8,295.7 L186.0,295.9 L186.1,296.0 L186.3,296.0 L186.5,295.9 L186.7,296.9 L186.8,297.9 L187.0,297.6 L187.2,297.4 L187.3,298.1 L187.5,298.3 L187.7,298.2 L187.9,299.0 L188.0,300.1 L188.2,300.0 L188.4,299.9 L188.6,300.5 L188.7,300.4 L188.9,300.2 L189.1,300.8 L189.3,301.3 L189.4,301.4 L189.6,302.1 L189.8,302.2 L189.9,302.4 L190.1,303.0 L190.3,303.1 L190.5,303.4 L190.6,303.7 L190.8,304.0 L191.0,304.5 L191.2,304.7 L191.3,304.9 L191.5,305.5 L191.7,305.8 L191.8,306.1 L192.0,306.7 L192.2,307.1 L192.4,307.2 L192.5,306.7 L192.7,306.8 L192.9,307.7 L193.1,308.0 L193.2,308.5 L193.4,309.3 L193.6,309.5 L193.7,309.4 L193.9,309.3 L194.1,309.1 L194.3,310.1 L194.4,311.2 L194.6,311.3 L194.8,311.2 L195.0,311.3 L195.1,311.9 L195.3,312.5 L195.5,312.6 L195.6,312.9 L195.8,313.3 L196.0,313.7 L196.2,314.0 L196.3,313.9 L196.5,314.4 L196.7,314.9 L196.9,315.1 L197.0,315.6 L197.2,315.7 L197.4,316.2 L197.6,316.2 L197.7,316.4 L197.9,316.7 L198.1,316.7 L198.2,317.6 L198.4,318.5 L198.6,318.8 L198.8,318.7 L198.9,318.2 L199.1,318.1 L199.3,318.5 L199.5,319.1 L199.6,319.3 L199.8,319.5 L200.0,319.7 L200.1,320.2 L200.3,320.9 L200.5,320.9 L200.7,321.2 L200.8,321.7 L201.0,321.5 L201.2,321.8 L201.4,322.7 L201.5,322.8 L201.7,322.9 L201.9,323.2 L202.0,323.2 L202.2,322.9 L202.4,323.4 L202.6,323.8 L202.7,324.0 L202.9,324.0 L203.1,323.9 L203.3,324.5 L203.4,325.3 L203.6,325.4 L203.8,325.4 L203.9,325.4 L204.1,326.2 L204.3,326.9 L204.5,326.6 L204.6,326.7 L204.8,327.0 L205.0,327.5 L205.2,327.6 L205.3,327.3 L205.5,327.8 L205.7,328.3 L205.9,328.7 L206.0,328.7 L206.2,329.4 L206.4,329.7 L206.5,329.5 L206.7,329.5 L206.9,330.3 L207.1,330.8 L207.2,330.7 L207.4,331.5 L207.6,331.6 L207.8,331.6 L207.9,332.2 L208.1,332.6 L208.3,332.5 L208.4,333.0 L208.6,333.5 L208.8,333.3 L209.0,333.9 L209.1,333.8 L209.3,333.7 L209.5,334.4 L209.7,334.9 L209.8,335.3 L210.0,335.6 L210.2,336.3 L210.3,336.4 L210.5,336.0 L210.7,335.5 L210.9,336.6 L211.0,337.4 L211.2,337.0 L211.4,337.3 L211.6,337.7 L211.7,338.4 L211.9,338.6 L212.1,338.9 L212.2,339.4 L212.4,339.5 L212.6,339.5 L212.8,339.9 L212.9,340.0 L213.1,339.7 L213.3,340.4 L213.5,340.9 L213.6,340.5 L213.8,340.9 L214.0,341.5 L214.2,341.9 L214.3,342.4 L214.5,342.5 L214.7,342.0 L214.8,342.1 L215.0,342.7 L215.2,342.7 L215.4,343.2 L215.5,343.8 L215.7,343.6 L215.9,344.2 L216.1,344.7 L216.2,344.7 L216.4,344.8 L216.6,345.1 L216.7,345.4 L216.9,345.2 L217.1,345.6 L217.3,346.2 L217.4,346.3 L217.6,346.5 L217.8,346.4 L218.0,346.1 L218.1,346.9 L218.3,347.1 L218.5,346.9 L218.6,347.1 L218.8,347.2 L219.0,347.5 L219.2,348.0 L219.3,348.3 L219.5,348.5 L219.7,348.8 L219.9,348.5 L220.0,348.6 L220.2,349.2 L220.4,349.6 L220.5,349.2 L220.7,349.1 L220.9,349.9 L221.1,350.5 L221.2,350.6 L221.4,350.8 L221.6,350.6 L221.8,350.6 L221.9,350.9 L222.1,351.3 L222.3,351.5 L222.5,351.6 L222.6,352.0 L222.8,352.2 L223.0,352.4 L223.1,352.5 L223.3,352.0 L223.5,352.4 L223.7,353.2 L223.8,352.9 L224.0,352.7 L224.2,352.4 L224.4,353.2 L224.5,353.9 L224.7,353.4 L224.9,353.5 L225.0,353.5 L225.2,353.7 L225.4,354.3 L225.6,354.5 L225.7,354.3 L225.9,354.4 L226.1,354.7 L226.3,354.8 L226.4,354.9 L226.6,355.3 L226.8,354.9 L226.9,354.7 L227.1,355.0 L227.3,355.4 L227.5,356.1 L227.6,356.2 L227.8,355.8 L228.0,355.9 L228.2,356.1 L228.3,356.2 L228.5,356.3 L228.7,356.3 L228.8,356.5 L229.0,357.1 L229.2,357.1 L229.4,357.0 L229.5,356.5 L229.7,356.8 L229.9,358.1 L230.1,358.0 L230.2,357.0 L230.4,356.8 L230.6,356.9 L230.8,357.2 L230.9,357.7 L231.1,357.8 L231.3,357.7 L231.4,357.7 L231.6,358.2 L231.8,358.5 L232.0,358.0 L232.1,357.8 L232.3,358.6 L232.5,358.9 L232.7,358.3 L232.8,358.7 L233.0,358.9 L233.2,358.6 L233.3,358.6 L233.5,359.0 L233.7,358.9 L233.9,358.0 L234.0,358.3 L234.2,359.1 L234.4,359.0 L234.6,359.0 L234.7,359.1 L234.9,359.5 L235.1,359.2 L235.2,359.0 L235.4,359.3 L235.6,359.5 L235.8,359.2 L235.9,359.2 L236.1,359.5 L236.3,359.0 L236.5,359.2 L236.6,358.9 L236.8,359.0 L237.0,359.5 L237.1,359.2 L237.3,359.1 L237.5,359.5 L237.7,359.8 L237.8,359.4 L238.0,359.3 L238.2,359.9 L238.4,359.6 L238.5,359.0 L238.7,359.1 L238.9,358.7 L239.1,358.3 L239.2,358.7 L239.4,358.8 L239.6,358.3 L239.7,358.6 L239.9,359.1 L240.1,358.7 L240.3,358.6 L240.4,358.6 L240.6,358.5 L240.8,358.4 L241.0,358.5 L241.1,358.6 L241.3,358.1 L241.5,358.4 L241.6,358.4 L241.8,358.3 L242.0,358.7 L242.2,358.5 L242.3,358.5 L242.5,357.9 L242.7,357.6 L242.9,358.5 L243.0,358.4 L243.2,357.8 L243.4,357.7 L243.5,357.9 L243.7,358.0 L243.9,357.8 L244.1,357.4 L244.2,357.6 L244.4,357.0 L244.6,356.8 L244.8,357.2 L244.9,357.1 L245.1,356.8 L245.3,356.3 L245.4,356.4 L245.6,356.8 L245.8,356.2 L246.0,356.1 L246.1,356.4 L246.3,355.8 L246.5,355.5 L246.7,355.8 L246.8,355.6 L247.0,355.5 L247.2,355.4 L247.4,355.5 L247.5,355.8 L247.7,355.2 L247.9,355.0 L248.0,355.2 L248.2,354.8 L248.4,354.2 L248.6,353.9 L248.7,353.8 L248.9,354.2 L249.1,354.3 L249.3,353.9 L249.4,353.6 L249.6,353.4 L249.8,353.2 L249.9,353.3 L250.1,353.4 L250.3,353.3 L250.5,353.1 L250.6,352.8 L250.8,352.8 L251.0,352.7 L251.2,352.5 L251.3,352.2 L251.5,351.8 L251.7,351.7 L251.8,351.3 L252.0,351.3 L252.2,351.4 L252.4,350.7 L252.5,350.5 L252.7,350.3 L252.9,350.0 L253.1,349.8 L253.2,349.6 L253.4,349.3 L253.6,348.4 L253.7,348.7 L253.9,348.9 L254.1,349.0 L254.3,348.9 L254.4,347.8 L254.6,347.9 L254.8,347.9 L255.0,347.7 L255.1,347.7 L255.3,347.6 L255.5,346.9 L255.7,346.7 L255.8,346.5 L256.0,346.3 L256.2,346.4 L256.3,345.9 L256.5,345.3 L256.7,344.7 L256.9,344.2 L257.0,344.4 L257.2,344.0 L257.4,343.9 L257.6,344.0 L257.7,343.8 L257.9,343.5 L258.1,343.0 L258.2,342.9 L258.4,342.8 L258.6,342.6 L258.8,342.5 L258.9,341.9 L259.1,341.4 L259.3,341.0 L259.5,340.2 L259.6,340.2 L259.8,339.9 L260.0,339.6 L260.1,339.3 L260.3,338.7 L260.5,338.8 L260.7,338.4 L260.8,337.8 L261.0,338.0 L261.2,337.8 L261.4,336.9 L261.5,336.4 L261.7,336.1 L261.9,336.1 L262.0,335.9 L262.2,335.2 L262.4,334.7 L262.6,334.6 L262.7,334.2 L262.9,334.2 L263.1,333.8 L263.3,333.1 L263.4,333.0 L263.6,332.7 L263.8,332.3 L263.9,331.7 L264.1,331.5 L264.3,331.3 L264.5,330.7 L264.6,330.6 L264.8,330.5 L265.0,329.8 L265.2,329.3 L265.3,328.9 L265.5,328.5 L265.7,328.0 L265.9,328.0 L266.0,327.9 L266.2,327.3 L266.4,326.4 L266.5,325.9 L266.7,325.8 L266.9,325.1 L267.1,325.1 L267.2,324.6 L267.4,323.6 L267.6,323.2 L267.8,323.0 L267.9,322.6 L268.1,322.3 L268.3,321.9 L268.4,321.6 L268.6,321.1 L268.8,320.4 L269.0,319.9 L269.1,319.2 L269.3,318.6 L269.5,318.3 L269.7,317.8 L269.8,317.9 L270.0,317.5 L270.2,317.0 L270.3,316.7 L270.5,315.4 L270.7,315.1 L270.9,315.2 L271.0,314.4 L271.2,313.9 L271.4,313.2 L271.6,312.4 L271.7,312.4 L271.9,312.4 L272.1,312.1 L272.2,311.1 L272.4,310.2 L272.6,309.7 L272.8,308.8 L272.9,308.3 L273.1,307.7 L273.3,307.0 L273.5,306.3 L273.6,305.7 L273.8,305.3 L274.0,305.2 L274.2,304.3 L274.3,303.8 L274.5,303.6 L274.7,302.8 L274.8,302.1 L275.0,301.8 L275.2,301.2 L275.4,300.3 L275.5,300.1 L275.7,300.0 L275.9,298.5 L276.1,297.8 L276.2,297.9 L276.4,296.3 L276.6,296.0 L276.7,296.3 L276.9,295.3 L277.1,294.1 L277.3,293.3 L277.4,292.9 L277.6,292.3 L277.8,291.8 L278.0,291.6 L278.1,290.7 L278.3,289.9 L278.5,289.5 L278.6,288.8 L278.8,288.2 L279.0,288.4 L279.2,287.9 L279.3,286.3 L279.5,285.7 L279.7,285.2 L279.9,284.3 L280.0,284.0 L280.2,283.3 L280.4,282.3 L280.5,281.7 L280.7,281.2 L280.9,280.4 L281.1,279.9 L281.2,279.8 L281.4,278.7 L281.6,277.9 L281.8,277.4 L281.9,276.9 L282.1,276.0 L282.3,275.1 L282.5,274.9 L282.6,274.7 L282.8,274.1 L283.0,272.7 L283.1,271.8 L283.3,271.8 L283.5,271.5 L283.7,270.7 L283.8,269.9 L284.0,269.2 L284.2,268.8 L284.4,268.4 L284.5,267.2 L284.7,266.3 L284.9,265.9 L285.0,265.2 L285.2,264.6 L285.4,263.7 L285.6,263.3 L285.7,262.8 L285.9,261.8 L286.1,261.5 L286.3,260.9 L286.4,259.7 L286.6,259.1 L286.8,258.8 L286.9,258.2 L287.1,257.5 L287.3,256.4 L287.5,256.2 L287.6,256.1 L287.8,255.0 L288.0,254.1 L288.2,253.4 L288.3,252.6 L288.5,251.8 L288.7,250.8 L288.8,250.7 L289.0,250.2 L289.2,249.0 L289.4,248.8 L289.5,247.8 L289.7,247.2 L289.9,246.9 L290.1,246.0 L290.2,245.1 L290.4,244.3 L290.6,243.9 L290.8,243.6 L290.9,242.7 L291.1,241.3 L291.3,240.6 L291.4,240.2 L291.6,239.6 L291.8,239.2 L292.0,238.7 L292.1,238.0 L292.3,237.5 L292.5,236.4 L292.7,235.2 L292.8,234.7 L293.0,234.5 L293.2,234.1 L293.3,233.2 L293.5,232.8 L293.7,232.1 L293.9,231.3 L294.0,230.6 L294.2,229.6 L294.4,228.7 L294.6,227.6 L294.7,227.4 L294.9,226.9 L295.1,226.4 L295.2,225.8 L295.4,224.6 L295.6,223.9 L295.8,223.5 L295.9,223.3 L296.1,222.9 L296.3,222.0 L296.5,221.2 L296.6,220.3 L296.8,219.7 L297.0,219.3 L297.1,218.6 L297.3,217.9 L297.5,217.0 L297.7,216.2 L297.8,215.6 L298.0,214.8 L298.2,214.8 L298.4,214.5 L298.5,213.3 L298.7,212.3 L298.9,211.7 L299.1,211.1 L299.2,210.1 L299.4,209.6 L299.6,209.2 L299.7,208.1 L299.9,207.4 L300.1,206.9 L300.3,206.3 L300.4,205.8 L300.6,205.0 L300.8,204.2 L301.0,203.5 L301.1,202.7 L301.3,201.8 L301.5,200.8 L301.6,200.4 L301.8,200.0 L302.0,199.2 L302.2,198.4 L302.3,197.4 L302.5,197.1 L302.7,196.6 L302.9,196.2 L303.0,196.1 L303.2,194.8 L303.4,194.0 L303.5,193.3 L303.7,192.3 L303.9,191.6 L304.1,191.3 L304.2,191.0 L304.4,190.2 L304.6,189.3 L304.8,188.8 L304.9,188.6 L305.1,188.5 L305.3,186.9 L305.4,185.6 L305.6,185.2 L305.8,184.3 L306.0,183.8 L306.1,183.3 L306.3,182.6 L306.5,181.8 L306.7,181.1 L306.8,180.8 L307.0,180.3 L307.2,179.9 L307.4,179.0 L307.5,177.8 L307.7,176.7 L307.9,176.0 L308.0,175.8 L308.2,175.2 L308.4,174.5 L308.6,173.7 L308.7,173.3 L308.9,173.0 L309.1,172.0 L309.3,171.4 L309.4,170.9 L309.6,170.0 L309.8,169.5 L309.9,169.3 L310.1,168.5 L310.3,167.3 L310.5,167.0 L310.6,166.3 L310.8,165.4 L311.0,164.9 L311.2,164.5 L311.3,163.7 L311.5,162.8 L311.7,162.5 L311.8,162.5 L312.0,161.6 L312.2,160.3 L312.4,159.9 L312.5,159.0 L312.7,158.2 L312.9,157.7 L313.1,157.2 L313.2,156.6 L313.4,155.9 L313.6,155.7 L313.7,155.1 L313.9,154.3 L314.1,153.8 L314.3,153.0 L314.4,152.6 L314.6,152.1 L314.8,151.4 L315.0,150.4 L315.1,149.3 L315.3,148.6 L315.5,148.4 L315.7,147.6 L315.8,146.7 L316.0,146.2 L316.2,145.4 L316.3,145.1 L316.5,144.5 L316.7,144.0 L316.9,143.2 L317.0,142.5 L317.2,141.8 L317.4,141.2 L317.6,140.8 L317.7,140.2 L317.9,139.8 L318.1,139.2 L318.2,138.6 L318.4,137.7 L318.6,137.3 L318.8,136.8 L318.9,135.7 L319.1,135.2 L319.3,135.1 L319.5,134.6 L319.6,134.4 L319.8,133.5 L320.0,132.6 L320.1,132.2 L320.3,131.1 L320.5,130.1 L320.7,129.8 L320.8,130.0 L321.0,129.1 L321.2,128.0 L321.4,127.6 L321.5,127.4 L321.7,126.5 L321.9,125.3 L322.0,124.6 L322.2,124.6 L322.4,124.8 L322.6,123.8 L322.7,123.0 L322.9,122.2 L323.1,121.7 L323.3,121.2 L323.4,120.7 L323.6,120.0 L323.8,119.1 L324.0,118.3 L324.1,118.0 L324.3,118.0 L324.5,117.4 L324.6,116.3 L324.8,115.6 L325.0,115.3 L325.2,115.5 L325.3,115.0 L325.5,113.6 L325.7,112.9 L325.9,112.9 L326.0,112.8 L326.2,112.3 L326.4,111.6 L326.5,110.7 L326.7,110.3 L326.9,109.8 L327.1,108.9 L327.2,108.6 L327.4,108.1 L327.6,107.5 L327.8,107.2 L327.9,106.7 L328.1,105.8 L328.3,105.8 L328.4,105.2 L328.6,104.5 L328.8,103.7 L329.0,103.4 L329.1,103.3 L329.3,102.1 L329.5,101.5 L329.7,101.6 L329.8,100.9 L330.0,100.1 L330.2,100.0 L330.3,99.3 L330.5,98.9 L330.7,98.8 L330.9,97.8 L331.0,97.0 L331.2,96.9 L331.4,96.6 L331.6,95.5 L331.7,95.1 L331.9,94.9 L332.1,94.3 L332.3,93.9 L332.4,93.3 L332.6,93.2 L332.8,93.0 L332.9,92.4 L333.1,92.1 L333.3,91.2 L333.5,90.5 L333.6,90.1 L333.8,90.2 L334.0,89.7 L334.2,88.7 L334.3,88.6 L334.5,87.9 L334.7,87.2 L334.8,86.9 L335.0,86.8 L335.2,86.4 L335.4,85.5 L335.5,85.1 L335.7,85.5 L335.9,85.4 L336.1,84.5 L336.2,84.0 L336.4,83.3 L336.6,82.8 L336.7,82.5 L336.9,82.1 L337.1,81.9 L337.3,81.2 L337.4,80.5 L337.6,79.8 L337.8,79.9 L338.0,80.5 L338.1,79.6 L338.3,78.4 L338.5,78.5 L338.6,78.1 L338.8,77.6 L339.0,77.6 L339.2,76.8 L339.3,76.8 L339.5,76.6 L339.7,75.8 L339.9,75.7 L340.0,75.3 L340.2,74.7 L340.4,74.2 L340.6,74.0 L340.7,73.1 L340.9,73.0 L341.1,73.2 L341.2,72.2 L341.4,71.4 L341.6,71.5 L341.8,71.4 L341.9,70.9 L342.1,70.7 L342.3,70.4 L342.5,70.0 L342.6,69.7 L342.8,69.4 L343.0,69.5 L343.1,69.0 L343.3,68.1 L343.5,67.9 L343.7,67.8 L343.8,67.2 L344.0,66.7 L344.2,66.7 L344.4,66.2 L344.5,65.5 L344.7,65.4 L344.9,65.7 L345.0,65.2 L345.2,64.5 L345.4,64.6 L345.6,64.9 L345.7,64.0 L345.9,63.3 L346.1,63.7 L346.3,63.4 L346.4,62.4 L346.6,62.3 L346.8,62.0 L346.9,61.3 L347.1,61.1 L347.3,60.6 L347.5,59.9 L347.6,59.6 L347.8,59.9 L348.0,59.8 L348.2,59.4 L348.3,59.0 L348.5,58.6 L348.7,58.7 L348.9,59.1 L349.0,58.9 L349.2,58.2 L349.4,57.7 L349.5,57.9 L349.7,57.2 L349.9,56.5 L350.1,56.3 L350.2,55.7 L350.4,55.2 L350.6,55.1 L350.8,55.4 L350.9,54.8 L351.1,54.5 L351.3,54.9 L351.4,54.6 L351.6,54.2 L351.8,54.6 L352.0,54.6 L352.1,54.5 L352.3,53.3 L352.5,52.6 L352.7,52.9 L352.8,52.1 L353.0,51.8 L353.2,52.1 L353.3,51.4 L353.5,50.8 L353.7,50.9 L353.9,51.3 L354.0,51.4 L354.2,51.0 L354.4,50.6 L354.6,50.2 L354.7,50.1 L354.9,50.2 L355.1,50.0 L355.2,49.7 L355.4,49.3 L355.6,48.6 L355.8,48.2 L355.9,48.7 L356.1,48.9 L356.3,48.4 L356.5,48.3 L356.6,48.1 L356.8,47.8 L357.0,47.5 L357.1,47.2 L357.3,47.3 L357.5,47.1 L357.7,46.9 L357.8,46.9 L358.0,46.9 L358.2,46.2 L358.4,45.8 L358.5,46.2 L358.7,46.2 L358.9,45.8 L359.1,45.7 L359.2,45.3 L359.4,45.0 L359.6,45.0 L359.7,45.1 L359.9,45.1 L360.1,44.5 L360.3,44.2 L360.4,44.1 L360.6,44.7 L360.8,44.9 L361.0,44.8 L361.1,44.4 L361.3,44.1 L361.5,44.0 L361.6,43.7 L361.8,43.7 L362.0,43.5 L362.2,42.9 L362.3,43.0 L362.5,42.9 L362.7,42.2 L362.9,42.1 L363.0,42.1 L363.2,42.2 L363.4,42.5 L363.5,42.5 L363.7,42.3 L363.9,42.3 L364.1,42.3 L364.2,42.2 L364.4,41.7 L364.6,41.4 L364.8,41.5 L364.9,41.5 L365.1,40.7 L365.3,40.7 L365.4,40.9 L365.6,40.9 L365.8,41.1 L366.0,41.2 L366.1,41.2 L366.3,40.8 L366.5,40.4 L366.7,40.3 L366.8,40.6 L367.0,40.5 L367.2,40.7 L367.4,40.6 L367.5,40.0 L367.7,40.2 L367.9,40.3 L368.0,40.0 L368.2,40.0 L368.4,40.2 L368.6,40.1 L368.7,39.8 L368.9,39.7 L369.1,39.7 L369.3,39.4 L369.4,39.4 L369.6,39.6 L369.8,39.6 L369.9,39.2 L370.1,39.4 L370.3,39.6 L370.5,39.4 L370.6,39.6 L370.8,40.0 L371.0,39.9 L371.2,39.9 L371.3,39.9 L371.5,39.3 L371.7,39.2 L371.8,39.1 L372.0,39.1 L372.2,39.1 L372.4,39.0 L372.5,39.2 L372.7,39.6 L372.9,39.1 L373.1,38.8 L373.2,39.3 L373.4,39.3 L373.6,39.1 L373.7,39.2 L373.9,39.1 L374.1,39.0 L374.3,39.3 L374.4,39.5 L374.6,39.4 L374.8,38.8 L375.0,38.3 L375.1,38.7 L375.3,38.9 L375.5,38.9 L375.7,38.8 L375.8,38.7 L376.0,38.8 L376.2,39.1 L376.3,39.5 L376.5,39.4 L376.7,38.9 L376.9,38.7 L377.0,38.6 L377.2,38.9 L377.4,39.3 L377.6,38.9 L377.7,38.6 L377.9,38.9 L378.1,39.3 L378.2,39.0 L378.4,39.1 L378.6,39.5 L378.8,38.9 L378.9,38.8 L379.1,39.3 L379.3,39.1 L379.5,38.9 L379.6,39.0 L379.8,39.0 L380.0,39.0 L380.1,38.4 L380.3,38.7 L380.5,39.1 L380.7,39.3 L380.8,39.6 L381.0,39.6 L381.2,39.5 L381.4,38.9 L381.5,39.4 L381.7,39.6 L381.9,39.3 L382.0,39.7 L382.2,39.6 L382.4,39.9 L382.6,39.8 L382.7,39.4 L382.9,39.6 L383.1,39.6 L383.3,40.0 L383.4,40.1 L383.6,40.0 L383.8,40.2 L384.0,40.3 L384.1,40.2 L384.3,40.4 L384.5,40.5 L384.6,40.7 L384.8,41.1 L385.0,40.9 L385.2,40.6 L385.3,40.5 L385.5,40.5 L385.7,40.9 L385.9,41.5 L386.0,41.2 L386.2,40.4 L386.4,41.0 L386.5,41.4 L386.7,40.9 L386.9,41.2 L387.1,41.2 L387.2,41.1 L387.4,41.3 L387.6,41.7 L387.8,42.1 L387.9,42.6 L388.1,42.6 L388.3,42.6 L388.4,42.8 L388.6,42.6 L388.8,42.3 L389.0,42.7 L389.1,43.3 L389.3,42.7 L389.5,42.5 L389.7,42.3 L389.8,42.6 L390.0,43.0 L390.2,43.1 L390.3,43.1 L390.5,42.9 L390.7,43.1 L390.9,43.3 L391.0,43.3 L391.2,43.8 L391.4,43.7 L391.6,43.6 L391.7,43.9 L391.9,44.1 L392.1,43.5 L392.3,43.3 L392.4,44.2 L392.6,44.6 L392.8,44.2 L392.9,44.2 L393.1,44.4 L393.3,44.9 L393.5,45.1 L393.6,45.0 L393.8,45.3 L394.0,45.6 L394.2,45.6 L394.3,45.8 L394.5,45.6 L394.7,46.1 L394.8,46.4 L395.0,46.1 L395.2,46.0 L395.4,46.4 L395.5,46.9 L395.7,46.8 L395.9,47.0 L396.1,47.2 L396.2,47.2 L396.4,47.4 L396.6,47.5 L396.7,47.4 L396.9,47.3 L397.1,47.6 L397.3,48.3 L397.4,48.3 L397.6,48.3 L397.8,48.8 L398.0,48.2 L398.1,48.2 L398.3,48.6 L398.5,48.5 L398.6,48.8 L398.8,48.9 L399.0,49.3 L399.2,49.7 L399.3,49.6 L399.5,49.8 L399.7,50.0 L399.9,50.3 L400.0,49.9 L400.2,50.4 L400.4,50.7 L400.6,50.1 L400.7,50.5 L400.9,51.1 L401.1,51.3 L401.2,51.3 L401.4,51.3 L401.6,51.3 L401.8,51.3 L401.9,51.7 L402.1,51.9 L402.3,51.7 L402.5,52.0 L402.6,52.2 L402.8,52.3 L403.0,52.4 L403.1,52.4 L403.3,52.6 L403.5,52.9 L403.7,52.8 L403.8,52.3 L404.0,52.5 L404.2,53.1 L404.4,53.1 L404.5,53.6 L404.7,54.1 L404.9,53.8 L405.0,54.4 L405.2,54.9 L405.4,54.8 L405.6,54.8 L405.7,54.8 L405.9,54.8 L406.1,54.7 L406.3,55.0 L406.4,55.7 L406.6,55.7 L406.8,55.7 L406.9,56.1 L407.1,56.0 L407.3,56.4 L407.5,56.7 L407.6,56.4 L407.8,56.6 L408.0,56.9 L408.2,57.2 L408.3,57.3 L408.5,57.6 L408.7,57.4 L408.9,57.5 L409.0,57.7 L409.2,57.8 L409.4,58.1 L409.5,57.7 L409.7,57.8 L409.9,58.4 L410.1,58.8 L410.2,59.5 L410.4,59.6 L410.6,59.6 L410.8,59.4 L410.9,59.3 L411.1,59.7 L411.3,60.2 L411.4,60.3 L411.6,59.9 L411.8,60.4 L412.0,61.0 L412.1,61.0 L412.3,60.9 L412.5,61.3 L412.7,61.1 L412.8,61.0 L413.0,61.4 L413.2,61.1 L413.3,61.1 L413.5,61.3 L413.7,61.8 L413.9,62.5 L414.0,62.8 L414.2,62.7 L414.4,62.5 L414.6,62.6 L414.7,63.0 L414.9,63.4 L415.1,63.3 L415.2,63.3 L415.4,63.7 L415.6,63.7 L415.8,64.3 L415.9,64.8 L416.1,64.7 L416.3,64.5 L416.5,64.8 L416.6,65.3 L416.8,65.1 L417.0,64.7 L417.2,65.4 L417.3,65.9 L417.5,66.1 L417.7,66.3 L417.8,66.0 L418.0,66.0 L418.2,66.4 L418.4,66.6 L418.5,66.4 L418.7,66.6 L418.9,66.9 L419.1,67.1 L419.2,67.8 L419.4,67.9 L419.6,67.8 L419.7,68.2 L419.9,68.2 L420.1,68.3 L420.3,68.9 L420.4,69.0 L420.6,68.7 L420.8,69.2 L421.0,69.1 L421.1,69.0 L421.3,69.2 L421.5,69.0 L421.6,69.8 L421.8,70.4 L422.0,70.6 L422.2,70.6 L422.3,70.5 L422.5,70.6 L422.7,70.6 L422.9,70.7 L423.0,71.2 L423.2,71.5 L423.4,71.8 L423.5,71.5 L423.7,71.8 L423.9,72.2 L424.1,72.3 L424.2,72.3 L424.4,72.3 L424.6,72.8 L424.8,72.6 L424.9,72.8 L425.1,73.6 L425.3,74.0 L425.5,74.1 L425.6,74.1 L425.8,73.3 L426.0,73.4 L426.1,74.1 L426.3,74.4 L426.5,75.3 L426.7,75.4 L426.8,75.2 L427.0,75.4 L427.2,75.4 L427.4,75.2 L427.5,75.6 L427.7,75.6 L427.9,75.8 L428.0,76.6 L428.2,76.9 L428.4,76.7 L428.6,76.4 L428.7,76.7 L428.9,77.3 L429.1,77.5 L429.3,77.6 L429.4,77.9 L429.6,78.2 L429.8,78.2 L429.9,78.1 L430.1,78.5 L430.3,78.8 L430.5,79.2 L430.6,79.0 L430.8,78.9 L431.0,79.7 L431.2,79.6 L431.3,79.3 L431.5,79.8 L431.7,80.2 L431.8,80.0 L432.0,80.0 L432.2,80.2 L432.4,80.5 L432.5,81.1 L432.7,81.2 L432.9,81.2 L433.1,81.3 L433.2,81.2 L433.4,81.7 L433.6,81.8 L433.8,81.7 L433.9,82.1 L434.1,82.5 L434.3,82.7 L434.4,82.4 L434.6,82.6 L434.8,82.8 L435.0,83.1 L435.1,83.5 L435.3,83.5 L435.5,83.8 L435.7,84.0 L435.8,84.3 L436.0,84.8 L436.2,84.7 L436.3,84.4 L436.5,84.5 L436.7,84.6 L436.9,84.8 L437.0,84.9 L437.2,85.1 L437.4,85.7 L437.6,85.8 L437.7,86.0 L437.9,86.4 L438.1,86.2 L438.2,86.4 L438.4,87.1 L438.6,87.2 L438.8,87.2 L438.9,87.0 L439.1,87.0 L439.3,87.5 L439.5,87.4 L439.6,88.0 L439.8,88.1 L440.0,87.8 L440.1,88.2 L440.3,88.9 L440.5,89.3 L440.7,89.3 L440.8,89.4 L441.0,89.4 L441.2,89.3 L441.4,89.5 L441.5,89.3 L441.7,89.6 L441.9,90.0 L442.0,89.8 L442.2,90.7 L442.4,91.0 L442.6,90.4 L442.7,91.0 L442.9,91.8 L443.1,91.9 L443.3,91.3 L443.4,91.4 L443.6,92.0 L443.8,92.5 L444.0,92.5 L444.1,91.7 L444.3,91.7 L444.5,92.4 L444.6,92.7 L444.8,93.3 L445.0,93.7 L445.2,93.1 L445.3,93.1 L445.5,93.5 L445.7,94.1 L445.9,94.0 L446.0,93.8 L446.2,93.9 L446.4,94.3 L446.5,94.7 L446.7,94.7 L446.9,94.7 L447.1,95.2 L447.2,95.4 L447.4,94.9 L447.6,95.2 L447.8,95.9 L447.9,96.0 L448.1,96.2 L448.3,96.3 L448.4,96.1 L448.6,96.0 L448.8,96.4 L449.0,96.9 L449.1,97.0 L449.3,97.1 L449.5,97.2 L449.7,97.7 L449.8,97.8 L450.0,97.5 L450.2,97.8 L450.3,98.4 L450.5,98.5 L450.7,98.1 L450.9,98.1 L451.0,98.2 L451.2,98.0 L451.4,98.7 L451.6,99.0 L451.7,98.8 L451.9,99.2 L452.1,99.7 L452.3,99.5 L452.4,99.3 L452.6,99.8 L452.8,100.2 L452.9,100.3 L453.1,99.8 L453.3,99.8 L453.5,100.3 L453.6,100.8 L453.8,101.1 L454.0,100.6 L454.2,101.2 L454.3,102.0 L454.5,101.6 L454.7,101.3 L454.8,101.6 L455.0,102.3 L455.2,102.2 L455.4,102.4 L455.5,103.1 L455.7,103.0 L455.9,103.0 L456.1,103.1 L456.2,103.7 L456.4,103.8 L456.6,103.1 L456.7,103.1 L456.9,103.3 L457.1,103.5 L457.3,104.1 L457.4,104.5 L457.6,104.1 L457.8,103.6 L458.0,104.0 L458.1,104.3 L458.3,104.9 L458.5,104.4 L458.6,104.4 L458.8,105.0 L459.0,105.4 L459.2,105.9 L459.3,105.7 L459.5,105.8 L459.7,105.8 L459.9,105.7 L460.0,105.7 L460.2,106.0 L460.4,106.6 L460.6,106.8 L460.7,106.8 L460.9,107.0 L461.1,106.9 L461.2,106.7 L461.4,106.9 L461.6,107.4 L461.8,107.7 L461.9,107.8 L462.1,108.0 L462.3,107.6 L462.5,107.6 L462.6,107.6 L462.8,108.2 L463.0,108.4 L463.1,108.1 L463.3,108.9 L463.5,109.2 L463.7,108.8 L463.8,109.4 L464.0,109.9 L464.2,109.8 L464.4,110.0 L464.5,109.7 L464.7,109.6 L464.9,110.2 L465.0,110.2 L465.2,109.9 L465.4,110.4 L465.6,110.3 L465.7,110.4 L465.9,111.0 L466.1,110.9 L466.3,110.9 L466.4,111.2 L466.6,111.2 L466.8,111.1 L466.9,111.4 L467.1,111.8 L467.3,112.1 L467.5,112.0 L467.6,111.9 L467.8,112.5 L468.0,112.5 L468.2,112.6 L468.3,112.6 L468.5,112.8 L468.7,113.1 L468.9,113.3 L469.0,113.3 L469.2,113.4 L469.4,113.4 L469.5,113.1 L469.7,113.6 L469.9,113.7 L470.1,113.9 L470.2,114.3 L470.4,114.2 L470.6,114.1 L470.8,114.4 L470.9,114.8 L471.1,114.9 L471.3,114.7 L471.4,114.7 L471.6,115.2 L471.8,115.5 L472.0,115.2 L472.1,115.1 L472.3,115.7 L472.5,115.8 L472.7,115.6 L472.8,115.9 L473.0,116.2 L473.2,116.5 L473.3,116.6 L473.5,116.1 L473.7,116.2 L473.9,116.8 L474.0,116.5 L474.2,116.5 L474.4,116.4 L474.6,116.5 L474.7,117.4 L474.9,117.5 L475.1,117.4 L475.2,117.2 L475.4,117.4 L475.6,117.7 L475.8,117.7 L475.9,118.4 L476.1,118.1 L476.3,117.8 L476.5,118.0 L476.6,118.3 L476.8,118.7 L477.0,119.2 L477.2,119.6 L477.3,119.4 L477.5,119.3 L477.7,119.1 L477.8,119.6 L478.0,119.7 L478.2,119.5 L478.4,119.7 L478.5,119.3 L478.7,119.5 L478.9,120.2 L479.1,120.4 L479.2,120.2 L479.4,120.4 L479.6,120.7 L479.7,120.9 L479.9,121.0 L480.1,120.3 L480.3,120.4 L480.4,121.3 L480.6,120.9 L480.8,120.7 L481.0,121.0 L481.1,121.3 L481.3,121.7 L481.5,122.0 L481.6,121.8 L481.8,121.5 L482.0,122.1 L482.2,121.9 L482.3,121.7 L482.5,122.3 L482.7,122.5 L482.9,122.4 L483.0,122.8 L483.2,122.8 L483.4,122.8 L483.5,123.2 L483.7,123.4 L483.9,123.4 L484.1,123.3 L484.2,123.2 L484.4,123.3 L484.6,123.8 L484.8,123.9 L484.9,124.0 L485.1,124.3 L485.3,124.2 L485.5,124.0 L485.6,124.2 L485.8,124.4 L486.0,124.8 L486.1,124.9 L486.3,124.4 L486.5,124.9 L486.7,125.4 L486.8,125.0 L487.0,125.1 L487.2,125.5 L487.4,125.7 L487.5,125.5 L487.7,125.4 L487.9,125.7 L488.0,125.7 L488.2,125.5 L488.4,125.9 L488.6,126.4 L488.7,126.5 L488.9,126.5 L489.1,126.3 L489.3,126.5 L489.4,126.6 L489.6,126.6 L489.8,126.8 L489.9,126.6 L490.1,126.4 L490.3,126.6 L490.5,126.4 L490.6,126.4 L490.8,127.4 L491.0,127.8 L491.2,127.5 L491.3,127.6 L491.5,127.7 L491.7,127.6 L491.8,128.2 L492.0,128.2 L492.2,128.0 L492.4,127.9 L492.5,127.7 L492.7,128.3 L492.9,128.8 L493.1,128.3 L493.2,127.8 L493.4,128.2 L493.6,128.5 L493.8,128.9 L493.9,128.8 L494.1,129.2 L494.3,129.7 L494.4,129.8 L494.6,129.7 L494.8,129.5 L495.0,129.8 L495.1,130.0 L495.3,130.1 L495.5,130.3 L495.7,129.6 L495.8,128.8 L496.0,129.2 L496.2,129.6 L496.3,130.1 L496.5,130.5 L496.7,130.2 L496.9,130.0 L497.0,130.5 L497.2,130.8 L497.4,130.9 L497.6,131.0 L497.7,131.1 L497.9,131.3 L498.1,130.9 L498.2,131.0 L498.4,131.8 L498.6,132.1 L498.8,131.8 L498.9,132.0 L499.1,131.8 L499.3,131.5 L499.5,132.1 L499.6,132.0 L499.8,131.4 L500.0,131.4 L500.1,132.0 L500.3,132.2 L500.5,132.4 L500.7,133.2 L500.8,132.8 L501.0,132.4 L501.2,132.9 L501.4,133.0 L501.5,132.8 L501.7,132.7 L501.9,132.6 L502.1,133.0 L502.2,132.8 L502.4,132.8 L502.6,133.3 L502.7,133.6 L502.9,133.9 L503.1,133.9 L503.3,134.2 L503.4,133.6 L503.6,133.4 L503.8,134.0 L504.0,134.1 L504.1,133.8 L504.3,134.2 L504.5,134.4 L504.6,134.4 L504.8,134.9 L505.0,134.7 L505.2,134.3 L505.3,134.4 L505.5,134.7 L505.7,134.5 L505.9,134.3 L506.0,134.8 L506.2,135.1 L506.4,135.1 L506.5,135.0 L506.7,134.9 L506.9,135.2 L507.1,135.3 L507.2,135.3 L507.4,135.7 L507.6,135.7 L507.8,135.6 L507.9,135.7 L508.1,136.0 L508.3,136.0 L508.4,136.1 L508.6,136.3 L508.8,136.7 L509.0,136.8 L509.1,136.6 L509.3,136.6 L509.5,136.1 L509.7,136.1 L509.8,136.7 L510.0,136.9 L510.2,136.7 L510.4,136.5 L510.5,136.5 L510.7,137.3 L510.9,137.7 L511.0,137.4 L511.2,137.4 L511.4,137.2 L511.6,137.1 L511.7,137.4 L511.9,137.9 L512.1,138.0 L512.3,137.8 L512.4,137.8 L512.6,138.1 L512.8,138.0 L512.9,137.6 L513.1,138.2 L513.3,138.5 L513.5,138.6 L513.6,138.5 L513.8,137.7 L514.0,137.8 L514.2,138.6 L514.3,138.8 L514.5,138.3 L514.7,138.0 L514.8,137.9 L515.0,138.2 L515.2,139.2 L515.4,139.6 L515.5,139.0 L515.7,138.9 L515.9,139.1 L516.1,139.3 L516.2,139.3 L516.4,139.2 L516.6,139.4 L516.7,139.9 L516.9,140.1 L517.1,139.8 L517.3,139.8 L517.4,139.5 L517.6,139.2 L517.8,139.4 L518.0,139.8 L518.1,140.2 L518.3,140.0 L518.5,140.1 L518.7,140.0 L518.8,140.0 L519.0,140.4 L519.2,140.5 L519.3,140.8 L519.5,140.6 L519.7,140.2 L519.9,140.4 L520.0,140.7 L520.2,140.6 L520.4,140.8 L520.6,141.2 L520.7,140.9 L520.9,140.6 L521.1,141.0 L521.2,141.3 L521.4,141.1 L521.6,141.0 L521.8,141.7 L521.9,141.3 L522.1,141.2 L522.3,141.3 L522.5,141.2 L522.6,141.4 L522.8,141.0 L523.0,141.1 L523.1,141.4 L523.3,141.6 L523.5,141.6 L523.7,141.9 L523.8,141.8 L524.0,141.9 L524.2,142.1 L524.4,141.9 L524.5,142.3 L524.7,142.1 L524.9,141.5 L525.0,141.9 L525.2,142.5 L525.4,142.8 L525.6,142.4 L525.7,142.3 L525.9,142.6 L526.1,142.8 L526.3,143.0 L526.4,142.8 L526.6,142.7 L526.8,142.9 L527.0,143.4 L527.1,143.9 L527.3,143.3 L527.5,142.6 L527.6,143.1 L527.8,143.1 L528.0,143.2 L528.2,143.3 L528.3,143.3 L528.5,143.3 L528.7,143.6 L528.9,144.1 L529.0,143.9 L529.2,143.6 L529.4,143.6 L529.5,143.4 L529.7,143.8 L529.9,144.3 L530.1,143.9 L530.2,143.8 L530.4,144.1 L530.6,144.1 L530.8,144.2 L530.9,144.3 L531.1,143.6" stroke="#757577" stroke-width="1.3"/>
</g>
<rect x="81.7" y="12.0" width="449.40000000000003" height="361.85" fill="none" stroke="#0a0a0a" stroke-width="1.8"/>
<g stroke="#0a0a0a" stroke-width="1.1">
<line x1="126.64" y1="373.85" x2="126.64" y2="369.65000000000003"/>
<line x1="171.58" y1="373.85" x2="171.58" y2="366.25"/>
<line x1="216.52" y1="373.85" x2="216.52" y2="369.65000000000003"/>
<line x1="261.46" y1="373.85" x2="261.46" y2="366.25"/>
<line x1="306.40" y1="373.85" x2="306.40" y2="369.65000000000003"/>
<line x1="351.34" y1="373.85" x2="351.34" y2="366.25"/>
<line x1="396.28" y1="373.85" x2="396.28" y2="369.65000000000003"/>
<line x1="441.22" y1="373.85" x2="441.22" y2="366.25"/>
<line x1="486.16" y1="373.85" x2="486.16" y2="369.65000000000003"/>
<line x1="81.7" y1="57.23" x2="85.9" y2="57.23"/>
<line x1="81.7" y1="102.46" x2="89.3" y2="102.46"/>
<line x1="81.7" y1="147.69" x2="85.9" y2="147.69"/>
<line x1="81.7" y1="192.93" x2="89.3" y2="192.93"/>
<line x1="81.7" y1="238.16" x2="85.9" y2="238.16"/>
<line x1="81.7" y1="283.39" x2="89.3" y2="283.39"/>
<line x1="81.7" y1="328.62" x2="85.9" y2="328.62"/>
</g>
<g font-size="16.2px">
<text transform="translate(81.7,394.4) scale(0.965,1)" text-anchor="middle">0.00</text>
<text transform="translate(171.6,394.4) scale(0.965,1)" text-anchor="middle">0.02</text>
<text transform="translate(261.5,394.4) scale(0.965,1)" text-anchor="middle">0.04</text>
<text transform="translate(351.3,394.4) scale(0.965,1)" text-anchor="middle">0.06</text>
<text transform="translate(441.2,394.4) scale(0.965,1)" text-anchor="middle">0.08</text>
<text transform="translate(531.1,394.4) scale(0.965,1)" text-anchor="middle">0.10</text>
<text transform="translate(74.2,17.1) scale(0.965,1)" text-anchor="end">1.0</text>
<text transform="translate(74.2,107.6) scale(0.965,1)" text-anchor="end">0.5</text>
<text transform="translate(74.2,198.0) scale(0.965,1)" text-anchor="end">0.0</text>
<text transform="translate(74.2,288.5) scale(0.965,1)" text-anchor="end">-0.5</text>
<text transform="translate(74.2,379.0) scale(0.965,1)" text-anchor="end">-1.0</text>
</g>
<text x="307.5" y="424" font-size="18.7px" text-anchor="middle">Time (s)</text>
<text transform="translate(20.9,198.1) rotate(-90)" font-size="17.15px" text-anchor="middle">FMS–1f Signal (V)</text>
<text x="97.3" y="39.9" font-size="13.4px">Modulation frequency</text>
<g stroke-linecap="butt">
<line x1="97.8" x2="139.5" y1="56" y2="56" stroke="#f5ea8c" stroke-width="0.9"/>
<line x1="97.8" x2="139.5" y1="79.4" y2="79.4" stroke="#9448f5" stroke-width="1.4"/>
<line x1="97.8" x2="139.5" y1="102.6" y2="102.6" stroke="#82b030" stroke-width="1.3"/>
<line x1="97.8" x2="139.5" y1="125.8" y2="125.8" stroke="#909090" stroke-width="0.95"/>
</g>
<g font-size="13.4px">
<text x="143.2" y="63.1">100 MHz</text>
<text x="143.2" y="86.3">150 MHz</text>
<text x="143.2" y="109.3">250 MHz</text>
<text x="143.2" y="132.5">350 MHz</text>
</g>
</svg>
</body></html>
